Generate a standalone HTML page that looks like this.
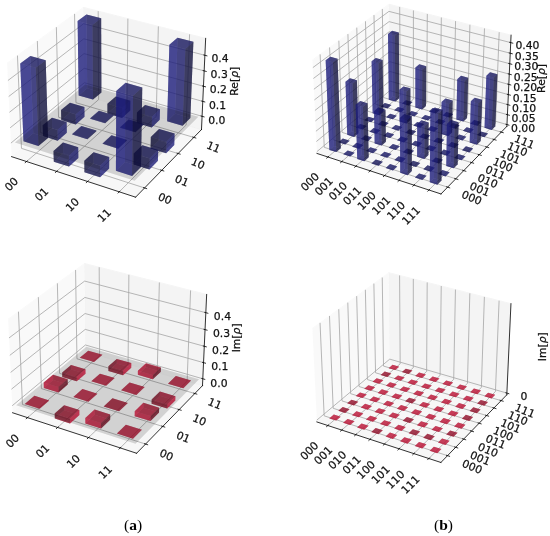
<!DOCTYPE html>
<html><head><meta charset="utf-8"><title>Figure</title>
<style>
html,body{margin:0;padding:0;background:#fff}
body{width:550px;height:536px;position:relative;overflow:hidden}
svg text{font-family:"DejaVu Sans","Liberation Sans",sans-serif;fill:#111;stroke:#111;stroke-width:0.25px}
.zl{font-size:10.8px}
.cap{position:absolute;font-family:"Liberation Serif","DejaVu Serif",serif;font-size:15.5px;color:#000;line-height:1}
.cap b{font-weight:bold}
</style></head><body>
<svg width="550" height="536" viewBox="0 0 550 536" style="position:absolute;left:0;top:0;display:block;filter:blur(0.35px)"> <defs> <style type="text/css">*{stroke-linejoin: round; stroke-linecap: butt}</style> </defs> <g id="figure_1"> <g id="patch_1"> <path d="M 0 536 L 550 536 L 550 0 L 0 0 z " style="fill: #ffffff"/> </g> <g id="patch_2"> <path d="M -1 211.1 L 215.7 211.1 L 215.7 -1 " style="fill: none; opacity: 0"/> </g> <g id="pane3d_1"> <g id="patch_3"> <path d="M 11.57 156.65 L 84.48 95.53 L 83.47 7.39 L 7.06 63.15 " style="fill: #f2f2f2; opacity: 0.4; stroke: #f2f2f2; stroke-linejoin: miter"/> </g> </g> <g id="pane3d_2"> <g id="patch_4"> <path d="M 84.48 95.53 L 201.49 129.54 L 205.66 38.36 L 83.47 7.39 " style="fill: #e6e6e6; opacity: 0.4; stroke: #e6e6e6; stroke-linejoin: miter"/> </g> </g> <g id="pane3d_3"> <g id="patch_5"> <path d="M 11.57 156.65 L 135.60 197.16 L 201.49 129.54 L 84.48 95.53 " style="fill: #ececec; opacity: 0.4; stroke: #ececec; stroke-linejoin: miter"/> </g> </g> <g id="grid3d_1"> <g id="Line3DCollection_1"> <path d="M 26.49 161.53 L 98.61 99.64 L 98.20 11.12 " style="fill: none; stroke: #a4a4a4; stroke-width: 0.8"/> <path d="M 56.59 171.36 L 127.08 107.91 L 127.89 18.65 " style="fill: none; stroke: #a4a4a4; stroke-width: 0.8"/> <path d="M 87.50 181.45 L 156.24 116.39 L 158.35 26.37 " style="fill: none; stroke: #a4a4a4; stroke-width: 0.8"/> <path d="M 119.24 191.82 L 186.11 125.07 L 189.58 34.28 " style="fill: none; stroke: #a4a4a4; stroke-width: 0.8"/> </g> </g> <g id="grid3d_2"> <g id="Line3DCollection_2"> <path d="M 17.46 55.56 L 21.46 148.36 L 144.57 187.95 " style="fill: none; stroke: #a4a4a4; stroke-width: 0.8"/> <path d="M 37.35 41.04 L 40.41 132.48 L 161.73 170.35 " style="fill: none; stroke: #a4a4a4; stroke-width: 0.8"/> <path d="M 56.37 27.17 L 58.56 117.27 L 178.12 153.52 " style="fill: none; stroke: #a4a4a4; stroke-width: 0.8"/> <path d="M 74.57 13.88 L 75.96 102.68 L 193.81 137.41 " style="fill: none; stroke: #a4a4a4; stroke-width: 0.8"/> </g> </g> <g id="grid3d_3"> <g id="Line3DCollection_3"> <path d="M 202.09 116.31 L 84.33 82.72 L 10.91 143.10 " style="fill: none; stroke: #a4a4a4; stroke-width: 0.8"/> <path d="M 202.77 101.39 L 84.17 68.28 L 10.18 127.81 " style="fill: none; stroke: #a4a4a4; stroke-width: 0.8"/> <path d="M 203.47 86.25 L 84.00 53.63 L 9.43 112.29 " style="fill: none; stroke: #a4a4a4; stroke-width: 0.8"/> <path d="M 204.17 70.88 L 83.83 38.79 L 8.67 96.54 " style="fill: none; stroke: #a4a4a4; stroke-width: 0.8"/> <path d="M 204.89 55.29 L 83.66 23.73 L 7.90 80.53 " style="fill: none; stroke: #a4a4a4; stroke-width: 0.8"/> </g> </g> <g id="axis3d_1"> <g id="line2d_1"> <path d="M 11.57 156.65 L 135.60 197.16 " style="fill: none; stroke: #000000; stroke-width: 0.8; stroke-linecap: square"/> </g> <g id="xtick_1"> <g id="line2d_2"> <path d="M 27.11 160.99 L 25.23 162.61 " style="fill: none; stroke: #000000; stroke-width: 0.8; stroke-linecap: square"/> </g> <g id="text_1"> <g transform="translate(1.5 -1.1)"><text style="font-size: 10.8px; font-family: 'DejaVu Sans'" transform="translate(7.65 192.83) rotate(-45)">00</text></g> </g> </g> <g id="xtick_2"> <g id="line2d_3"> <path d="M 57.21 170.81 L 55.36 172.47 " style="fill: none; stroke: #000000; stroke-width: 0.8; stroke-linecap: square"/> </g> <g id="text_2"> <g transform="translate(1.5 -1.1)"><text style="font-size: 10.8px; font-family: 'DejaVu Sans'" transform="translate(37.80 202.92) rotate(-45)">01</text></g> </g> </g> <g id="xtick_3"> <g id="line2d_4"> <path d="M 88.10 180.89 L 86.30 182.59 " style="fill: none; stroke: #000000; stroke-width: 0.8; stroke-linecap: square"/> </g> <g id="text_3"> <g transform="translate(1.5 -1.1)"><text style="font-size: 10.8px; font-family: 'DejaVu Sans'" transform="translate(68.75 213.27) rotate(-45)">10</text></g> </g> </g> <g id="xtick_4"> <g id="line2d_5"> <path d="M 119.82 191.23 L 118.07 192.99 " style="fill: none; stroke: #000000; stroke-width: 0.8; stroke-linecap: square"/> </g> <g id="text_4"> <g transform="translate(1.5 -1.1)"><text style="font-size: 10.8px; font-family: 'DejaVu Sans'" transform="translate(100.54 223.90) rotate(-45)">11</text></g> </g> </g> </g> <g id="axis3d_2"> <g id="line2d_6"> <path d="M 201.49 129.54 L 135.60 197.16 " style="fill: none; stroke: #000000; stroke-width: 0.8; stroke-linecap: square"/> </g> <g id="xtick_5"> <g id="line2d_7"> <path d="M 143.53 187.62 L 146.65 188.62 " style="fill: none; stroke: #000000; stroke-width: 0.8; stroke-linecap: square"/> </g> <g id="text_5"> <g transform="translate(-1 -2)"><text style="font-size: 10.8px; font-family: 'DejaVu Sans'" transform="translate(158.24 201.42) rotate(-337.5)">00</text></g> </g> </g> <g id="xtick_6"> <g id="line2d_8"> <path d="M 160.70 170.03 L 163.77 170.98 " style="fill: none; stroke: #000000; stroke-width: 0.8; stroke-linecap: square"/> </g> <g id="text_6"> <g transform="translate(-1 -2)"><text style="font-size: 10.8px; font-family: 'DejaVu Sans'" transform="translate(175.12 183.50) rotate(-337.5)">01</text></g> </g> </g> <g id="xtick_7"> <g id="line2d_9"> <path d="M 177.12 153.21 L 180.14 154.13 " style="fill: none; stroke: #000000; stroke-width: 0.8; stroke-linecap: square"/> </g> <g id="text_7"> <g transform="translate(-1 -2)"><text style="font-size: 10.8px; font-family: 'DejaVu Sans'" transform="translate(191.25 166.37) rotate(-337.5)">10</text></g> </g> </g> <g id="xtick_8"> <g id="line2d_10"> <path d="M 192.82 137.12 L 195.80 138.00 " style="fill: none; stroke: #000000; stroke-width: 0.8; stroke-linecap: square"/> </g> <g id="text_8"> <g transform="translate(-1 -2)"><text style="font-size: 10.8px; font-family: 'DejaVu Sans'" transform="translate(206.69 149.98) rotate(-337.5)">11</text></g> </g> </g> </g> <g id="axis3d_3"> <g id="line2d_11"> <path d="M 201.49 129.54 L 205.66 38.36 " style="fill: none; stroke: #000000; stroke-width: 0.8; stroke-linecap: square"/> </g> <g id="xtick_9"> <g id="line2d_12"> <path d="M 201.10 116.02 L 204.07 116.87 " style="fill: none; stroke: #000000; stroke-width: 0.8; stroke-linecap: square"/> </g> <g id="text_9"> <text style="font-size: 10.8px; font-family: 'DejaVu Sans'; text-anchor: middle" x="216.77" y="123.76">0.0</text> </g> </g> <g id="xtick_10"> <g id="line2d_13"> <path d="M 201.78 101.11 L 204.77 101.94 " style="fill: none; stroke: #000000; stroke-width: 0.8; stroke-linecap: square"/> </g> <g id="text_10"> <text style="font-size: 10.8px; font-family: 'DejaVu Sans'; text-anchor: middle" x="217.56" y="108.61">0.1</text> </g> </g> <g id="xtick_11"> <g id="line2d_14"> <path d="M 202.46 85.97 L 205.48 86.80 " style="fill: none; stroke: #000000; stroke-width: 0.8; stroke-linecap: square"/> </g> <g id="text_11"> <text style="font-size: 10.8px; font-family: 'DejaVu Sans'; text-anchor: middle" x="218.36" y="93.23">0.2</text> </g> </g> <g id="xtick_12"> <g id="line2d_15"> <path d="M 203.16 70.61 L 206.20 71.42 " style="fill: none; stroke: #000000; stroke-width: 0.8; stroke-linecap: square"/> </g> <g id="text_12"> <text style="font-size: 10.8px; font-family: 'DejaVu Sans'; text-anchor: middle" x="219.18" y="77.63">0.3</text> </g> </g> <g id="xtick_13"> <g id="line2d_16"> <path d="M 203.87 55.03 L 206.93 55.82 " style="fill: none; stroke: #000000; stroke-width: 0.8; stroke-linecap: square"/> </g> <g id="text_13"> <text style="font-size: 10.8px; font-family: 'DejaVu Sans'; text-anchor: middle" x="220.00" y="61.80">0.4</text> </g> </g> <g id="text_14"> <g transform="translate(239.11 95.68) rotate(-90)"><text class="zl" y="-0.64">Re[<tspan style="font-style: oblique">ρ</tspan>]</text></g> </g> </g> <g id="axes_1"> <g id="Poly3DCollection_1"> <path d="M 115.79 96.53 L 115.75 106.23 L 130.23 110.45 L 130.33 100.71 z " clip-path="url(#p7f9aa840dd)" style="fill: #1b1b7a; fill-opacity: 0.55"/> <path d="M 107.45 103.81 L 107.46 113.57 L 115.75 106.23 L 115.79 96.53 z " clip-path="url(#p7f9aa840dd)" style="fill: #0e0e3d; fill-opacity: 0.55"/> <path d="M 107.46 113.57 L 122.04 117.88 L 130.23 110.45 L 115.75 106.23 z " clip-path="url(#p7f9aa840dd)" style="fill: #18186b; fill-opacity: 0.55"/> <path d="M 107.45 103.81 L 115.79 96.53 L 130.33 100.71 L 122.11 108.07 z " clip-path="url(#p7f9aa840dd)" style="fill: #11114c; fill-opacity: 0.55"/> <path d="M 122.11 108.07 L 130.33 100.71 L 130.23 110.45 L 122.04 117.88 z " clip-path="url(#p7f9aa840dd)" style="fill: #1b1b7a; fill-opacity: 0.55"/> <path d="M 107.45 103.81 L 122.11 108.07 L 122.04 117.88 L 107.46 113.57 z " clip-path="url(#p7f9aa840dd)" style="fill: #0e0e3d; fill-opacity: 0.55"/> </g> <g id="Poly3DCollection_2"> <path d="M 69.97 102.67 L 70.15 112.57 L 84.48 116.86 L 84.37 106.93 z " clip-path="url(#p7f9aa840dd)" style="fill: #1b1b7a; fill-opacity: 0.55"/> <path d="M 61.07 110.07 L 61.30 120.04 L 70.15 112.57 L 69.97 102.67 z " clip-path="url(#p7f9aa840dd)" style="fill: #0e0e3d; fill-opacity: 0.55"/> <path d="M 61.30 120.04 L 75.73 124.43 L 84.48 116.86 L 70.15 112.57 z " clip-path="url(#p7f9aa840dd)" style="fill: #18186b; fill-opacity: 0.55"/> <path d="M 61.07 110.07 L 69.97 102.67 L 84.37 106.93 L 75.57 114.42 z " clip-path="url(#p7f9aa840dd)" style="fill: #11114c; fill-opacity: 0.55"/> <path d="M 75.57 114.42 L 84.37 106.93 L 84.48 116.86 L 75.73 124.43 z " clip-path="url(#p7f9aa840dd)" style="fill: #1b1b7a; fill-opacity: 0.55"/> <path d="M 61.07 110.07 L 75.57 114.42 L 75.73 124.43 L 61.30 120.04 z " clip-path="url(#p7f9aa840dd)" style="fill: #0e0e3d; fill-opacity: 0.55"/> </g> <g id="Poly3DCollection_3"> <path d="M 145.06 104.94 L 144.87 115.44 L 159.70 119.77 L 159.97 109.23 z " clip-path="url(#p7f9aa840dd)" style="fill: #1b1b7a; fill-opacity: 0.55"/> <path d="M 136.94 112.40 L 136.79 122.97 L 144.87 115.44 L 145.06 104.94 z " clip-path="url(#p7f9aa840dd)" style="fill: #0e0e3d; fill-opacity: 0.55"/> <path d="M 136.79 122.97 L 151.73 127.39 L 159.70 119.77 L 144.87 115.44 z " clip-path="url(#p7f9aa840dd)" style="fill: #18186b; fill-opacity: 0.55"/> <path d="M 136.94 112.40 L 145.06 104.94 L 159.97 109.23 L 151.96 116.77 z " clip-path="url(#p7f9aa840dd)" style="fill: #11114c; fill-opacity: 0.55"/> <path d="M 151.96 116.77 L 159.97 109.23 L 159.70 119.77 L 151.73 127.39 z " clip-path="url(#p7f9aa840dd)" style="fill: #1b1b7a; fill-opacity: 0.55"/> <path d="M 136.94 112.40 L 151.96 116.77 L 151.73 127.39 L 136.79 122.97 z " clip-path="url(#p7f9aa840dd)" style="fill: #0e0e3d; fill-opacity: 0.55"/> </g> <g id="Poly3DCollection_4"> <path d="M 98.94 111.23 L 98.94 110.79 L 113.70 115.15 L 113.70 115.59 z " clip-path="url(#p7f9aa840dd)" style="fill: #0e0e3d; fill-opacity: 0.55"/> <path d="M 90.25 118.82 L 90.25 118.37 L 98.94 110.79 L 98.94 111.23 z " clip-path="url(#p7f9aa840dd)" style="fill: #1b1b7a; fill-opacity: 0.55"/> <path d="M 90.25 118.82 L 98.94 111.23 L 113.70 115.59 L 105.11 123.28 z " clip-path="url(#p7f9aa840dd)" style="fill: #11114c; fill-opacity: 0.55"/> <path d="M 90.25 118.37 L 105.11 122.83 L 113.70 115.15 L 98.94 110.79 z " clip-path="url(#p7f9aa840dd)" style="fill: #18186b; fill-opacity: 0.55"/> <path d="M 105.11 123.28 L 113.70 115.59 L 113.70 115.15 L 105.11 122.83 z " clip-path="url(#p7f9aa840dd)" style="fill: #0e0e3d; fill-opacity: 0.55"/> <path d="M 90.25 118.82 L 105.11 123.28 L 105.11 122.83 L 90.25 118.37 z " clip-path="url(#p7f9aa840dd)" style="fill: #1b1b7a; fill-opacity: 0.55"/> </g> <g id="Poly3DCollection_5"> <path d="M 78.68 95.42 L 87.21 88.32 L 101.41 92.40 L 92.98 99.59 z " clip-path="url(#p7f9aa840dd)" style="fill: #11114c; fill-opacity: 0.55"/> <path d="M 87.21 88.32 L 86.46 14.56 L 101.17 18.32 L 101.41 92.40 z " clip-path="url(#p7f9aa840dd)" style="fill: #0e0e3d; fill-opacity: 0.55"/> <path d="M 78.68 95.42 L 77.62 21.11 L 86.46 14.56 L 87.21 88.32 z " clip-path="url(#p7f9aa840dd)" style="fill: #1b1b7a; fill-opacity: 0.55"/> <path d="M 92.98 99.59 L 101.41 92.40 L 101.17 18.32 L 92.43 24.96 z " clip-path="url(#p7f9aa840dd)" style="fill: #0e0e3d; fill-opacity: 0.55"/> <path d="M 78.68 95.42 L 92.98 99.59 L 92.43 24.96 L 77.62 21.11 z " clip-path="url(#p7f9aa840dd)" style="fill: #1b1b7a; fill-opacity: 0.55"/> <path d="M 77.62 21.11 L 92.43 24.96 L 101.17 18.32 L 86.46 14.56 z " clip-path="url(#p7f9aa840dd)" style="fill: #18186b; fill-opacity: 0.55"/> </g> <g id="Poly3DCollection_6"> <path d="M 51.99 117.64 L 52.28 128.26 L 66.80 132.74 L 66.59 122.08 z " clip-path="url(#p7f9aa840dd)" style="fill: #1b1b7a; fill-opacity: 0.55"/> <path d="M 42.70 125.36 L 43.05 136.06 L 52.28 128.26 L 51.99 117.64 z " clip-path="url(#p7f9aa840dd)" style="fill: #0e0e3d; fill-opacity: 0.55"/> <path d="M 43.05 136.06 L 57.67 140.64 L 66.80 132.74 L 52.28 128.26 z " clip-path="url(#p7f9aa840dd)" style="fill: #18186b; fill-opacity: 0.55"/> <path d="M 42.70 125.36 L 51.99 117.64 L 66.59 122.08 L 57.40 129.90 z " clip-path="url(#p7f9aa840dd)" style="fill: #11114c; fill-opacity: 0.55"/> <path d="M 57.40 129.90 L 66.59 122.08 L 66.80 132.74 L 57.67 140.64 z " clip-path="url(#p7f9aa840dd)" style="fill: #1b1b7a; fill-opacity: 0.55"/> <path d="M 42.70 125.36 L 57.40 129.90 L 57.67 140.64 L 43.05 136.06 z " clip-path="url(#p7f9aa840dd)" style="fill: #0e0e3d; fill-opacity: 0.55"/> </g> <g id="Poly3DCollection_7"> <path d="M 128.64 120.01 L 128.65 119.41 L 143.78 123.88 L 143.77 124.48 z " clip-path="url(#p7f9aa840dd)" style="fill: #0e0e3d; fill-opacity: 0.55"/> <path d="M 120.16 127.79 L 120.17 127.19 L 128.65 119.41 L 128.64 120.01 z " clip-path="url(#p7f9aa840dd)" style="fill: #1b1b7a; fill-opacity: 0.55"/> <path d="M 120.16 127.79 L 128.64 120.01 L 143.77 124.48 L 135.41 132.36 z " clip-path="url(#p7f9aa840dd)" style="fill: #11114c; fill-opacity: 0.55"/> <path d="M 120.17 127.19 L 135.41 131.76 L 143.78 123.88 L 128.65 119.41 z " clip-path="url(#p7f9aa840dd)" style="fill: #18186b; fill-opacity: 0.55"/> <path d="M 135.41 132.36 L 143.77 124.48 L 143.78 123.88 L 135.41 131.76 z " clip-path="url(#p7f9aa840dd)" style="fill: #0e0e3d; fill-opacity: 0.55"/> <path d="M 120.16 127.79 L 135.41 132.36 L 135.41 131.76 L 120.17 127.19 z " clip-path="url(#p7f9aa840dd)" style="fill: #1b1b7a; fill-opacity: 0.55"/> </g> <g id="Poly3DCollection_8"> <path d="M 81.37 126.57 L 81.36 125.98 L 96.33 130.53 L 96.34 131.13 z " clip-path="url(#p7f9aa840dd)" style="fill: #0e0e3d; fill-opacity: 0.55"/> <path d="M 72.29 134.50 L 72.28 133.90 L 81.36 125.98 L 81.37 126.57 z " clip-path="url(#p7f9aa840dd)" style="fill: #1b1b7a; fill-opacity: 0.55"/> <path d="M 72.29 134.50 L 81.37 126.57 L 96.34 131.13 L 87.37 139.15 z " clip-path="url(#p7f9aa840dd)" style="fill: #11114c; fill-opacity: 0.55"/> <path d="M 72.28 133.90 L 87.36 138.55 L 96.33 130.53 L 81.36 125.98 z " clip-path="url(#p7f9aa840dd)" style="fill: #18186b; fill-opacity: 0.55"/> <path d="M 87.37 139.15 L 96.34 131.13 L 96.33 130.53 L 87.36 138.55 z " clip-path="url(#p7f9aa840dd)" style="fill: #0e0e3d; fill-opacity: 0.55"/> <path d="M 72.29 134.50 L 87.37 139.15 L 87.36 138.55 L 72.28 133.90 z " clip-path="url(#p7f9aa840dd)" style="fill: #1b1b7a; fill-opacity: 0.55"/> </g> <g id="Poly3DCollection_9"> <path d="M 159.09 129.01 L 158.81 140.48 L 174.23 145.11 L 174.61 133.59 z " clip-path="url(#p7f9aa840dd)" style="fill: #1b1b7a; fill-opacity: 0.55"/> <path d="M 150.84 136.99 L 150.60 148.54 L 158.81 140.48 L 159.09 129.01 z " clip-path="url(#p7f9aa840dd)" style="fill: #0e0e3d; fill-opacity: 0.55"/> <path d="M 150.60 148.54 L 166.15 153.27 L 174.23 145.11 L 158.81 140.48 z " clip-path="url(#p7f9aa840dd)" style="fill: #18186b; fill-opacity: 0.55"/> <path d="M 150.84 136.99 L 159.09 129.01 L 174.61 133.59 L 166.48 141.67 z " clip-path="url(#p7f9aa840dd)" style="fill: #11114c; fill-opacity: 0.55"/> <path d="M 166.48 141.67 L 174.61 133.59 L 174.23 145.11 L 166.15 153.27 z " clip-path="url(#p7f9aa840dd)" style="fill: #1b1b7a; fill-opacity: 0.55"/> <path d="M 150.84 136.99 L 166.48 141.67 L 166.15 153.27 L 150.60 148.54 z " clip-path="url(#p7f9aa840dd)" style="fill: #0e0e3d; fill-opacity: 0.55"/> </g> <g id="Poly3DCollection_10"> <path d="M 111.50 135.74 L 111.50 135.29 L 126.86 139.96 L 126.85 140.41 z " clip-path="url(#p7f9aa840dd)" style="fill: #0e0e3d; fill-opacity: 0.55"/> <path d="M 102.64 143.87 L 102.64 143.41 L 111.50 135.29 L 111.50 135.74 z " clip-path="url(#p7f9aa840dd)" style="fill: #1b1b7a; fill-opacity: 0.55"/> <path d="M 102.64 143.87 L 111.50 135.74 L 126.85 140.41 L 118.11 148.64 z " clip-path="url(#p7f9aa840dd)" style="fill: #11114c; fill-opacity: 0.55"/> <path d="M 102.64 143.41 L 118.11 148.19 L 126.86 139.96 L 111.50 135.29 z " clip-path="url(#p7f9aa840dd)" style="fill: #18186b; fill-opacity: 0.55"/> <path d="M 118.11 148.64 L 126.85 140.41 L 126.86 139.96 L 118.11 148.19 z " clip-path="url(#p7f9aa840dd)" style="fill: #0e0e3d; fill-opacity: 0.55"/> <path d="M 102.64 143.87 L 118.11 148.64 L 118.11 148.19 L 102.64 143.41 z " clip-path="url(#p7f9aa840dd)" style="fill: #1b1b7a; fill-opacity: 0.55"/> </g> <g id="Poly3DCollection_11"> <path d="M 167.16 121.20 L 175.06 113.56 L 190.34 117.95 L 182.56 125.69 z " clip-path="url(#p7f9aa840dd)" style="fill: #11114c; fill-opacity: 0.55"/> <path d="M 175.06 113.56 L 177.53 37.73 L 193.40 41.79 L 190.34 117.95 z " clip-path="url(#p7f9aa840dd)" style="fill: #0e0e3d; fill-opacity: 0.55"/> <path d="M 167.16 121.20 L 169.37 44.80 L 177.53 37.73 L 175.06 113.56 z " clip-path="url(#p7f9aa840dd)" style="fill: #1b1b7a; fill-opacity: 0.55"/> <path d="M 182.56 125.69 L 190.34 117.95 L 193.40 41.79 L 185.36 48.95 z " clip-path="url(#p7f9aa840dd)" style="fill: #0e0e3d; fill-opacity: 0.55"/> <path d="M 167.16 121.20 L 182.56 125.69 L 185.36 48.95 L 169.37 44.80 z " clip-path="url(#p7f9aa840dd)" style="fill: #1b1b7a; fill-opacity: 0.55"/> <path d="M 169.37 44.80 L 185.36 48.95 L 193.40 41.79 L 177.53 37.73 z " clip-path="url(#p7f9aa840dd)" style="fill: #18186b; fill-opacity: 0.55"/> </g> <g id="Poly3DCollection_12"> <path d="M 63.01 142.60 L 63.25 153.31 L 78.35 158.11 L 78.19 147.36 z " clip-path="url(#p7f9aa840dd)" style="fill: #1b1b7a; fill-opacity: 0.55"/> <path d="M 53.51 150.88 L 53.81 161.67 L 63.25 153.31 L 63.01 142.60 z " clip-path="url(#p7f9aa840dd)" style="fill: #0e0e3d; fill-opacity: 0.55"/> <path d="M 53.81 161.67 L 69.03 166.58 L 78.35 158.11 L 63.25 153.31 z " clip-path="url(#p7f9aa840dd)" style="fill: #18186b; fill-opacity: 0.55"/> <path d="M 53.51 150.88 L 63.01 142.60 L 78.19 147.36 L 68.81 155.75 z " clip-path="url(#p7f9aa840dd)" style="fill: #11114c; fill-opacity: 0.55"/> <path d="M 68.81 155.75 L 78.19 147.36 L 78.35 158.11 L 69.03 166.58 z " clip-path="url(#p7f9aa840dd)" style="fill: #1b1b7a; fill-opacity: 0.55"/> <path d="M 53.51 150.88 L 68.81 155.75 L 69.03 166.58 L 53.81 161.67 z " clip-path="url(#p7f9aa840dd)" style="fill: #0e0e3d; fill-opacity: 0.55"/> </g> <g id="Poly3DCollection_13"> <path d="M 142.41 145.14 L 142.23 156.03 L 157.90 160.86 L 158.17 149.94 z " clip-path="url(#p7f9aa840dd)" style="fill: #1b1b7a; fill-opacity: 0.55"/> <path d="M 133.78 153.48 L 133.64 164.45 L 142.23 156.03 L 142.41 145.14 z " clip-path="url(#p7f9aa840dd)" style="fill: #0e0e3d; fill-opacity: 0.55"/> <path d="M 133.64 164.45 L 149.44 169.39 L 157.90 160.86 L 142.23 156.03 z " clip-path="url(#p7f9aa840dd)" style="fill: #18186b; fill-opacity: 0.55"/> <path d="M 133.78 153.48 L 142.41 145.14 L 158.17 149.94 L 149.66 158.39 z " clip-path="url(#p7f9aa840dd)" style="fill: #11114c; fill-opacity: 0.55"/> <path d="M 149.66 158.39 L 158.17 149.94 L 157.90 160.86 L 149.44 169.39 z " clip-path="url(#p7f9aa840dd)" style="fill: #1b1b7a; fill-opacity: 0.55"/> <path d="M 133.78 153.48 L 149.66 158.39 L 149.44 169.39 L 133.64 164.45 z " clip-path="url(#p7f9aa840dd)" style="fill: #0e0e3d; fill-opacity: 0.55"/> </g> <g id="Poly3DCollection_14"> <path d="M 93.58 152.18 L 93.66 163.58 L 109.16 168.52 L 109.17 157.07 z " clip-path="url(#p7f9aa840dd)" style="fill: #1b1b7a; fill-opacity: 0.55"/> <path d="M 84.31 160.68 L 84.45 172.17 L 93.66 163.58 L 93.58 152.18 z " clip-path="url(#p7f9aa840dd)" style="fill: #0e0e3d; fill-opacity: 0.55"/> <path d="M 84.45 172.17 L 100.07 177.21 L 109.16 168.52 L 93.66 163.58 z " clip-path="url(#p7f9aa840dd)" style="fill: #18186b; fill-opacity: 0.55"/> <path d="M 84.31 160.68 L 93.58 152.18 L 109.17 157.07 L 100.02 165.68 z " clip-path="url(#p7f9aa840dd)" style="fill: #11114c; fill-opacity: 0.55"/> <path d="M 100.02 165.68 L 109.17 157.07 L 109.16 168.52 L 100.07 177.21 z " clip-path="url(#p7f9aa840dd)" style="fill: #1b1b7a; fill-opacity: 0.55"/> <path d="M 84.31 160.68 L 100.02 165.68 L 100.07 177.21 L 84.45 172.17 z " clip-path="url(#p7f9aa840dd)" style="fill: #0e0e3d; fill-opacity: 0.55"/> </g> <g id="Poly3DCollection_15"> <path d="M 23.51 141.33 L 33.21 133.26 L 48.01 137.90 L 38.42 146.08 z " clip-path="url(#p7f9aa840dd)" style="fill: #11114c; fill-opacity: 0.55"/> <path d="M 33.21 133.26 L 30.36 55.97 L 45.71 60.28 L 48.01 137.90 z " clip-path="url(#p7f9aa840dd)" style="fill: #0e0e3d; fill-opacity: 0.55"/> <path d="M 23.51 141.33 L 20.25 63.46 L 30.36 55.97 L 33.21 133.26 z " clip-path="url(#p7f9aa840dd)" style="fill: #1b1b7a; fill-opacity: 0.55"/> <path d="M 38.42 146.08 L 48.01 137.90 L 45.71 60.28 L 35.71 67.87 z " clip-path="url(#p7f9aa840dd)" style="fill: #0e0e3d; fill-opacity: 0.55"/> <path d="M 23.51 141.33 L 38.42 146.08 L 35.71 67.87 L 20.25 63.46 z " clip-path="url(#p7f9aa840dd)" style="fill: #1b1b7a; fill-opacity: 0.55"/> <path d="M 20.25 63.46 L 35.71 67.87 L 45.71 60.28 L 30.36 55.97 z " clip-path="url(#p7f9aa840dd)" style="fill: #18186b; fill-opacity: 0.55"/> </g> <g id="Poly3DCollection_16"> <path d="M 14.88 142.54 L 134.61 180.85 L 198.40 116.82 L 85.23 84.47 z " clip-path="url(#p7f9aa840dd)" style="fill-opacity: 0.15"/> </g> <g id="Poly3DCollection_17"> <path d="M 115.93 170.75 L 124.96 162.02 L 140.97 167.03 L 132.06 175.88 z " clip-path="url(#p7f9aa840dd)" style="fill: #11114c; fill-opacity: 0.55"/> <path d="M 124.96 162.02 L 125.62 82.85 L 142.27 87.51 L 140.97 167.03 z " clip-path="url(#p7f9aa840dd)" style="fill: #0e0e3d; fill-opacity: 0.55"/> <path d="M 115.93 170.75 L 116.24 90.97 L 125.62 82.85 L 124.96 162.02 z " clip-path="url(#p7f9aa840dd)" style="fill: #1b1b7a; fill-opacity: 0.55"/> <path d="M 132.06 175.88 L 140.97 167.03 L 142.27 87.51 L 133.02 95.75 z " clip-path="url(#p7f9aa840dd)" style="fill: #0e0e3d; fill-opacity: 0.55"/> <path d="M 115.93 170.75 L 132.06 175.88 L 133.02 95.75 L 116.24 90.97 z " clip-path="url(#p7f9aa840dd)" style="fill: #1b1b7a; fill-opacity: 0.55"/> <path d="M 116.24 90.97 L 133.02 95.75 L 142.27 87.51 L 125.62 82.85 z " clip-path="url(#p7f9aa840dd)" style="fill: #18186b; fill-opacity: 0.55"/> </g> </g> <g id="patch_6"> <path d="M 300.3 207.9 L 521.1 207.9 L 521.1 -1 M 300.3 -1 L 300.3 207.9 " style="fill: none; opacity: 0"/> </g> <g id="pane3d_4"> <g id="patch_7"> <path d="M 316.97 153.45 L 389.88 92.33 L 388.87 4.19 L 312.46 59.95 " style="fill: #f2f2f2; opacity: 0.4; stroke: #f2f2f2; stroke-linejoin: miter"/> </g> </g> <g id="pane3d_5"> <g id="patch_8"> <path d="M 389.88 92.33 L 506.89 126.34 L 511.06 35.16 L 388.87 4.19 " style="fill: #e6e6e6; opacity: 0.4; stroke: #e6e6e6; stroke-linejoin: miter"/> </g> </g> <g id="pane3d_6"> <g id="patch_9"> <path d="M 316.97 153.45 L 441.00 193.96 L 506.89 126.34 L 389.88 92.33 " style="fill: #ececec; opacity: 0.4; stroke: #ececec; stroke-linejoin: miter"/> </g> </g> <g id="grid3d_4"> <g id="Line3DCollection_4"> <path d="M 327.93 157.03 L 400.27 95.35 L 399.69 6.93 " style="fill: none; stroke: #a4a4a4; stroke-width: 0.8"/> <path d="M 341.84 161.57 L 413.42 99.18 L 413.41 10.41 " style="fill: none; stroke: #a4a4a4; stroke-width: 0.8"/> <path d="M 355.91 166.17 L 426.73 103.04 L 427.30 13.93 " style="fill: none; stroke: #a4a4a4; stroke-width: 0.8"/> <path d="M 370.16 170.82 L 440.19 106.96 L 441.34 17.49 " style="fill: none; stroke: #a4a4a4; stroke-width: 0.8"/> <path d="M 384.58 175.54 L 453.79 110.91 L 455.55 21.09 " style="fill: none; stroke: #a4a4a4; stroke-width: 0.8"/> <path d="M 399.18 180.30 L 467.55 114.91 L 469.93 24.74 " style="fill: none; stroke: #a4a4a4; stroke-width: 0.8"/> <path d="M 413.96 185.13 L 481.47 118.96 L 484.48 28.42 " style="fill: none; stroke: #a4a4a4; stroke-width: 0.8"/> <path d="M 428.93 190.02 L 495.55 123.05 L 499.20 32.16 " style="fill: none; stroke: #a4a4a4; stroke-width: 0.8"/> </g> </g> <g id="grid3d_5"> <g id="Line3DCollection_5"> <path d="M 320.14 54.34 L 324.27 147.33 L 447.62 187.16 " style="fill: none; stroke: #a4a4a4; stroke-width: 0.8"/> <path d="M 329.59 47.45 L 333.27 139.79 L 455.78 178.79 " style="fill: none; stroke: #a4a4a4; stroke-width: 0.8"/> <path d="M 338.85 40.69 L 342.08 132.40 L 463.76 170.60 " style="fill: none; stroke: #a4a4a4; stroke-width: 0.8"/> <path d="M 347.91 34.08 L 350.72 125.16 L 471.57 162.58 " style="fill: none; stroke: #a4a4a4; stroke-width: 0.8"/> <path d="M 356.78 27.61 L 359.19 118.06 L 479.22 154.73 " style="fill: none; stroke: #a4a4a4; stroke-width: 0.8"/> <path d="M 365.47 21.26 L 367.50 111.10 L 486.72 147.04 " style="fill: none; stroke: #a4a4a4; stroke-width: 0.8"/> <path d="M 373.99 15.05 L 375.64 104.27 L 494.06 139.50 " style="fill: none; stroke: #a4a4a4; stroke-width: 0.8"/> <path d="M 382.34 8.96 L 383.63 97.58 L 501.25 132.12 " style="fill: none; stroke: #a4a4a4; stroke-width: 0.8"/> </g> </g> <g id="grid3d_6"> <g id="Line3DCollection_6"> <path d="M 506.97 124.59 L 389.86 90.64 L 316.88 151.66 " style="fill: none; stroke: #a4a4a4; stroke-width: 0.8"/> <path d="M 507.42 114.70 L 389.75 81.06 L 316.39 141.53 " style="fill: none; stroke: #a4a4a4; stroke-width: 0.8"/> <path d="M 507.88 104.70 L 389.64 71.38 L 315.90 131.29 " style="fill: none; stroke: #a4a4a4; stroke-width: 0.8"/> <path d="M 508.34 94.61 L 389.53 61.62 L 315.40 120.95 " style="fill: none; stroke: #a4a4a4; stroke-width: 0.8"/> <path d="M 508.81 84.42 L 389.42 51.76 L 314.90 110.50 " style="fill: none; stroke: #a4a4a4; stroke-width: 0.8"/> <path d="M 509.28 74.12 L 389.30 41.81 L 314.39 99.94 " style="fill: none; stroke: #a4a4a4; stroke-width: 0.8"/> <path d="M 509.75 63.73 L 389.19 31.76 L 313.88 89.27 " style="fill: none; stroke: #a4a4a4; stroke-width: 0.8"/> <path d="M 510.23 53.23 L 389.07 21.62 L 313.36 78.50 " style="fill: none; stroke: #a4a4a4; stroke-width: 0.8"/> <path d="M 510.72 42.62 L 388.95 11.39 L 312.83 67.61 " style="fill: none; stroke: #a4a4a4; stroke-width: 0.8"/> </g> </g> <g id="axis3d_4"> <g id="line2d_17"> <path d="M 316.97 153.45 L 441.00 193.96 " style="fill: none; stroke: #000000; stroke-width: 0.8; stroke-linecap: square"/> </g> <g id="xtick_14"> <g id="line2d_18"> <path d="M 328.56 156.50 L 326.67 158.11 " style="fill: none; stroke: #000000; stroke-width: 0.8; stroke-linecap: square"/> </g> <g id="text_15"> <g transform="translate(1 -1.5)"><text style="font-size: 10.8px; font-family: 'DejaVu Sans'" transform="translate(304.23 193.16) rotate(-45)">000</text></g> </g> </g> <g id="xtick_15"> <g id="line2d_19"> <path d="M 342.46 161.03 L 340.58 162.66 " style="fill: none; stroke: #000000; stroke-width: 0.8; stroke-linecap: square"/> </g> <g id="text_16"> <g transform="translate(1 -1.5)"><text style="font-size: 10.8px; font-family: 'DejaVu Sans'" transform="translate(318.16 197.82) rotate(-45)">001</text></g> </g> </g> <g id="xtick_16"> <g id="line2d_20"> <path d="M 356.53 165.62 L 354.67 167.27 " style="fill: none; stroke: #000000; stroke-width: 0.8; stroke-linecap: square"/> </g> <g id="text_17"> <g transform="translate(1 -1.5)"><text style="font-size: 10.8px; font-family: 'DejaVu Sans'" transform="translate(332.25 202.54) rotate(-45)">010</text></g> </g> </g> <g id="xtick_17"> <g id="line2d_21"> <path d="M 370.77 170.27 L 368.93 171.94 " style="fill: none; stroke: #000000; stroke-width: 0.8; stroke-linecap: square"/> </g> <g id="text_18"> <g transform="translate(1 -1.5)"><text style="font-size: 10.8px; font-family: 'DejaVu Sans'" transform="translate(346.52 207.31) rotate(-45)">011</text></g> </g> </g> <g id="xtick_18"> <g id="line2d_22"> <path d="M 385.18 174.97 L 383.37 176.67 " style="fill: none; stroke: #000000; stroke-width: 0.8; stroke-linecap: square"/> </g> <g id="text_19"> <g transform="translate(1 -1.5)"><text style="font-size: 10.8px; font-family: 'DejaVu Sans'" transform="translate(360.96 212.14) rotate(-45)">100</text></g> </g> </g> <g id="xtick_19"> <g id="line2d_23"> <path d="M 399.78 179.73 L 397.98 181.45 " style="fill: none; stroke: #000000; stroke-width: 0.8; stroke-linecap: square"/> </g> <g id="text_20"> <g transform="translate(1 -1.5)"><text style="font-size: 10.8px; font-family: 'DejaVu Sans'" transform="translate(375.58 217.03) rotate(-45)">101</text></g> </g> </g> <g id="xtick_20"> <g id="line2d_24"> <path d="M 414.55 184.55 L 412.78 186.29 " style="fill: none; stroke: #000000; stroke-width: 0.8; stroke-linecap: square"/> </g> <g id="text_21"> <g transform="translate(1 -1.5)"><text style="font-size: 10.8px; font-family: 'DejaVu Sans'" transform="translate(390.39 221.99) rotate(-45)">110</text></g> </g> </g> <g id="xtick_21"> <g id="line2d_25"> <path d="M 429.52 189.44 L 427.77 191.19 " style="fill: none; stroke: #000000; stroke-width: 0.8; stroke-linecap: square"/> </g> <g id="text_22"> <g transform="translate(1 -1.5)"><text style="font-size: 10.8px; font-family: 'DejaVu Sans'" transform="translate(405.38 227.00) rotate(-45)">111</text></g> </g> </g> </g> <g id="axis3d_5"> <g id="line2d_26"> <path d="M 506.89 126.34 L 441.00 193.96 " style="fill: none; stroke: #000000; stroke-width: 0.8; stroke-linecap: square"/> </g> <g id="xtick_22"> <g id="line2d_27"> <path d="M 446.58 186.83 L 449.70 187.83 " style="fill: none; stroke: #000000; stroke-width: 0.8; stroke-linecap: square"/> </g> <g id="text_23"> <g transform="translate(-0.5 -2)"><text style="font-size: 10.8px; font-family: 'DejaVu Sans'" transform="translate(461.33 199.36) rotate(-337.5)">000</text></g> </g> </g> <g id="xtick_23"> <g id="line2d_28"> <path d="M 454.74 178.47 L 457.84 179.45 " style="fill: none; stroke: #000000; stroke-width: 0.8; stroke-linecap: square"/> </g> <g id="text_24"> <g transform="translate(-0.5 -2)"><text style="font-size: 10.8px; font-family: 'DejaVu Sans'" transform="translate(469.35 190.84) rotate(-337.5)">001</text></g> </g> </g> <g id="xtick_24"> <g id="line2d_29"> <path d="M 462.73 170.28 L 465.81 171.25 " style="fill: none; stroke: #000000; stroke-width: 0.8; stroke-linecap: square"/> </g> <g id="text_25"> <g transform="translate(-0.5 -2)"><text style="font-size: 10.8px; font-family: 'DejaVu Sans'" transform="translate(477.20 182.50) rotate(-337.5)">010</text></g> </g> </g> <g id="xtick_25"> <g id="line2d_30"> <path d="M 470.55 162.27 L 473.61 163.21 " style="fill: none; stroke: #000000; stroke-width: 0.8; stroke-linecap: square"/> </g> <g id="text_26"> <g transform="translate(-0.5 -2)"><text style="font-size: 10.8px; font-family: 'DejaVu Sans'" transform="translate(484.89 174.34) rotate(-337.5)">011</text></g> </g> </g> <g id="xtick_26"> <g id="line2d_31"> <path d="M 478.21 154.42 L 481.24 155.35 " style="fill: none; stroke: #000000; stroke-width: 0.8; stroke-linecap: square"/> </g> <g id="text_27"> <g transform="translate(-0.5 -2)"><text style="font-size: 10.8px; font-family: 'DejaVu Sans'" transform="translate(492.42 166.35) rotate(-337.5)">100</text></g> </g> </g> <g id="xtick_27"> <g id="line2d_32"> <path d="M 485.72 146.74 L 488.72 147.64 " style="fill: none; stroke: #000000; stroke-width: 0.8; stroke-linecap: square"/> </g> <g id="text_28"> <g transform="translate(-0.5 -2)"><text style="font-size: 10.8px; font-family: 'DejaVu Sans'" transform="translate(499.79 158.52) rotate(-337.5)">101</text></g> </g> </g> <g id="xtick_28"> <g id="line2d_33"> <path d="M 493.07 139.21 L 496.05 140.10 " style="fill: none; stroke: #000000; stroke-width: 0.8; stroke-linecap: square"/> </g> <g id="text_29"> <g transform="translate(-0.5 -2)"><text style="font-size: 10.8px; font-family: 'DejaVu Sans'" transform="translate(507.02 150.85) rotate(-337.5)">110</text></g> </g> </g> <g id="xtick_29"> <g id="line2d_34"> <path d="M 500.27 131.83 L 503.23 132.70 " style="fill: none; stroke: #000000; stroke-width: 0.8; stroke-linecap: square"/> </g> <g id="text_30"> <g transform="translate(-0.5 -2)"><text style="font-size: 10.8px; font-family: 'DejaVu Sans'" transform="translate(514.09 143.34) rotate(-337.5)">111</text></g> </g> </g> </g> <g id="axis3d_6"> <g id="line2d_35"> <path d="M 506.89 126.34 L 511.06 35.16 " style="fill: none; stroke: #000000; stroke-width: 0.8; stroke-linecap: square"/> </g> <g id="xtick_30"> <g id="line2d_36"> <path d="M 505.98 124.31 L 508.93 125.17 " style="fill: none; stroke: #000000; stroke-width: 0.8; stroke-linecap: square"/> </g> <g id="text_31"> <text style="font-size: 10.8px; font-family: 'DejaVu Sans'; text-anchor: middle" x="523.06" y="132.09">0.00</text> </g> </g> <g id="xtick_31"> <g id="line2d_37"> <path d="M 506.43 114.41 L 509.40 115.26 " style="fill: none; stroke: #000000; stroke-width: 0.8; stroke-linecap: square"/> </g> <g id="text_32"> <text style="font-size: 10.8px; font-family: 'DejaVu Sans'; text-anchor: middle" x="523.58" y="122.04">0.05</text> </g> </g> <g id="xtick_32"> <g id="line2d_38"> <path d="M 506.88 104.42 L 509.86 105.26 " style="fill: none; stroke: #000000; stroke-width: 0.8; stroke-linecap: square"/> </g> <g id="text_33"> <text style="font-size: 10.8px; font-family: 'DejaVu Sans'; text-anchor: middle" x="524.11" y="111.89">0.10</text> </g> </g> <g id="xtick_33"> <g id="line2d_39"> <path d="M 507.34 94.33 L 510.34 95.16 " style="fill: none; stroke: #000000; stroke-width: 0.8; stroke-linecap: square"/> </g> <g id="text_34"> <text style="font-size: 10.8px; font-family: 'DejaVu Sans'; text-anchor: middle" x="524.65" y="101.64">0.15</text> </g> </g> <g id="xtick_34"> <g id="line2d_40"> <path d="M 507.80 84.14 L 510.81 84.97 " style="fill: none; stroke: #000000; stroke-width: 0.8; stroke-linecap: square"/> </g> <g id="text_35"> <text style="font-size: 10.8px; font-family: 'DejaVu Sans'; text-anchor: middle" x="525.19" y="91.29">0.20</text> </g> </g> <g id="xtick_35"> <g id="line2d_41"> <path d="M 508.27 73.85 L 511.30 74.67 " style="fill: none; stroke: #000000; stroke-width: 0.8; stroke-linecap: square"/> </g> <g id="text_36"> <text style="font-size: 10.8px; font-family: 'DejaVu Sans'; text-anchor: middle" x="525.74" y="80.84">0.25</text> </g> </g> <g id="xtick_36"> <g id="line2d_42"> <path d="M 508.74 63.46 L 511.78 64.27 " style="fill: none; stroke: #000000; stroke-width: 0.8; stroke-linecap: square"/> </g> <g id="text_37"> <text style="font-size: 10.8px; font-family: 'DejaVu Sans'; text-anchor: middle" x="526.29" y="70.28">0.30</text> </g> </g> <g id="xtick_37"> <g id="line2d_43"> <path d="M 509.21 52.96 L 512.27 53.76 " style="fill: none; stroke: #000000; stroke-width: 0.8; stroke-linecap: square"/> </g> <g id="text_38"> <text style="font-size: 10.8px; font-family: 'DejaVu Sans'; text-anchor: middle" x="526.84" y="59.62">0.35</text> </g> </g> <g id="xtick_38"> <g id="line2d_44"> <path d="M 509.70 42.36 L 512.77 43.15 " style="fill: none; stroke: #000000; stroke-width: 0.8; stroke-linecap: square"/> </g> <g id="text_39"> <text style="font-size: 10.8px; font-family: 'DejaVu Sans'; text-anchor: middle" x="527.41" y="48.85">0.40</text> </g> </g> <g id="text_40"> <g transform="translate(545.21 92.88) rotate(-90)"><text class="zl" y="-0.64">Re[<tspan style="font-style: oblique">ρ</tspan>]</text></g> </g> </g> <g id="axes_2"> <g id="Poly3DCollection_18"> <path d="M 405.90 100.16 L 405.90 100.16 L 412.55 102.10 L 412.55 102.10 z " clip-path="url(#pb21ce0d8b9)" style="fill: #0e0e3d; fill-opacity: 0.55"/> <path d="M 402.01 103.53 L 402.01 103.53 L 405.90 100.16 L 405.90 100.16 z " clip-path="url(#pb21ce0d8b9)" style="fill: #0e0e3d; fill-opacity: 0.55"/> <path d="M 402.01 103.53 L 408.67 105.49 L 412.55 102.10 L 405.90 100.16 z " clip-path="url(#pb21ce0d8b9)" style="fill: #18186b; fill-opacity: 0.55"/> <path d="M 402.01 103.53 L 405.90 100.16 L 412.55 102.10 L 408.67 105.49 z " clip-path="url(#pb21ce0d8b9)" style="fill: #11114c; fill-opacity: 0.55"/> <path d="M 408.67 105.49 L 412.55 102.10 L 412.55 102.10 L 408.67 105.49 z " clip-path="url(#pb21ce0d8b9)" style="fill: #0e0e3d; fill-opacity: 0.55"/> <path d="M 402.01 103.53 L 408.67 105.49 L 408.67 105.49 L 402.01 103.53 z " clip-path="url(#pb21ce0d8b9)" style="fill: #0e0e3d; fill-opacity: 0.55"/> </g> <g id="Poly3DCollection_19"> <path d="M 384.81 103.01 L 384.81 103.01 L 391.42 104.96 L 391.42 104.96 z " clip-path="url(#pb21ce0d8b9)" style="fill: #0e0e3d; fill-opacity: 0.55"/> <path d="M 380.80 106.40 L 380.80 106.40 L 384.81 103.01 L 384.81 103.01 z " clip-path="url(#pb21ce0d8b9)" style="fill: #0e0e3d; fill-opacity: 0.55"/> <path d="M 380.80 106.40 L 387.43 108.38 L 391.42 104.96 L 384.81 103.01 z " clip-path="url(#pb21ce0d8b9)" style="fill: #18186b; fill-opacity: 0.55"/> <path d="M 380.80 106.40 L 384.81 103.01 L 391.42 104.96 L 387.43 108.38 z " clip-path="url(#pb21ce0d8b9)" style="fill: #11114c; fill-opacity: 0.55"/> <path d="M 387.43 108.38 L 391.42 104.96 L 391.42 104.96 L 387.43 108.38 z " clip-path="url(#pb21ce0d8b9)" style="fill: #0e0e3d; fill-opacity: 0.55"/> <path d="M 380.80 106.40 L 387.43 108.38 L 387.43 108.38 L 380.80 106.40 z " clip-path="url(#pb21ce0d8b9)" style="fill: #0e0e3d; fill-opacity: 0.55"/> </g> <g id="Poly3DCollection_20"> <path d="M 398.07 106.93 L 398.07 106.93 L 404.76 108.91 L 404.76 108.91 z " clip-path="url(#pb21ce0d8b9)" style="fill: #0e0e3d; fill-opacity: 0.55"/> <path d="M 394.10 110.36 L 394.10 110.36 L 398.07 106.93 L 398.07 106.93 z " clip-path="url(#pb21ce0d8b9)" style="fill: #0e0e3d; fill-opacity: 0.55"/> <path d="M 394.10 110.36 L 398.07 106.93 L 404.76 108.91 L 400.81 112.36 z " clip-path="url(#pb21ce0d8b9)" style="fill: #11114c; fill-opacity: 0.55"/> <path d="M 394.10 110.36 L 400.81 112.36 L 404.76 108.91 L 398.07 106.93 z " clip-path="url(#pb21ce0d8b9)" style="fill: #18186b; fill-opacity: 0.55"/> <path d="M 400.81 112.36 L 404.76 108.91 L 404.76 108.91 L 400.81 112.36 z " clip-path="url(#pb21ce0d8b9)" style="fill: #0e0e3d; fill-opacity: 0.55"/> <path d="M 394.10 110.36 L 400.81 112.36 L 400.81 112.36 L 394.10 110.36 z " clip-path="url(#pb21ce0d8b9)" style="fill: #0e0e3d; fill-opacity: 0.55"/> </g> <g id="Poly3DCollection_21"> <path d="M 432.71 107.99 L 432.71 107.99 L 439.50 109.97 L 439.50 109.97 z " clip-path="url(#pb21ce0d8b9)" style="fill: #0e0e3d; fill-opacity: 0.55"/> <path d="M 428.90 111.43 L 428.90 111.43 L 432.71 107.99 L 432.71 107.99 z " clip-path="url(#pb21ce0d8b9)" style="fill: #0e0e3d; fill-opacity: 0.55"/> <path d="M 428.90 111.43 L 432.71 107.99 L 439.50 109.97 L 435.72 113.44 z " clip-path="url(#pb21ce0d8b9)" style="fill: #11114c; fill-opacity: 0.55"/> <path d="M 428.90 111.43 L 435.72 113.44 L 439.50 109.97 L 432.71 107.99 z " clip-path="url(#pb21ce0d8b9)" style="fill: #18186b; fill-opacity: 0.55"/> <path d="M 435.72 113.44 L 439.50 109.97 L 439.50 109.97 L 435.72 113.44 z " clip-path="url(#pb21ce0d8b9)" style="fill: #0e0e3d; fill-opacity: 0.55"/> <path d="M 428.90 111.43 L 435.72 113.44 L 435.72 113.44 L 428.90 111.43 z " clip-path="url(#pb21ce0d8b9)" style="fill: #0e0e3d; fill-opacity: 0.55"/> </g> <g id="Poly3DCollection_22"> <path d="M 411.49 110.90 L 411.49 110.90 L 418.25 112.90 L 418.25 112.90 z " clip-path="url(#pb21ce0d8b9)" style="fill: #0e0e3d; fill-opacity: 0.55"/> <path d="M 407.56 114.37 L 407.56 114.37 L 411.49 110.90 L 411.49 110.90 z " clip-path="url(#pb21ce0d8b9)" style="fill: #0e0e3d; fill-opacity: 0.55"/> <path d="M 407.56 114.37 L 411.49 110.90 L 418.25 112.90 L 414.35 116.39 z " clip-path="url(#pb21ce0d8b9)" style="fill: #11114c; fill-opacity: 0.55"/> <path d="M 407.56 114.37 L 414.35 116.39 L 418.25 112.90 L 411.49 110.90 z " clip-path="url(#pb21ce0d8b9)" style="fill: #18186b; fill-opacity: 0.55"/> <path d="M 414.35 116.39 L 418.25 112.90 L 418.25 112.90 L 414.35 116.39 z " clip-path="url(#pb21ce0d8b9)" style="fill: #0e0e3d; fill-opacity: 0.55"/> <path d="M 407.56 114.37 L 414.35 116.39 L 414.35 116.39 L 407.56 114.37 z " clip-path="url(#pb21ce0d8b9)" style="fill: #0e0e3d; fill-opacity: 0.55"/> </g> <g id="Poly3DCollection_23"> <path d="M 446.34 111.97 L 446.34 111.97 L 453.21 113.97 L 453.21 113.97 z " clip-path="url(#pb21ce0d8b9)" style="fill: #0e0e3d; fill-opacity: 0.55"/> <path d="M 442.57 115.45 L 442.57 115.45 L 446.34 111.97 L 446.34 111.97 z " clip-path="url(#pb21ce0d8b9)" style="fill: #0e0e3d; fill-opacity: 0.55"/> <path d="M 442.57 115.45 L 446.34 111.97 L 453.21 113.97 L 449.47 117.48 z " clip-path="url(#pb21ce0d8b9)" style="fill: #11114c; fill-opacity: 0.55"/> <path d="M 442.57 115.45 L 449.47 117.48 L 453.21 113.97 L 446.34 111.97 z " clip-path="url(#pb21ce0d8b9)" style="fill: #18186b; fill-opacity: 0.55"/> <path d="M 449.47 117.48 L 453.21 113.97 L 453.21 113.97 L 449.47 117.48 z " clip-path="url(#pb21ce0d8b9)" style="fill: #0e0e3d; fill-opacity: 0.55"/> <path d="M 442.57 115.45 L 449.47 117.48 L 449.47 117.48 L 442.57 115.45 z " clip-path="url(#pb21ce0d8b9)" style="fill: #0e0e3d; fill-opacity: 0.55"/> </g> <g id="Poly3DCollection_24"> <path d="M 390.09 113.83 L 390.09 113.83 L 396.82 115.85 L 396.82 115.85 z " clip-path="url(#pb21ce0d8b9)" style="fill: #0e0e3d; fill-opacity: 0.55"/> <path d="M 386.04 117.33 L 386.04 117.33 L 390.09 113.83 L 390.09 113.83 z " clip-path="url(#pb21ce0d8b9)" style="fill: #0e0e3d; fill-opacity: 0.55"/> <path d="M 386.04 117.33 L 390.09 113.83 L 396.82 115.85 L 392.80 119.37 z " clip-path="url(#pb21ce0d8b9)" style="fill: #11114c; fill-opacity: 0.55"/> <path d="M 386.04 117.33 L 392.80 119.37 L 396.82 115.85 L 390.09 113.83 z " clip-path="url(#pb21ce0d8b9)" style="fill: #18186b; fill-opacity: 0.55"/> <path d="M 392.80 119.37 L 396.82 115.85 L 396.82 115.85 L 392.80 119.37 z " clip-path="url(#pb21ce0d8b9)" style="fill: #0e0e3d; fill-opacity: 0.55"/> <path d="M 386.04 117.33 L 392.80 119.37 L 392.80 119.37 L 386.04 117.33 z " clip-path="url(#pb21ce0d8b9)" style="fill: #0e0e3d; fill-opacity: 0.55"/> </g> <g id="Poly3DCollection_25"> <path d="M 425.05 114.91 L 425.05 114.91 L 431.89 116.93 L 431.89 116.93 z " clip-path="url(#pb21ce0d8b9)" style="fill: #0e0e3d; fill-opacity: 0.55"/> <path d="M 421.17 118.42 L 421.17 118.42 L 425.05 114.91 L 425.05 114.91 z " clip-path="url(#pb21ce0d8b9)" style="fill: #0e0e3d; fill-opacity: 0.55"/> <path d="M 421.17 118.42 L 425.05 114.91 L 431.89 116.93 L 428.03 120.47 z " clip-path="url(#pb21ce0d8b9)" style="fill: #11114c; fill-opacity: 0.55"/> <path d="M 421.17 118.42 L 428.03 120.47 L 431.89 116.93 L 425.05 114.91 z " clip-path="url(#pb21ce0d8b9)" style="fill: #18186b; fill-opacity: 0.55"/> <path d="M 428.03 120.47 L 431.89 116.93 L 431.89 116.93 L 428.03 120.47 z " clip-path="url(#pb21ce0d8b9)" style="fill: #0e0e3d; fill-opacity: 0.55"/> <path d="M 421.17 118.42 L 428.03 120.47 L 428.03 120.47 L 421.17 118.42 z " clip-path="url(#pb21ce0d8b9)" style="fill: #0e0e3d; fill-opacity: 0.55"/> </g> <g id="Poly3DCollection_26"> <path d="M 368.52 116.79 L 368.52 116.79 L 375.22 118.82 L 375.22 118.82 z " clip-path="url(#pb21ce0d8b9)" style="fill: #0e0e3d; fill-opacity: 0.55"/> <path d="M 364.35 120.32 L 364.35 120.32 L 368.52 116.79 L 368.52 116.79 z " clip-path="url(#pb21ce0d8b9)" style="fill: #0e0e3d; fill-opacity: 0.55"/> <path d="M 364.35 120.32 L 368.52 116.79 L 375.22 118.82 L 371.07 122.37 z " clip-path="url(#pb21ce0d8b9)" style="fill: #11114c; fill-opacity: 0.55"/> <path d="M 364.35 120.32 L 371.07 122.37 L 375.22 118.82 L 368.52 116.79 z " clip-path="url(#pb21ce0d8b9)" style="fill: #18186b; fill-opacity: 0.55"/> <path d="M 371.07 122.37 L 375.22 118.82 L 375.22 118.82 L 371.07 122.37 z " clip-path="url(#pb21ce0d8b9)" style="fill: #0e0e3d; fill-opacity: 0.55"/> <path d="M 364.35 120.32 L 371.07 122.37 L 371.07 122.37 L 364.35 120.32 z " clip-path="url(#pb21ce0d8b9)" style="fill: #0e0e3d; fill-opacity: 0.55"/> </g> <g id="Poly3DCollection_27"> <path d="M 415.38 107.46 L 419.23 104.05 L 425.95 106.01 L 422.12 109.44 z " clip-path="url(#pb21ce0d8b9)" style="fill: #11114c; fill-opacity: 0.55"/> <path d="M 419.23 104.05 L 419.34 64.29 L 426.19 66.18 L 425.95 106.01 z " clip-path="url(#pb21ce0d8b9)" style="fill: #0e0e3d; fill-opacity: 0.55"/> <path d="M 415.38 107.46 L 415.41 67.57 L 419.34 64.29 L 419.23 104.05 z " clip-path="url(#pb21ce0d8b9)" style="fill: #1b1b7a; fill-opacity: 0.55"/> <path d="M 422.12 109.44 L 425.95 106.01 L 426.19 66.18 L 422.28 69.47 z " clip-path="url(#pb21ce0d8b9)" style="fill: #0e0e3d; fill-opacity: 0.55"/> <path d="M 415.38 107.46 L 422.12 109.44 L 422.28 69.47 L 415.41 67.57 z " clip-path="url(#pb21ce0d8b9)" style="fill: #1b1b7a; fill-opacity: 0.55"/> <path d="M 415.41 67.57 L 422.28 69.47 L 426.19 66.18 L 419.34 64.29 z " clip-path="url(#pb21ce0d8b9)" style="fill: #18186b; fill-opacity: 0.55"/> </g> <g id="Poly3DCollection_28"> <path d="M 388.79 99.64 L 392.72 96.31 L 399.29 98.23 L 395.38 101.58 z " clip-path="url(#pb21ce0d8b9)" style="fill: #11114c; fill-opacity: 0.55"/> <path d="M 392.72 96.31 L 392.06 30.80 L 398.84 32.59 L 399.29 98.23 z " clip-path="url(#pb21ce0d8b9)" style="fill: #0e0e3d; fill-opacity: 0.55"/> <path d="M 388.79 99.64 L 387.99 33.91 L 392.06 30.80 L 392.72 96.31 z " clip-path="url(#pb21ce0d8b9)" style="fill: #1b1b7a; fill-opacity: 0.55"/> <path d="M 395.38 101.58 L 399.29 98.23 L 398.84 32.59 L 394.79 35.72 z " clip-path="url(#pb21ce0d8b9)" style="fill: #0e0e3d; fill-opacity: 0.55"/> <path d="M 388.79 99.64 L 395.38 101.58 L 394.79 35.72 L 387.99 33.91 z " clip-path="url(#pb21ce0d8b9)" style="fill: #1b1b7a; fill-opacity: 0.55"/> <path d="M 387.99 33.91 L 394.79 35.72 L 398.84 32.59 L 392.06 30.80 z " clip-path="url(#pb21ce0d8b9)" style="fill: #18186b; fill-opacity: 0.55"/> </g> <g id="Poly3DCollection_29"> <path d="M 438.77 118.97 L 438.77 118.97 L 445.69 121.02 L 445.69 121.02 z " clip-path="url(#pb21ce0d8b9)" style="fill: #0e0e3d; fill-opacity: 0.55"/> <path d="M 434.94 122.52 L 434.94 122.52 L 438.77 118.97 L 438.77 118.97 z " clip-path="url(#pb21ce0d8b9)" style="fill: #0e0e3d; fill-opacity: 0.55"/> <path d="M 434.94 122.52 L 438.77 118.97 L 445.69 121.02 L 441.88 124.59 z " clip-path="url(#pb21ce0d8b9)" style="fill: #11114c; fill-opacity: 0.55"/> <path d="M 434.94 122.52 L 441.88 124.59 L 445.69 121.02 L 438.77 118.97 z " clip-path="url(#pb21ce0d8b9)" style="fill: #18186b; fill-opacity: 0.55"/> <path d="M 441.88 124.59 L 445.69 121.02 L 445.69 121.02 L 441.88 124.59 z " clip-path="url(#pb21ce0d8b9)" style="fill: #0e0e3d; fill-opacity: 0.55"/> <path d="M 434.94 122.52 L 441.88 124.59 L 441.88 124.59 L 434.94 122.52 z " clip-path="url(#pb21ce0d8b9)" style="fill: #0e0e3d; fill-opacity: 0.55"/> </g> <g id="Poly3DCollection_30"> <path d="M 474.06 120.06 L 474.06 120.06 L 481.10 122.12 L 481.10 122.12 z " clip-path="url(#pb21ce0d8b9)" style="fill: #0e0e3d; fill-opacity: 0.55"/> <path d="M 470.40 123.63 L 470.40 123.63 L 474.06 120.06 L 474.06 120.06 z " clip-path="url(#pb21ce0d8b9)" style="fill: #0e0e3d; fill-opacity: 0.55"/> <path d="M 470.40 123.63 L 474.06 120.06 L 481.10 122.12 L 477.45 125.70 z " clip-path="url(#pb21ce0d8b9)" style="fill: #11114c; fill-opacity: 0.55"/> <path d="M 470.40 123.63 L 477.45 125.70 L 481.10 122.12 L 474.06 120.06 z " clip-path="url(#pb21ce0d8b9)" style="fill: #18186b; fill-opacity: 0.55"/> <path d="M 477.45 125.70 L 481.10 122.12 L 481.10 122.12 L 477.45 125.70 z " clip-path="url(#pb21ce0d8b9)" style="fill: #0e0e3d; fill-opacity: 0.55"/> <path d="M 470.40 123.63 L 477.45 125.70 L 477.45 125.70 L 470.40 123.63 z " clip-path="url(#pb21ce0d8b9)" style="fill: #0e0e3d; fill-opacity: 0.55"/> </g> <g id="Poly3DCollection_31"> <path d="M 381.95 120.87 L 381.95 120.87 L 388.73 122.93 L 388.73 122.93 z " clip-path="url(#pb21ce0d8b9)" style="fill: #0e0e3d; fill-opacity: 0.55"/> <path d="M 377.82 124.44 L 377.82 124.44 L 381.95 120.87 L 381.95 120.87 z " clip-path="url(#pb21ce0d8b9)" style="fill: #0e0e3d; fill-opacity: 0.55"/> <path d="M 377.82 124.44 L 381.95 120.87 L 388.73 122.93 L 384.62 126.52 z " clip-path="url(#pb21ce0d8b9)" style="fill: #11114c; fill-opacity: 0.55"/> <path d="M 377.82 124.44 L 384.62 126.52 L 388.73 122.93 L 381.95 120.87 z " clip-path="url(#pb21ce0d8b9)" style="fill: #18186b; fill-opacity: 0.55"/> <path d="M 384.62 126.52 L 388.73 122.93 L 388.73 122.93 L 384.62 126.52 z " clip-path="url(#pb21ce0d8b9)" style="fill: #0e0e3d; fill-opacity: 0.55"/> <path d="M 377.82 124.44 L 384.62 126.52 L 384.62 126.52 L 377.82 124.44 z " clip-path="url(#pb21ce0d8b9)" style="fill: #0e0e3d; fill-opacity: 0.55"/> </g> <g id="Poly3DCollection_32"> <path d="M 417.25 121.97 L 417.25 121.97 L 424.14 124.03 L 424.14 124.03 z " clip-path="url(#pb21ce0d8b9)" style="fill: #0e0e3d; fill-opacity: 0.55"/> <path d="M 413.29 125.55 L 413.29 125.55 L 417.25 121.97 L 417.25 121.97 z " clip-path="url(#pb21ce0d8b9)" style="fill: #0e0e3d; fill-opacity: 0.55"/> <path d="M 413.29 125.55 L 417.25 121.97 L 424.14 124.03 L 420.20 127.64 z " clip-path="url(#pb21ce0d8b9)" style="fill: #11114c; fill-opacity: 0.55"/> <path d="M 413.29 125.55 L 420.20 127.64 L 424.14 124.03 L 417.25 121.97 z " clip-path="url(#pb21ce0d8b9)" style="fill: #18186b; fill-opacity: 0.55"/> <path d="M 420.20 127.64 L 424.14 124.03 L 424.14 124.03 L 420.20 127.64 z " clip-path="url(#pb21ce0d8b9)" style="fill: #0e0e3d; fill-opacity: 0.55"/> <path d="M 413.29 125.55 L 420.20 127.64 L 420.20 127.64 L 413.29 125.55 z " clip-path="url(#pb21ce0d8b9)" style="fill: #0e0e3d; fill-opacity: 0.55"/> </g> <g id="Poly3DCollection_33"> <path d="M 452.65 123.07 L 452.65 123.07 L 459.65 125.14 L 459.65 125.14 z " clip-path="url(#pb21ce0d8b9)" style="fill: #0e0e3d; fill-opacity: 0.55"/> <path d="M 448.86 126.67 L 448.86 126.67 L 452.65 123.07 L 452.65 123.07 z " clip-path="url(#pb21ce0d8b9)" style="fill: #0e0e3d; fill-opacity: 0.55"/> <path d="M 448.86 126.67 L 452.65 123.07 L 459.65 125.14 L 455.89 128.76 z " clip-path="url(#pb21ce0d8b9)" style="fill: #11114c; fill-opacity: 0.55"/> <path d="M 448.86 126.67 L 455.89 128.76 L 459.65 125.14 L 452.65 123.07 z " clip-path="url(#pb21ce0d8b9)" style="fill: #18186b; fill-opacity: 0.55"/> <path d="M 455.89 128.76 L 459.65 125.14 L 459.65 125.14 L 455.89 128.76 z " clip-path="url(#pb21ce0d8b9)" style="fill: #0e0e3d; fill-opacity: 0.55"/> <path d="M 448.86 126.67 L 455.89 128.76 L 455.89 128.76 L 448.86 126.67 z " clip-path="url(#pb21ce0d8b9)" style="fill: #0e0e3d; fill-opacity: 0.55"/> </g> <g id="Poly3DCollection_34"> <path d="M 360.13 123.88 L 360.13 123.88 L 366.87 125.96 L 366.87 125.96 z " clip-path="url(#pb21ce0d8b9)" style="fill: #0e0e3d; fill-opacity: 0.55"/> <path d="M 355.87 127.49 L 355.87 127.49 L 360.13 123.88 L 360.13 123.88 z " clip-path="url(#pb21ce0d8b9)" style="fill: #0e0e3d; fill-opacity: 0.55"/> <path d="M 355.87 127.49 L 360.13 123.88 L 366.87 125.96 L 362.63 129.58 z " clip-path="url(#pb21ce0d8b9)" style="fill: #11114c; fill-opacity: 0.55"/> <path d="M 355.87 127.49 L 362.63 129.58 L 366.87 125.96 L 360.13 123.88 z " clip-path="url(#pb21ce0d8b9)" style="fill: #18186b; fill-opacity: 0.55"/> <path d="M 362.63 129.58 L 366.87 125.96 L 366.87 125.96 L 362.63 129.58 z " clip-path="url(#pb21ce0d8b9)" style="fill: #0e0e3d; fill-opacity: 0.55"/> <path d="M 355.87 127.49 L 362.63 129.58 L 362.63 129.58 L 355.87 127.49 z " clip-path="url(#pb21ce0d8b9)" style="fill: #0e0e3d; fill-opacity: 0.55"/> </g> <g id="Poly3DCollection_35"> <path d="M 395.54 125.00 L 395.54 125.00 L 402.40 127.08 L 402.40 127.08 z " clip-path="url(#pb21ce0d8b9)" style="fill: #0e0e3d; fill-opacity: 0.55"/> <path d="M 391.46 128.61 L 391.46 128.61 L 395.54 125.00 L 395.54 125.00 z " clip-path="url(#pb21ce0d8b9)" style="fill: #0e0e3d; fill-opacity: 0.55"/> <path d="M 391.46 128.61 L 395.54 125.00 L 402.40 127.08 L 398.33 130.71 z " clip-path="url(#pb21ce0d8b9)" style="fill: #11114c; fill-opacity: 0.55"/> <path d="M 391.46 128.61 L 398.33 130.71 L 402.40 127.08 L 395.54 125.00 z " clip-path="url(#pb21ce0d8b9)" style="fill: #18186b; fill-opacity: 0.55"/> <path d="M 398.33 130.71 L 402.40 127.08 L 402.40 127.08 L 398.33 130.71 z " clip-path="url(#pb21ce0d8b9)" style="fill: #0e0e3d; fill-opacity: 0.55"/> <path d="M 391.46 128.61 L 398.33 130.71 L 398.33 130.71 L 391.46 128.61 z " clip-path="url(#pb21ce0d8b9)" style="fill: #0e0e3d; fill-opacity: 0.55"/> </g> <g id="Poly3DCollection_36"> <path d="M 431.06 126.11 L 431.06 126.11 L 438.03 128.20 L 438.03 128.20 z " clip-path="url(#pb21ce0d8b9)" style="fill: #0e0e3d; fill-opacity: 0.55"/> <path d="M 427.15 129.73 L 427.15 129.73 L 431.06 126.11 L 431.06 126.11 z " clip-path="url(#pb21ce0d8b9)" style="fill: #0e0e3d; fill-opacity: 0.55"/> <path d="M 427.15 129.73 L 431.06 126.11 L 438.03 128.20 L 434.14 131.84 z " clip-path="url(#pb21ce0d8b9)" style="fill: #11114c; fill-opacity: 0.55"/> <path d="M 427.15 129.73 L 434.14 131.84 L 438.03 128.20 L 431.06 126.11 z " clip-path="url(#pb21ce0d8b9)" style="fill: #18186b; fill-opacity: 0.55"/> <path d="M 434.14 131.84 L 438.03 128.20 L 438.03 128.20 L 434.14 131.84 z " clip-path="url(#pb21ce0d8b9)" style="fill: #0e0e3d; fill-opacity: 0.55"/> <path d="M 427.15 129.73 L 434.14 131.84 L 434.14 131.84 L 427.15 129.73 z " clip-path="url(#pb21ce0d8b9)" style="fill: #0e0e3d; fill-opacity: 0.55"/> </g> <g id="Poly3DCollection_37"> <path d="M 466.69 127.23 L 466.69 127.23 L 473.77 129.32 L 473.77 129.32 z " clip-path="url(#pb21ce0d8b9)" style="fill: #0e0e3d; fill-opacity: 0.55"/> <path d="M 462.95 130.86 L 462.95 130.86 L 466.69 127.23 L 466.69 127.23 z " clip-path="url(#pb21ce0d8b9)" style="fill: #0e0e3d; fill-opacity: 0.55"/> <path d="M 462.95 130.86 L 466.69 127.23 L 473.77 129.32 L 470.06 132.98 z " clip-path="url(#pb21ce0d8b9)" style="fill: #11114c; fill-opacity: 0.55"/> <path d="M 462.95 130.86 L 470.06 132.98 L 473.77 129.32 L 466.69 127.23 z " clip-path="url(#pb21ce0d8b9)" style="fill: #18186b; fill-opacity: 0.55"/> <path d="M 470.06 132.98 L 473.77 129.32 L 473.77 129.32 L 470.06 132.98 z " clip-path="url(#pb21ce0d8b9)" style="fill: #0e0e3d; fill-opacity: 0.55"/> <path d="M 462.95 130.86 L 470.06 132.98 L 470.06 132.98 L 462.95 130.86 z " clip-path="url(#pb21ce0d8b9)" style="fill: #0e0e3d; fill-opacity: 0.55"/> </g> <g id="Poly3DCollection_38"> <path d="M 372.65 113.29 L 376.75 109.83 L 383.40 111.82 L 379.33 115.31 z " clip-path="url(#pb21ce0d8b9)" style="fill: #11114c; fill-opacity: 0.55"/> <path d="M 376.75 109.83 L 375.81 58.07 L 382.63 59.96 L 383.40 111.82 z " clip-path="url(#pb21ce0d8b9)" style="fill: #0e0e3d; fill-opacity: 0.55"/> <path d="M 372.65 113.29 L 371.61 61.35 L 375.81 58.07 L 376.75 109.83 z " clip-path="url(#pb21ce0d8b9)" style="fill: #1b1b7a; fill-opacity: 0.55"/> <path d="M 379.33 115.31 L 383.40 111.82 L 382.63 59.96 L 378.46 63.27 z " clip-path="url(#pb21ce0d8b9)" style="fill: #0e0e3d; fill-opacity: 0.55"/> <path d="M 372.65 113.29 L 379.33 115.31 L 378.46 63.27 L 371.61 61.35 z " clip-path="url(#pb21ce0d8b9)" style="fill: #1b1b7a; fill-opacity: 0.55"/> <path d="M 371.61 61.35 L 378.46 63.27 L 382.63 59.96 L 375.81 58.07 z " clip-path="url(#pb21ce0d8b9)" style="fill: #18186b; fill-opacity: 0.55"/> </g> <g id="Poly3DCollection_39"> <path d="M 373.65 128.05 L 373.65 128.05 L 380.47 130.15 L 380.47 130.15 z " clip-path="url(#pb21ce0d8b9)" style="fill: #0e0e3d; fill-opacity: 0.55"/> <path d="M 369.44 131.69 L 369.44 131.69 L 373.65 128.05 L 373.65 128.05 z " clip-path="url(#pb21ce0d8b9)" style="fill: #0e0e3d; fill-opacity: 0.55"/> <path d="M 369.44 131.69 L 373.65 128.05 L 380.47 130.15 L 376.28 133.81 z " clip-path="url(#pb21ce0d8b9)" style="fill: #11114c; fill-opacity: 0.55"/> <path d="M 369.44 131.69 L 376.28 133.81 L 380.47 130.15 L 373.65 128.05 z " clip-path="url(#pb21ce0d8b9)" style="fill: #18186b; fill-opacity: 0.55"/> <path d="M 376.28 133.81 L 380.47 130.15 L 380.47 130.15 L 376.28 133.81 z " clip-path="url(#pb21ce0d8b9)" style="fill: #0e0e3d; fill-opacity: 0.55"/> <path d="M 369.44 131.69 L 376.28 133.81 L 376.28 133.81 L 369.44 131.69 z " clip-path="url(#pb21ce0d8b9)" style="fill: #0e0e3d; fill-opacity: 0.55"/> </g> <g id="Poly3DCollection_40"> <path d="M 399.59 121.42 L 403.59 117.88 L 410.40 119.92 L 406.42 123.48 z " clip-path="url(#pb21ce0d8b9)" style="fill: #11114c; fill-opacity: 0.55"/> <path d="M 403.59 117.88 L 403.44 86.38 L 410.35 88.36 L 410.40 119.92 z " clip-path="url(#pb21ce0d8b9)" style="fill: #0e0e3d; fill-opacity: 0.55"/> <path d="M 399.59 121.42 L 399.37 89.82 L 403.44 86.38 L 403.59 117.88 z " clip-path="url(#pb21ce0d8b9)" style="fill: #1b1b7a; fill-opacity: 0.55"/> <path d="M 406.42 123.48 L 410.40 119.92 L 410.35 88.36 L 406.31 91.82 z " clip-path="url(#pb21ce0d8b9)" style="fill: #0e0e3d; fill-opacity: 0.55"/> <path d="M 399.59 121.42 L 406.42 123.48 L 406.31 91.82 L 399.37 89.82 z " clip-path="url(#pb21ce0d8b9)" style="fill: #1b1b7a; fill-opacity: 0.55"/> <path d="M 399.37 89.82 L 406.31 91.82 L 410.35 88.36 L 403.44 86.38 z " clip-path="url(#pb21ce0d8b9)" style="fill: #18186b; fill-opacity: 0.55"/> </g> <g id="Poly3DCollection_41"> <path d="M 409.29 129.17 L 409.29 129.17 L 416.22 131.28 L 416.22 131.28 z " clip-path="url(#pb21ce0d8b9)" style="fill: #0e0e3d; fill-opacity: 0.55"/> <path d="M 405.25 132.83 L 405.25 132.83 L 409.29 129.17 L 409.29 129.17 z " clip-path="url(#pb21ce0d8b9)" style="fill: #0e0e3d; fill-opacity: 0.55"/> <path d="M 405.25 132.83 L 412.20 134.95 L 416.22 131.28 L 409.29 129.17 z " clip-path="url(#pb21ce0d8b9)" style="fill: #18186b; fill-opacity: 0.55"/> <path d="M 405.25 132.83 L 409.29 129.17 L 416.22 131.28 L 412.20 134.95 z " clip-path="url(#pb21ce0d8b9)" style="fill: #11114c; fill-opacity: 0.55"/> <path d="M 412.20 134.95 L 416.22 131.28 L 416.22 131.28 L 412.20 134.95 z " clip-path="url(#pb21ce0d8b9)" style="fill: #0e0e3d; fill-opacity: 0.55"/> <path d="M 405.25 132.83 L 412.20 134.95 L 412.20 134.95 L 405.25 132.83 z " clip-path="url(#pb21ce0d8b9)" style="fill: #0e0e3d; fill-opacity: 0.55"/> </g> <g id="Poly3DCollection_42"> <path d="M 456.41 119.52 L 460.12 115.99 L 467.07 118.02 L 463.38 121.57 z " clip-path="url(#pb21ce0d8b9)" style="fill: #11114c; fill-opacity: 0.55"/> <path d="M 460.12 115.99 L 461.03 75.77 L 468.13 77.73 L 467.07 118.02 z " clip-path="url(#pb21ce0d8b9)" style="fill: #0e0e3d; fill-opacity: 0.55"/> <path d="M 456.41 119.52 L 457.25 79.16 L 461.03 75.77 L 460.12 115.99 z " clip-path="url(#pb21ce0d8b9)" style="fill: #1b1b7a; fill-opacity: 0.55"/> <path d="M 463.38 121.57 L 467.07 118.02 L 468.13 77.73 L 464.37 81.14 z " clip-path="url(#pb21ce0d8b9)" style="fill: #0e0e3d; fill-opacity: 0.55"/> <path d="M 456.41 119.52 L 463.38 121.57 L 464.37 81.14 L 457.25 79.16 z " clip-path="url(#pb21ce0d8b9)" style="fill: #1b1b7a; fill-opacity: 0.55"/> <path d="M 457.25 79.16 L 464.37 81.14 L 468.13 77.73 L 461.03 75.77 z " clip-path="url(#pb21ce0d8b9)" style="fill: #18186b; fill-opacity: 0.55"/> </g> <g id="Poly3DCollection_43"> <path d="M 480.90 131.43 L 480.90 131.43 L 488.06 133.55 L 488.06 133.55 z " clip-path="url(#pb21ce0d8b9)" style="fill: #0e0e3d; fill-opacity: 0.55"/> <path d="M 477.21 135.11 L 477.21 135.11 L 480.90 131.43 L 480.90 131.43 z " clip-path="url(#pb21ce0d8b9)" style="fill: #0e0e3d; fill-opacity: 0.55"/> <path d="M 477.21 135.11 L 484.40 137.25 L 488.06 133.55 L 480.90 131.43 z " clip-path="url(#pb21ce0d8b9)" style="fill: #18186b; fill-opacity: 0.55"/> <path d="M 477.21 135.11 L 480.90 131.43 L 488.06 133.55 L 484.40 137.25 z " clip-path="url(#pb21ce0d8b9)" style="fill: #11114c; fill-opacity: 0.55"/> <path d="M 484.40 137.25 L 488.06 133.55 L 488.06 133.55 L 484.40 137.25 z " clip-path="url(#pb21ce0d8b9)" style="fill: #0e0e3d; fill-opacity: 0.55"/> <path d="M 477.21 135.11 L 484.40 137.25 L 484.40 137.25 L 477.21 135.11 z " clip-path="url(#pb21ce0d8b9)" style="fill: #0e0e3d; fill-opacity: 0.55"/> </g> <g id="Poly3DCollection_44"> <path d="M 387.33 132.26 L 387.33 132.26 L 394.23 134.38 L 394.23 134.38 z " clip-path="url(#pb21ce0d8b9)" style="fill: #0e0e3d; fill-opacity: 0.55"/> <path d="M 383.16 135.94 L 383.16 135.94 L 387.33 132.26 L 387.33 132.26 z " clip-path="url(#pb21ce0d8b9)" style="fill: #0e0e3d; fill-opacity: 0.55"/> <path d="M 383.16 135.94 L 387.33 132.26 L 394.23 134.38 L 390.08 138.09 z " clip-path="url(#pb21ce0d8b9)" style="fill: #11114c; fill-opacity: 0.55"/> <path d="M 383.16 135.94 L 390.08 138.09 L 394.23 134.38 L 387.33 132.26 z " clip-path="url(#pb21ce0d8b9)" style="fill: #18186b; fill-opacity: 0.55"/> <path d="M 390.08 138.09 L 394.23 134.38 L 394.23 134.38 L 390.08 138.09 z " clip-path="url(#pb21ce0d8b9)" style="fill: #0e0e3d; fill-opacity: 0.55"/> <path d="M 383.16 135.94 L 390.08 138.09 L 390.08 138.09 L 383.16 135.94 z " clip-path="url(#pb21ce0d8b9)" style="fill: #0e0e3d; fill-opacity: 0.55"/> </g> <g id="Poly3DCollection_45"> <path d="M 423.19 133.39 L 423.19 133.39 L 430.21 135.53 L 430.21 135.53 z " clip-path="url(#pb21ce0d8b9)" style="fill: #0e0e3d; fill-opacity: 0.55"/> <path d="M 419.20 137.09 L 419.20 137.09 L 423.19 133.39 L 423.19 133.39 z " clip-path="url(#pb21ce0d8b9)" style="fill: #0e0e3d; fill-opacity: 0.55"/> <path d="M 419.20 137.09 L 423.19 133.39 L 430.21 135.53 L 426.24 139.25 z " clip-path="url(#pb21ce0d8b9)" style="fill: #11114c; fill-opacity: 0.55"/> <path d="M 419.20 137.09 L 426.24 139.25 L 430.21 135.53 L 423.19 133.39 z " clip-path="url(#pb21ce0d8b9)" style="fill: #18186b; fill-opacity: 0.55"/> <path d="M 426.24 139.25 L 430.21 135.53 L 430.21 135.53 L 426.24 139.25 z " clip-path="url(#pb21ce0d8b9)" style="fill: #0e0e3d; fill-opacity: 0.55"/> <path d="M 419.20 137.09 L 426.24 139.25 L 426.24 139.25 L 419.20 137.09 z " clip-path="url(#pb21ce0d8b9)" style="fill: #0e0e3d; fill-opacity: 0.55"/> </g> <g id="Poly3DCollection_46"> <path d="M 459.17 134.54 L 459.17 134.54 L 466.30 136.67 L 466.30 136.67 z " clip-path="url(#pb21ce0d8b9)" style="fill: #0e0e3d; fill-opacity: 0.55"/> <path d="M 455.36 138.25 L 455.36 138.25 L 459.17 134.54 L 459.17 134.54 z " clip-path="url(#pb21ce0d8b9)" style="fill: #0e0e3d; fill-opacity: 0.55"/> <path d="M 455.36 138.25 L 459.17 134.54 L 466.30 136.67 L 462.51 140.40 z " clip-path="url(#pb21ce0d8b9)" style="fill: #11114c; fill-opacity: 0.55"/> <path d="M 455.36 138.25 L 462.51 140.40 L 466.30 136.67 L 459.17 134.54 z " clip-path="url(#pb21ce0d8b9)" style="fill: #18186b; fill-opacity: 0.55"/> <path d="M 462.51 140.40 L 466.30 136.67 L 466.30 136.67 L 462.51 140.40 z " clip-path="url(#pb21ce0d8b9)" style="fill: #0e0e3d; fill-opacity: 0.55"/> <path d="M 455.36 138.25 L 462.51 140.40 L 462.51 140.40 L 455.36 138.25 z " clip-path="url(#pb21ce0d8b9)" style="fill: #0e0e3d; fill-opacity: 0.55"/> </g> <g id="Poly3DCollection_47"> <path d="M 365.18 135.37 L 365.18 135.37 L 372.04 137.51 L 372.04 137.51 z " clip-path="url(#pb21ce0d8b9)" style="fill: #0e0e3d; fill-opacity: 0.55"/> <path d="M 360.88 139.09 L 360.88 139.09 L 365.18 135.37 L 365.18 135.37 z " clip-path="url(#pb21ce0d8b9)" style="fill: #0e0e3d; fill-opacity: 0.55"/> <path d="M 360.88 139.09 L 365.18 135.37 L 372.04 137.51 L 367.76 141.25 z " clip-path="url(#pb21ce0d8b9)" style="fill: #11114c; fill-opacity: 0.55"/> <path d="M 360.88 139.09 L 367.76 141.25 L 372.04 137.51 L 365.18 135.37 z " clip-path="url(#pb21ce0d8b9)" style="fill: #18186b; fill-opacity: 0.55"/> <path d="M 367.76 141.25 L 372.04 137.51 L 372.04 137.51 L 367.76 141.25 z " clip-path="url(#pb21ce0d8b9)" style="fill: #0e0e3d; fill-opacity: 0.55"/> <path d="M 360.88 139.09 L 367.76 141.25 L 367.76 141.25 L 360.88 139.09 z " clip-path="url(#pb21ce0d8b9)" style="fill: #0e0e3d; fill-opacity: 0.55"/> </g> <g id="Poly3DCollection_48"> <path d="M 401.17 136.52 L 401.17 136.52 L 408.14 138.67 L 408.14 138.67 z " clip-path="url(#pb21ce0d8b9)" style="fill: #0e0e3d; fill-opacity: 0.55"/> <path d="M 397.04 140.25 L 397.04 140.25 L 401.17 136.52 L 401.17 136.52 z " clip-path="url(#pb21ce0d8b9)" style="fill: #0e0e3d; fill-opacity: 0.55"/> <path d="M 397.04 140.25 L 401.17 136.52 L 408.14 138.67 L 404.04 142.42 z " clip-path="url(#pb21ce0d8b9)" style="fill: #11114c; fill-opacity: 0.55"/> <path d="M 397.04 140.25 L 404.04 142.42 L 408.14 138.67 L 401.17 136.52 z " clip-path="url(#pb21ce0d8b9)" style="fill: #18186b; fill-opacity: 0.55"/> <path d="M 404.04 142.42 L 408.14 138.67 L 408.14 138.67 L 404.04 142.42 z " clip-path="url(#pb21ce0d8b9)" style="fill: #0e0e3d; fill-opacity: 0.55"/> <path d="M 397.04 140.25 L 404.04 142.42 L 404.04 142.42 L 397.04 140.25 z " clip-path="url(#pb21ce0d8b9)" style="fill: #0e0e3d; fill-opacity: 0.55"/> </g> <g id="Poly3DCollection_49"> <path d="M 437.26 137.67 L 437.26 137.67 L 444.36 139.82 L 444.36 139.82 z " clip-path="url(#pb21ce0d8b9)" style="fill: #0e0e3d; fill-opacity: 0.55"/> <path d="M 433.32 141.41 L 433.32 141.41 L 437.26 137.67 L 437.26 137.67 z " clip-path="url(#pb21ce0d8b9)" style="fill: #0e0e3d; fill-opacity: 0.55"/> <path d="M 433.32 141.41 L 437.26 137.67 L 444.36 139.82 L 440.44 143.59 z " clip-path="url(#pb21ce0d8b9)" style="fill: #11114c; fill-opacity: 0.55"/> <path d="M 433.32 141.41 L 440.44 143.59 L 444.36 139.82 L 437.26 137.67 z " clip-path="url(#pb21ce0d8b9)" style="fill: #18186b; fill-opacity: 0.55"/> <path d="M 440.44 143.59 L 444.36 139.82 L 444.36 139.82 L 440.44 143.59 z " clip-path="url(#pb21ce0d8b9)" style="fill: #0e0e3d; fill-opacity: 0.55"/> <path d="M 433.32 141.41 L 440.44 143.59 L 440.44 143.59 L 433.32 141.41 z " clip-path="url(#pb21ce0d8b9)" style="fill: #0e0e3d; fill-opacity: 0.55"/> </g> <g id="Poly3DCollection_50"> <path d="M 342.84 138.51 L 342.84 138.51 L 349.67 140.67 L 349.67 140.67 z " clip-path="url(#pb21ce0d8b9)" style="fill: #0e0e3d; fill-opacity: 0.55"/> <path d="M 338.41 142.26 L 338.41 142.26 L 342.84 138.51 L 342.84 138.51 z " clip-path="url(#pb21ce0d8b9)" style="fill: #0e0e3d; fill-opacity: 0.55"/> <path d="M 338.41 142.26 L 345.26 144.45 L 349.67 140.67 L 342.84 138.51 z " clip-path="url(#pb21ce0d8b9)" style="fill: #18186b; fill-opacity: 0.55"/> <path d="M 338.41 142.26 L 342.84 138.51 L 349.67 140.67 L 345.26 144.45 z " clip-path="url(#pb21ce0d8b9)" style="fill: #11114c; fill-opacity: 0.55"/> <path d="M 345.26 144.45 L 349.67 140.67 L 349.67 140.67 L 345.26 144.45 z " clip-path="url(#pb21ce0d8b9)" style="fill: #0e0e3d; fill-opacity: 0.55"/> <path d="M 338.41 142.26 L 345.26 144.45 L 345.26 144.45 L 338.41 142.26 z " clip-path="url(#pb21ce0d8b9)" style="fill: #0e0e3d; fill-opacity: 0.55"/> </g> <g id="Poly3DCollection_51"> <path d="M 415.17 140.83 L 415.17 140.83 L 422.23 143.00 L 422.23 143.00 z " clip-path="url(#pb21ce0d8b9)" style="fill: #0e0e3d; fill-opacity: 0.55"/> <path d="M 411.09 144.60 L 411.09 144.60 L 415.17 140.83 L 415.17 140.83 z " clip-path="url(#pb21ce0d8b9)" style="fill: #0e0e3d; fill-opacity: 0.55"/> <path d="M 411.09 144.60 L 415.17 140.83 L 422.23 143.00 L 418.18 146.80 z " clip-path="url(#pb21ce0d8b9)" style="fill: #11114c; fill-opacity: 0.55"/> <path d="M 411.09 144.60 L 418.18 146.80 L 422.23 143.00 L 415.17 140.83 z " clip-path="url(#pb21ce0d8b9)" style="fill: #18186b; fill-opacity: 0.55"/> <path d="M 418.18 146.80 L 422.23 143.00 L 422.23 143.00 L 418.18 146.80 z " clip-path="url(#pb21ce0d8b9)" style="fill: #0e0e3d; fill-opacity: 0.55"/> <path d="M 411.09 144.60 L 418.18 146.80 L 418.18 146.80 L 411.09 144.60 z " clip-path="url(#pb21ce0d8b9)" style="fill: #0e0e3d; fill-opacity: 0.55"/> </g> <g id="Poly3DCollection_52"> <path d="M 441.17 133.96 L 445.04 130.30 L 452.08 132.41 L 448.24 136.10 z " clip-path="url(#pb21ce0d8b9)" style="fill: #11114c; fill-opacity: 0.55"/> <path d="M 445.04 130.30 L 445.53 98.44 L 452.69 100.49 L 452.08 132.41 z " clip-path="url(#pb21ce0d8b9)" style="fill: #0e0e3d; fill-opacity: 0.55"/> <path d="M 441.17 133.96 L 441.60 102.00 L 445.53 98.44 L 445.04 130.30 z " clip-path="url(#pb21ce0d8b9)" style="fill: #1b1b7a; fill-opacity: 0.55"/> <path d="M 448.24 136.10 L 452.08 132.41 L 452.69 100.49 L 448.79 104.07 z " clip-path="url(#pb21ce0d8b9)" style="fill: #0e0e3d; fill-opacity: 0.55"/> <path d="M 441.17 133.96 L 448.24 136.10 L 448.79 104.07 L 441.60 102.00 z " clip-path="url(#pb21ce0d8b9)" style="fill: #1b1b7a; fill-opacity: 0.55"/> <path d="M 441.60 102.00 L 448.79 104.07 L 452.69 100.49 L 445.53 98.44 z " clip-path="url(#pb21ce0d8b9)" style="fill: #18186b; fill-opacity: 0.55"/> </g> <g id="Poly3DCollection_53"> <path d="M 451.50 141.99 L 451.50 141.99 L 458.68 144.17 L 458.68 144.17 z " clip-path="url(#pb21ce0d8b9)" style="fill: #0e0e3d; fill-opacity: 0.55"/> <path d="M 447.60 145.78 L 447.60 145.78 L 451.50 141.99 L 451.50 141.99 z " clip-path="url(#pb21ce0d8b9)" style="fill: #0e0e3d; fill-opacity: 0.55"/> <path d="M 447.60 145.78 L 451.50 141.99 L 458.68 144.17 L 454.81 147.98 z " clip-path="url(#pb21ce0d8b9)" style="fill: #11114c; fill-opacity: 0.55"/> <path d="M 447.60 145.78 L 454.81 147.98 L 458.68 144.17 L 451.50 141.99 z " clip-path="url(#pb21ce0d8b9)" style="fill: #18186b; fill-opacity: 0.55"/> <path d="M 454.81 147.98 L 458.68 144.17 L 458.68 144.17 L 454.81 147.98 z " clip-path="url(#pb21ce0d8b9)" style="fill: #0e0e3d; fill-opacity: 0.55"/> <path d="M 447.60 145.78 L 454.81 147.98 L 454.81 147.98 L 447.60 145.78 z " clip-path="url(#pb21ce0d8b9)" style="fill: #0e0e3d; fill-opacity: 0.55"/> </g> <g id="Poly3DCollection_54"> <path d="M 484.55 127.79 L 488.17 124.18 L 495.28 126.26 L 491.69 129.88 z " clip-path="url(#pb21ce0d8b9)" style="fill: #11114c; fill-opacity: 0.55"/> <path d="M 488.17 124.18 L 490.07 72.27 L 497.37 74.25 L 495.28 126.26 z " clip-path="url(#pb21ce0d8b9)" style="fill: #0e0e3d; fill-opacity: 0.55"/> <path d="M 484.55 127.79 L 486.37 75.70 L 490.07 72.27 L 488.17 124.18 z " clip-path="url(#pb21ce0d8b9)" style="fill: #1b1b7a; fill-opacity: 0.55"/> <path d="M 491.69 129.88 L 495.28 126.26 L 497.37 74.25 L 493.69 77.70 z " clip-path="url(#pb21ce0d8b9)" style="fill: #0e0e3d; fill-opacity: 0.55"/> <path d="M 484.55 127.79 L 491.69 129.88 L 493.69 77.70 L 486.37 75.70 z " clip-path="url(#pb21ce0d8b9)" style="fill: #1b1b7a; fill-opacity: 0.55"/> <path d="M 486.37 75.70 L 493.69 77.70 L 497.37 74.25 L 490.07 72.27 z " clip-path="url(#pb21ce0d8b9)" style="fill: #18186b; fill-opacity: 0.55"/> </g> <g id="Poly3DCollection_55"> <path d="M 356.53 142.85 L 356.53 142.85 L 363.44 145.03 L 363.44 145.03 z " clip-path="url(#pb21ce0d8b9)" style="fill: #0e0e3d; fill-opacity: 0.55"/> <path d="M 352.14 146.64 L 352.14 146.64 L 356.53 142.85 L 356.53 142.85 z " clip-path="url(#pb21ce0d8b9)" style="fill: #0e0e3d; fill-opacity: 0.55"/> <path d="M 352.14 146.64 L 356.53 142.85 L 363.44 145.03 L 359.08 148.85 z " clip-path="url(#pb21ce0d8b9)" style="fill: #11114c; fill-opacity: 0.55"/> <path d="M 352.14 146.64 L 359.08 148.85 L 363.44 145.03 L 356.53 142.85 z " clip-path="url(#pb21ce0d8b9)" style="fill: #18186b; fill-opacity: 0.55"/> <path d="M 359.08 148.85 L 363.44 145.03 L 363.44 145.03 L 359.08 148.85 z " clip-path="url(#pb21ce0d8b9)" style="fill: #0e0e3d; fill-opacity: 0.55"/> <path d="M 352.14 146.64 L 359.08 148.85 L 359.08 148.85 L 352.14 146.64 z " clip-path="url(#pb21ce0d8b9)" style="fill: #0e0e3d; fill-opacity: 0.55"/> </g> <g id="Poly3DCollection_56"> <path d="M 392.88 144.02 L 392.88 144.02 L 399.90 146.21 L 399.90 146.21 z " clip-path="url(#pb21ce0d8b9)" style="fill: #0e0e3d; fill-opacity: 0.55"/> <path d="M 388.67 147.82 L 388.67 147.82 L 392.88 144.02 L 392.88 144.02 z " clip-path="url(#pb21ce0d8b9)" style="fill: #0e0e3d; fill-opacity: 0.55"/> <path d="M 388.67 147.82 L 392.88 144.02 L 399.90 146.21 L 395.72 150.04 z " clip-path="url(#pb21ce0d8b9)" style="fill: #11114c; fill-opacity: 0.55"/> <path d="M 388.67 147.82 L 395.72 150.04 L 399.90 146.21 L 392.88 144.02 z " clip-path="url(#pb21ce0d8b9)" style="fill: #18186b; fill-opacity: 0.55"/> <path d="M 395.72 150.04 L 399.90 146.21 L 399.90 146.21 L 395.72 150.04 z " clip-path="url(#pb21ce0d8b9)" style="fill: #0e0e3d; fill-opacity: 0.55"/> <path d="M 388.67 147.82 L 395.72 150.04 L 395.72 150.04 L 388.67 147.82 z " clip-path="url(#pb21ce0d8b9)" style="fill: #0e0e3d; fill-opacity: 0.55"/> </g> <g id="Poly3DCollection_57"> <path d="M 429.33 145.19 L 429.33 145.19 L 436.48 147.39 L 436.48 147.39 z " clip-path="url(#pb21ce0d8b9)" style="fill: #0e0e3d; fill-opacity: 0.55"/> <path d="M 425.31 149.01 L 425.31 149.01 L 429.33 145.19 L 429.33 145.19 z " clip-path="url(#pb21ce0d8b9)" style="fill: #0e0e3d; fill-opacity: 0.55"/> <path d="M 425.31 149.01 L 429.33 145.19 L 436.48 147.39 L 432.48 151.23 z " clip-path="url(#pb21ce0d8b9)" style="fill: #11114c; fill-opacity: 0.55"/> <path d="M 425.31 149.01 L 432.48 151.23 L 436.48 147.39 L 429.33 145.19 z " clip-path="url(#pb21ce0d8b9)" style="fill: #18186b; fill-opacity: 0.55"/> <path d="M 432.48 151.23 L 436.48 147.39 L 436.48 147.39 L 432.48 151.23 z " clip-path="url(#pb21ce0d8b9)" style="fill: #0e0e3d; fill-opacity: 0.55"/> <path d="M 425.31 149.01 L 432.48 151.23 L 432.48 151.23 L 425.31 149.01 z " clip-path="url(#pb21ce0d8b9)" style="fill: #0e0e3d; fill-opacity: 0.55"/> </g> <g id="Poly3DCollection_58"> <path d="M 465.91 146.37 L 465.91 146.37 L 473.17 148.58 L 473.17 148.58 z " clip-path="url(#pb21ce0d8b9)" style="fill: #0e0e3d; fill-opacity: 0.55"/> <path d="M 462.06 150.20 L 462.06 150.20 L 465.91 146.37 L 465.91 146.37 z " clip-path="url(#pb21ce0d8b9)" style="fill: #0e0e3d; fill-opacity: 0.55"/> <path d="M 462.06 150.20 L 469.35 152.43 L 473.17 148.58 L 465.91 146.37 z " clip-path="url(#pb21ce0d8b9)" style="fill: #18186b; fill-opacity: 0.55"/> <path d="M 462.06 150.20 L 465.91 146.37 L 473.17 148.58 L 469.35 152.43 z " clip-path="url(#pb21ce0d8b9)" style="fill: #11114c; fill-opacity: 0.55"/> <path d="M 469.35 152.43 L 473.17 148.58 L 473.17 148.58 L 469.35 152.43 z " clip-path="url(#pb21ce0d8b9)" style="fill: #0e0e3d; fill-opacity: 0.55"/> <path d="M 462.06 150.20 L 469.35 152.43 L 469.35 152.43 L 462.06 150.20 z " clip-path="url(#pb21ce0d8b9)" style="fill: #0e0e3d; fill-opacity: 0.55"/> </g> <g id="Poly3DCollection_59"> <path d="M 370.39 147.23 L 370.39 147.23 L 377.38 149.45 L 377.38 149.45 z " clip-path="url(#pb21ce0d8b9)" style="fill: #0e0e3d; fill-opacity: 0.55"/> <path d="M 366.05 151.07 L 366.05 151.07 L 370.39 147.23 L 370.39 147.23 z " clip-path="url(#pb21ce0d8b9)" style="fill: #0e0e3d; fill-opacity: 0.55"/> <path d="M 366.05 151.07 L 370.39 147.23 L 377.38 149.45 L 373.06 153.31 z " clip-path="url(#pb21ce0d8b9)" style="fill: #11114c; fill-opacity: 0.55"/> <path d="M 366.05 151.07 L 373.06 153.31 L 377.38 149.45 L 370.39 147.23 z " clip-path="url(#pb21ce0d8b9)" style="fill: #18186b; fill-opacity: 0.55"/> <path d="M 373.06 153.31 L 377.38 149.45 L 377.38 149.45 L 373.06 153.31 z " clip-path="url(#pb21ce0d8b9)" style="fill: #0e0e3d; fill-opacity: 0.55"/> <path d="M 366.05 151.07 L 373.06 153.31 L 373.06 153.31 L 366.05 151.07 z " clip-path="url(#pb21ce0d8b9)" style="fill: #0e0e3d; fill-opacity: 0.55"/> </g> <g id="Poly3DCollection_60"> <path d="M 406.97 148.42 L 406.97 148.42 L 414.08 150.64 L 414.08 150.64 z " clip-path="url(#pb21ce0d8b9)" style="fill: #0e0e3d; fill-opacity: 0.55"/> <path d="M 402.81 152.27 L 402.81 152.27 L 406.97 148.42 L 406.97 148.42 z " clip-path="url(#pb21ce0d8b9)" style="fill: #0e0e3d; fill-opacity: 0.55"/> <path d="M 402.81 152.27 L 409.95 154.51 L 414.08 150.64 L 406.97 148.42 z " clip-path="url(#pb21ce0d8b9)" style="fill: #18186b; fill-opacity: 0.55"/> <path d="M 402.81 152.27 L 406.97 148.42 L 414.08 150.64 L 409.95 154.51 z " clip-path="url(#pb21ce0d8b9)" style="fill: #11114c; fill-opacity: 0.55"/> <path d="M 409.95 154.51 L 414.08 150.64 L 414.08 150.64 L 409.95 154.51 z " clip-path="url(#pb21ce0d8b9)" style="fill: #0e0e3d; fill-opacity: 0.55"/> <path d="M 402.81 152.27 L 409.95 154.51 L 409.95 154.51 L 402.81 152.27 z " clip-path="url(#pb21ce0d8b9)" style="fill: #0e0e3d; fill-opacity: 0.55"/> </g> <g id="Poly3DCollection_61"> <path d="M 443.67 149.60 L 443.67 149.60 L 450.90 151.83 L 450.90 151.83 z " clip-path="url(#pb21ce0d8b9)" style="fill: #0e0e3d; fill-opacity: 0.55"/> <path d="M 439.69 153.47 L 439.69 153.47 L 443.67 149.60 L 443.67 149.60 z " clip-path="url(#pb21ce0d8b9)" style="fill: #0e0e3d; fill-opacity: 0.55"/> <path d="M 439.69 153.47 L 443.67 149.60 L 450.90 151.83 L 446.95 155.72 z " clip-path="url(#pb21ce0d8b9)" style="fill: #11114c; fill-opacity: 0.55"/> <path d="M 439.69 153.47 L 446.95 155.72 L 450.90 151.83 L 443.67 149.60 z " clip-path="url(#pb21ce0d8b9)" style="fill: #18186b; fill-opacity: 0.55"/> <path d="M 446.95 155.72 L 450.90 151.83 L 450.90 151.83 L 446.95 155.72 z " clip-path="url(#pb21ce0d8b9)" style="fill: #0e0e3d; fill-opacity: 0.55"/> <path d="M 439.69 153.47 L 446.95 155.72 L 446.95 155.72 L 439.69 153.47 z " clip-path="url(#pb21ce0d8b9)" style="fill: #0e0e3d; fill-opacity: 0.55"/> </g> <g id="Poly3DCollection_62"> <path d="M 347.23 134.80 L 351.57 131.13 L 358.36 133.24 L 354.03 136.94 z " clip-path="url(#pb21ce0d8b9)" style="fill: #11114c; fill-opacity: 0.55"/> <path d="M 351.57 131.13 L 349.96 78.31 L 356.91 80.32 L 358.36 133.24 z " clip-path="url(#pb21ce0d8b9)" style="fill: #0e0e3d; fill-opacity: 0.55"/> <path d="M 347.23 134.80 L 345.49 81.81 L 349.96 78.31 L 351.57 131.13 z " clip-path="url(#pb21ce0d8b9)" style="fill: #1b1b7a; fill-opacity: 0.55"/> <path d="M 354.03 136.94 L 358.36 133.24 L 356.91 80.32 L 352.47 83.84 z " clip-path="url(#pb21ce0d8b9)" style="fill: #0e0e3d; fill-opacity: 0.55"/> <path d="M 347.23 134.80 L 354.03 136.94 L 352.47 83.84 L 345.49 81.81 z " clip-path="url(#pb21ce0d8b9)" style="fill: #1b1b7a; fill-opacity: 0.55"/> <path d="M 345.49 81.81 L 352.47 83.84 L 356.91 80.32 L 349.96 78.31 z " clip-path="url(#pb21ce0d8b9)" style="fill: #18186b; fill-opacity: 0.55"/> </g> <g id="Poly3DCollection_63"> <path d="M 347.71 150.48 L 347.71 150.48 L 354.66 152.71 L 354.66 152.71 z " clip-path="url(#pb21ce0d8b9)" style="fill: #0e0e3d; fill-opacity: 0.55"/> <path d="M 343.23 154.35 L 343.23 154.35 L 347.71 150.48 L 347.71 150.48 z " clip-path="url(#pb21ce0d8b9)" style="fill: #0e0e3d; fill-opacity: 0.55"/> <path d="M 343.23 154.35 L 347.71 150.48 L 354.66 152.71 L 350.21 156.61 z " clip-path="url(#pb21ce0d8b9)" style="fill: #11114c; fill-opacity: 0.55"/> <path d="M 343.23 154.35 L 350.21 156.61 L 354.66 152.71 L 347.71 150.48 z " clip-path="url(#pb21ce0d8b9)" style="fill: #18186b; fill-opacity: 0.55"/> <path d="M 350.21 156.61 L 354.66 152.71 L 354.66 152.71 L 350.21 156.61 z " clip-path="url(#pb21ce0d8b9)" style="fill: #0e0e3d; fill-opacity: 0.55"/> <path d="M 343.23 154.35 L 350.21 156.61 L 350.21 156.61 L 343.23 154.35 z " clip-path="url(#pb21ce0d8b9)" style="fill: #0e0e3d; fill-opacity: 0.55"/> </g> <g id="Poly3DCollection_64"> <path d="M 374.69 143.43 L 378.95 139.67 L 385.89 141.84 L 381.66 145.62 z " clip-path="url(#pb21ce0d8b9)" style="fill: #11114c; fill-opacity: 0.55"/> <path d="M 378.95 139.67 L 378.39 107.54 L 385.45 109.65 L 385.89 141.84 z " clip-path="url(#pb21ce0d8b9)" style="fill: #0e0e3d; fill-opacity: 0.55"/> <path d="M 374.69 143.43 L 374.07 111.20 L 378.39 107.54 L 378.95 139.67 z " clip-path="url(#pb21ce0d8b9)" style="fill: #1b1b7a; fill-opacity: 0.55"/> <path d="M 381.66 145.62 L 385.89 141.84 L 385.45 109.65 L 381.15 113.33 z " clip-path="url(#pb21ce0d8b9)" style="fill: #0e0e3d; fill-opacity: 0.55"/> <path d="M 374.69 143.43 L 381.66 145.62 L 381.15 113.33 L 374.07 111.20 z " clip-path="url(#pb21ce0d8b9)" style="fill: #1b1b7a; fill-opacity: 0.55"/> <path d="M 374.07 111.20 L 381.15 113.33 L 385.45 109.65 L 378.39 107.54 z " clip-path="url(#pb21ce0d8b9)" style="fill: #18186b; fill-opacity: 0.55"/> </g> <g id="Poly3DCollection_65"> <path d="M 384.41 151.67 L 384.41 151.67 L 391.49 153.91 L 391.49 153.91 z " clip-path="url(#pb21ce0d8b9)" style="fill: #0e0e3d; fill-opacity: 0.55"/> <path d="M 380.12 155.56 L 380.12 155.56 L 384.41 151.67 L 384.41 151.67 z " clip-path="url(#pb21ce0d8b9)" style="fill: #0e0e3d; fill-opacity: 0.55"/> <path d="M 380.12 155.56 L 384.41 151.67 L 391.49 153.91 L 387.22 157.82 z " clip-path="url(#pb21ce0d8b9)" style="fill: #11114c; fill-opacity: 0.55"/> <path d="M 380.12 155.56 L 387.22 157.82 L 391.49 153.91 L 384.41 151.67 z " clip-path="url(#pb21ce0d8b9)" style="fill: #18186b; fill-opacity: 0.55"/> <path d="M 387.22 157.82 L 391.49 153.91 L 391.49 153.91 L 387.22 157.82 z " clip-path="url(#pb21ce0d8b9)" style="fill: #0e0e3d; fill-opacity: 0.55"/> <path d="M 380.12 155.56 L 387.22 157.82 L 387.22 157.82 L 380.12 155.56 z " clip-path="url(#pb21ce0d8b9)" style="fill: #0e0e3d; fill-opacity: 0.55"/> </g> <g id="Poly3DCollection_66"> <path d="M 469.71 142.58 L 473.48 138.82 L 480.69 140.98 L 476.95 144.76 z " clip-path="url(#pb21ce0d8b9)" style="fill: #11114c; fill-opacity: 0.55"/> <path d="M 473.48 138.82 L 474.69 97.75 L 482.06 99.83 L 480.69 140.98 z " clip-path="url(#pb21ce0d8b9)" style="fill: #0e0e3d; fill-opacity: 0.55"/> <path d="M 469.71 142.58 L 470.85 101.36 L 474.69 97.75 L 473.48 138.82 z " clip-path="url(#pb21ce0d8b9)" style="fill: #1b1b7a; fill-opacity: 0.55"/> <path d="M 476.95 144.76 L 480.69 140.98 L 482.06 99.83 L 478.25 103.47 z " clip-path="url(#pb21ce0d8b9)" style="fill: #0e0e3d; fill-opacity: 0.55"/> <path d="M 469.71 142.58 L 476.95 144.76 L 478.25 103.47 L 470.85 101.36 z " clip-path="url(#pb21ce0d8b9)" style="fill: #1b1b7a; fill-opacity: 0.55"/> <path d="M 470.85 101.36 L 478.25 103.47 L 482.06 99.83 L 474.69 97.75 z " clip-path="url(#pb21ce0d8b9)" style="fill: #18186b; fill-opacity: 0.55"/> </g> <g id="Poly3DCollection_67"> <path d="M 458.18 154.07 L 458.18 154.07 L 465.50 156.33 L 465.50 156.33 z " clip-path="url(#pb21ce0d8b9)" style="fill: #0e0e3d; fill-opacity: 0.55"/> <path d="M 454.25 157.98 L 454.25 157.98 L 458.18 154.07 L 458.18 154.07 z " clip-path="url(#pb21ce0d8b9)" style="fill: #0e0e3d; fill-opacity: 0.55"/> <path d="M 454.25 157.98 L 458.18 154.07 L 465.50 156.33 L 461.60 160.26 z " clip-path="url(#pb21ce0d8b9)" style="fill: #11114c; fill-opacity: 0.55"/> <path d="M 454.25 157.98 L 461.60 160.26 L 465.50 156.33 L 458.18 154.07 z " clip-path="url(#pb21ce0d8b9)" style="fill: #18186b; fill-opacity: 0.55"/> <path d="M 461.60 160.26 L 465.50 156.33 L 465.50 156.33 L 461.60 160.26 z " clip-path="url(#pb21ce0d8b9)" style="fill: #0e0e3d; fill-opacity: 0.55"/> <path d="M 454.25 157.98 L 461.60 160.26 L 461.60 160.26 L 454.25 157.98 z " clip-path="url(#pb21ce0d8b9)" style="fill: #0e0e3d; fill-opacity: 0.55"/> </g> <g id="Poly3DCollection_68"> <path d="M 398.61 156.16 L 398.61 156.16 L 405.77 158.43 L 405.77 158.43 z " clip-path="url(#pb21ce0d8b9)" style="fill: #0e0e3d; fill-opacity: 0.55"/> <path d="M 394.36 160.10 L 394.36 160.10 L 398.61 156.16 L 398.61 156.16 z " clip-path="url(#pb21ce0d8b9)" style="fill: #0e0e3d; fill-opacity: 0.55"/> <path d="M 394.36 160.10 L 398.61 156.16 L 405.77 158.43 L 401.54 162.39 z " clip-path="url(#pb21ce0d8b9)" style="fill: #11114c; fill-opacity: 0.55"/> <path d="M 394.36 160.10 L 401.54 162.39 L 405.77 158.43 L 398.61 156.16 z " clip-path="url(#pb21ce0d8b9)" style="fill: #18186b; fill-opacity: 0.55"/> <path d="M 401.54 162.39 L 405.77 158.43 L 405.77 158.43 L 401.54 162.39 z " clip-path="url(#pb21ce0d8b9)" style="fill: #0e0e3d; fill-opacity: 0.55"/> <path d="M 394.36 160.10 L 401.54 162.39 L 401.54 162.39 L 394.36 160.10 z " clip-path="url(#pb21ce0d8b9)" style="fill: #0e0e3d; fill-opacity: 0.55"/> </g> <g id="Poly3DCollection_69"> <path d="M 435.67 157.38 L 435.67 157.38 L 442.96 159.65 L 442.96 159.65 z " clip-path="url(#pb21ce0d8b9)" style="fill: #0e0e3d; fill-opacity: 0.55"/> <path d="M 431.61 161.32 L 431.61 161.32 L 435.67 157.38 L 435.67 157.38 z " clip-path="url(#pb21ce0d8b9)" style="fill: #0e0e3d; fill-opacity: 0.55"/> <path d="M 431.61 161.32 L 435.67 157.38 L 442.96 159.65 L 438.92 163.62 z " clip-path="url(#pb21ce0d8b9)" style="fill: #11114c; fill-opacity: 0.55"/> <path d="M 431.61 161.32 L 438.92 163.62 L 442.96 159.65 L 435.67 157.38 z " clip-path="url(#pb21ce0d8b9)" style="fill: #18186b; fill-opacity: 0.55"/> <path d="M 438.92 163.62 L 442.96 159.65 L 442.96 159.65 L 438.92 163.62 z " clip-path="url(#pb21ce0d8b9)" style="fill: #0e0e3d; fill-opacity: 0.55"/> <path d="M 431.61 161.32 L 438.92 163.62 L 438.92 163.62 L 431.61 161.32 z " clip-path="url(#pb21ce0d8b9)" style="fill: #0e0e3d; fill-opacity: 0.55"/> </g> <g id="Poly3DCollection_70"> <path d="M 375.78 159.49 L 375.78 159.49 L 382.90 161.77 L 382.90 161.77 z " clip-path="url(#pb21ce0d8b9)" style="fill: #0e0e3d; fill-opacity: 0.55"/> <path d="M 371.39 163.45 L 371.39 163.45 L 375.78 159.49 L 375.78 159.49 z " clip-path="url(#pb21ce0d8b9)" style="fill: #0e0e3d; fill-opacity: 0.55"/> <path d="M 371.39 163.45 L 378.54 165.77 L 382.90 161.77 L 375.78 159.49 z " clip-path="url(#pb21ce0d8b9)" style="fill: #18186b; fill-opacity: 0.55"/> <path d="M 371.39 163.45 L 375.78 159.49 L 382.90 161.77 L 378.54 165.77 z " clip-path="url(#pb21ce0d8b9)" style="fill: #11114c; fill-opacity: 0.55"/> <path d="M 378.54 165.77 L 382.90 161.77 L 382.90 161.77 L 378.54 165.77 z " clip-path="url(#pb21ce0d8b9)" style="fill: #0e0e3d; fill-opacity: 0.55"/> <path d="M 371.39 163.45 L 378.54 165.77 L 378.54 165.77 L 371.39 163.45 z " clip-path="url(#pb21ce0d8b9)" style="fill: #0e0e3d; fill-opacity: 0.55"/> </g> <g id="Poly3DCollection_71"> <path d="M 412.97 160.71 L 412.97 160.71 L 420.22 163.00 L 420.22 163.00 z " clip-path="url(#pb21ce0d8b9)" style="fill: #0e0e3d; fill-opacity: 0.55"/> <path d="M 408.77 164.69 L 408.77 164.69 L 412.97 160.71 L 412.97 160.71 z " clip-path="url(#pb21ce0d8b9)" style="fill: #0e0e3d; fill-opacity: 0.55"/> <path d="M 408.77 164.69 L 416.04 167.01 L 420.22 163.00 L 412.97 160.71 z " clip-path="url(#pb21ce0d8b9)" style="fill: #18186b; fill-opacity: 0.55"/> <path d="M 408.77 164.69 L 412.97 160.71 L 420.22 163.00 L 416.04 167.01 z " clip-path="url(#pb21ce0d8b9)" style="fill: #11114c; fill-opacity: 0.55"/> <path d="M 416.04 167.01 L 420.22 163.00 L 420.22 163.00 L 416.04 167.01 z " clip-path="url(#pb21ce0d8b9)" style="fill: #0e0e3d; fill-opacity: 0.55"/> <path d="M 408.77 164.69 L 416.04 167.01 L 416.04 167.01 L 408.77 164.69 z " clip-path="url(#pb21ce0d8b9)" style="fill: #0e0e3d; fill-opacity: 0.55"/> </g> <g id="Poly3DCollection_72"> <path d="M 390.06 164.07 L 390.06 164.07 L 397.27 166.39 L 397.27 166.39 z " clip-path="url(#pb21ce0d8b9)" style="fill: #0e0e3d; fill-opacity: 0.55"/> <path d="M 385.73 168.09 L 385.73 168.09 L 390.06 164.07 L 390.06 164.07 z " clip-path="url(#pb21ce0d8b9)" style="fill: #0e0e3d; fill-opacity: 0.55"/> <path d="M 385.73 168.09 L 390.06 164.07 L 397.27 166.39 L 392.96 170.43 z " clip-path="url(#pb21ce0d8b9)" style="fill: #11114c; fill-opacity: 0.55"/> <path d="M 385.73 168.09 L 392.96 170.43 L 397.27 166.39 L 390.06 164.07 z " clip-path="url(#pb21ce0d8b9)" style="fill: #18186b; fill-opacity: 0.55"/> <path d="M 392.96 170.43 L 397.27 166.39 L 397.27 166.39 L 392.96 170.43 z " clip-path="url(#pb21ce0d8b9)" style="fill: #0e0e3d; fill-opacity: 0.55"/> <path d="M 385.73 168.09 L 392.96 170.43 L 392.96 170.43 L 385.73 168.09 z " clip-path="url(#pb21ce0d8b9)" style="fill: #0e0e3d; fill-opacity: 0.55"/> </g> <g id="Poly3DCollection_73"> <path d="M 417.12 156.77 L 421.24 152.87 L 428.43 155.12 L 424.35 159.04 z " clip-path="url(#pb21ce0d8b9)" style="fill: #11114c; fill-opacity: 0.55"/> <path d="M 421.24 152.87 L 421.36 120.37 L 428.67 122.55 L 428.43 155.12 z " clip-path="url(#pb21ce0d8b9)" style="fill: #0e0e3d; fill-opacity: 0.55"/> <path d="M 417.12 156.77 L 417.18 124.16 L 421.36 120.37 L 421.24 152.87 z " clip-path="url(#pb21ce0d8b9)" style="fill: #1b1b7a; fill-opacity: 0.55"/> <path d="M 424.35 159.04 L 428.43 155.12 L 428.67 122.55 L 424.52 126.37 z " clip-path="url(#pb21ce0d8b9)" style="fill: #0e0e3d; fill-opacity: 0.55"/> <path d="M 417.12 156.77 L 424.35 159.04 L 424.52 126.37 L 417.18 124.16 z " clip-path="url(#pb21ce0d8b9)" style="fill: #1b1b7a; fill-opacity: 0.55"/> <path d="M 417.18 124.16 L 424.52 126.37 L 428.67 122.55 L 421.36 120.37 z " clip-path="url(#pb21ce0d8b9)" style="fill: #18186b; fill-opacity: 0.55"/> </g> <g id="Poly3DCollection_74"> <path d="M 427.51 165.31 L 427.51 165.31 L 434.84 167.63 L 434.84 167.63 z " clip-path="url(#pb21ce0d8b9)" style="fill: #0e0e3d; fill-opacity: 0.55"/> <path d="M 423.36 169.34 L 423.36 169.34 L 427.51 165.31 L 427.51 165.31 z " clip-path="url(#pb21ce0d8b9)" style="fill: #0e0e3d; fill-opacity: 0.55"/> <path d="M 423.36 169.34 L 430.72 171.69 L 434.84 167.63 L 427.51 165.31 z " clip-path="url(#pb21ce0d8b9)" style="fill: #18186b; fill-opacity: 0.55"/> <path d="M 423.36 169.34 L 427.51 165.31 L 434.84 167.63 L 430.72 171.69 z " clip-path="url(#pb21ce0d8b9)" style="fill: #11114c; fill-opacity: 0.55"/> <path d="M 430.72 171.69 L 434.84 167.63 L 434.84 167.63 L 430.72 171.69 z " clip-path="url(#pb21ce0d8b9)" style="fill: #0e0e3d; fill-opacity: 0.55"/> <path d="M 423.36 169.34 L 430.72 171.69 L 430.72 171.69 L 423.36 169.34 z " clip-path="url(#pb21ce0d8b9)" style="fill: #0e0e3d; fill-opacity: 0.55"/> </g> <g id="Poly3DCollection_75"> <path d="M 442.23 169.97 L 442.23 169.97 L 449.65 172.32 L 449.65 172.32 z " clip-path="url(#pb21ce0d8b9)" style="fill: #0e0e3d; fill-opacity: 0.55"/> <path d="M 438.13 174.05 L 438.13 174.05 L 442.23 169.97 L 442.23 169.97 z " clip-path="url(#pb21ce0d8b9)" style="fill: #0e0e3d; fill-opacity: 0.55"/> <path d="M 438.13 174.05 L 442.23 169.97 L 449.65 172.32 L 445.58 176.42 z " clip-path="url(#pb21ce0d8b9)" style="fill: #11114c; fill-opacity: 0.55"/> <path d="M 438.13 174.05 L 445.58 176.42 L 449.65 172.32 L 442.23 169.97 z " clip-path="url(#pb21ce0d8b9)" style="fill: #18186b; fill-opacity: 0.55"/> <path d="M 445.58 176.42 L 449.65 172.32 L 449.65 172.32 L 445.58 176.42 z " clip-path="url(#pb21ce0d8b9)" style="fill: #0e0e3d; fill-opacity: 0.55"/> <path d="M 438.13 174.05 L 445.58 176.42 L 445.58 176.42 L 438.13 174.05 z " clip-path="url(#pb21ce0d8b9)" style="fill: #0e0e3d; fill-opacity: 0.55"/> </g> <g id="Poly3DCollection_76"> <path d="M 419.17 173.41 L 419.17 173.41 L 426.56 175.79 L 426.56 175.79 z " clip-path="url(#pb21ce0d8b9)" style="fill: #0e0e3d; fill-opacity: 0.55"/> <path d="M 414.93 177.53 L 414.93 177.53 L 419.17 173.41 L 419.17 173.41 z " clip-path="url(#pb21ce0d8b9)" style="fill: #0e0e3d; fill-opacity: 0.55"/> <path d="M 414.93 177.53 L 419.17 173.41 L 426.56 175.79 L 422.35 179.93 z " clip-path="url(#pb21ce0d8b9)" style="fill: #11114c; fill-opacity: 0.55"/> <path d="M 414.93 177.53 L 422.35 179.93 L 426.56 175.79 L 419.17 173.41 z " clip-path="url(#pb21ce0d8b9)" style="fill: #18186b; fill-opacity: 0.55"/> <path d="M 422.35 179.93 L 426.56 175.79 L 426.56 175.79 L 422.35 179.93 z " clip-path="url(#pb21ce0d8b9)" style="fill: #0e0e3d; fill-opacity: 0.55"/> <path d="M 414.93 177.53 L 422.35 179.93 L 422.35 179.93 L 414.93 177.53 z " clip-path="url(#pb21ce0d8b9)" style="fill: #0e0e3d; fill-opacity: 0.55"/> </g> <g id="Poly3DCollection_77"> <path d="M 357.22 158.88 L 361.66 154.95 L 368.70 157.21 L 364.28 161.16 z " clip-path="url(#pb21ce0d8b9)" style="fill: #11114c; fill-opacity: 0.55"/> <path d="M 361.66 154.95 L 360.26 101.00 L 367.48 103.15 L 368.70 157.21 z " clip-path="url(#pb21ce0d8b9)" style="fill: #0e0e3d; fill-opacity: 0.55"/> <path d="M 357.22 158.88 L 355.70 104.74 L 360.26 101.00 L 361.66 154.95 z " clip-path="url(#pb21ce0d8b9)" style="fill: #1b1b7a; fill-opacity: 0.55"/> <path d="M 364.28 161.16 L 368.70 157.21 L 367.48 103.15 L 362.95 106.91 z " clip-path="url(#pb21ce0d8b9)" style="fill: #0e0e3d; fill-opacity: 0.55"/> <path d="M 357.22 158.88 L 364.28 161.16 L 362.95 106.91 L 355.70 104.74 z " clip-path="url(#pb21ce0d8b9)" style="fill: #1b1b7a; fill-opacity: 0.55"/> <path d="M 355.70 104.74 L 362.95 106.91 L 367.48 103.15 L 360.26 101.00 z " clip-path="url(#pb21ce0d8b9)" style="fill: #18186b; fill-opacity: 0.55"/> </g> <g id="Poly3DCollection_78"> <path d="M 446.28 165.93 L 450.28 161.94 L 457.66 164.24 L 453.68 168.26 z " clip-path="url(#pb21ce0d8b9)" style="fill: #11114c; fill-opacity: 0.55"/> <path d="M 450.28 161.94 L 451.05 120.03 L 458.58 122.25 L 457.66 164.24 z " clip-path="url(#pb21ce0d8b9)" style="fill: #0e0e3d; fill-opacity: 0.55"/> <path d="M 446.28 165.93 L 446.96 123.88 L 451.05 120.03 L 450.28 161.94 z " clip-path="url(#pb21ce0d8b9)" style="fill: #1b1b7a; fill-opacity: 0.55"/> <path d="M 453.68 168.26 L 457.66 164.24 L 458.58 122.25 L 454.52 126.12 z " clip-path="url(#pb21ce0d8b9)" style="fill: #0e0e3d; fill-opacity: 0.55"/> <path d="M 446.28 165.93 L 453.68 168.26 L 454.52 126.12 L 446.96 123.88 z " clip-path="url(#pb21ce0d8b9)" style="fill: #1b1b7a; fill-opacity: 0.55"/> <path d="M 446.96 123.88 L 454.52 126.12 L 458.58 122.25 L 451.05 120.03 z " clip-path="url(#pb21ce0d8b9)" style="fill: #18186b; fill-opacity: 0.55"/> </g> <g id="Poly3DCollection_79"> <path d="M 329.40 149.88 L 333.93 146.05 L 340.80 148.26 L 336.30 152.11 z " clip-path="url(#pb21ce0d8b9)" style="fill: #11114c; fill-opacity: 0.55"/> <path d="M 333.93 146.05 L 330.39 56.74 L 337.56 58.77 L 340.80 148.26 z " clip-path="url(#pb21ce0d8b9)" style="fill: #0e0e3d; fill-opacity: 0.55"/> <path d="M 329.40 149.88 L 325.65 60.26 L 330.39 56.74 L 333.93 146.05 z " clip-path="url(#pb21ce0d8b9)" style="fill: #1b1b7a; fill-opacity: 0.55"/> <path d="M 336.30 152.11 L 340.80 148.26 L 337.56 58.77 L 332.84 62.31 z " clip-path="url(#pb21ce0d8b9)" style="fill: #0e0e3d; fill-opacity: 0.55"/> <path d="M 329.40 149.88 L 336.30 152.11 L 332.84 62.31 L 325.65 60.26 z " clip-path="url(#pb21ce0d8b9)" style="fill: #1b1b7a; fill-opacity: 0.55"/> <path d="M 325.65 60.26 L 332.84 62.31 L 337.56 58.77 L 330.39 56.74 z " clip-path="url(#pb21ce0d8b9)" style="fill: #18186b; fill-opacity: 0.55"/> </g> <g id="Poly3DCollection_80"> <path d="M 400.24 172.78 L 404.53 168.72 L 411.83 171.06 L 407.56 175.15 z " clip-path="url(#pb21ce0d8b9)" style="fill: #11114c; fill-opacity: 0.55"/> <path d="M 404.53 168.72 L 404.28 114.12 L 411.78 116.35 L 411.83 171.06 z " clip-path="url(#pb21ce0d8b9)" style="fill: #0e0e3d; fill-opacity: 0.55"/> <path d="M 400.24 172.78 L 399.87 118.00 L 404.28 114.12 L 404.53 168.72 z " clip-path="url(#pb21ce0d8b9)" style="fill: #1b1b7a; fill-opacity: 0.55"/> <path d="M 407.56 175.15 L 411.83 171.06 L 411.78 116.35 L 407.40 120.26 z " clip-path="url(#pb21ce0d8b9)" style="fill: #0e0e3d; fill-opacity: 0.55"/> <path d="M 400.24 172.78 L 407.56 175.15 L 407.40 120.26 L 399.87 118.00 z " clip-path="url(#pb21ce0d8b9)" style="fill: #1b1b7a; fill-opacity: 0.55"/> <path d="M 399.87 118.00 L 407.40 120.26 L 411.78 116.35 L 404.28 114.12 z " clip-path="url(#pb21ce0d8b9)" style="fill: #18186b; fill-opacity: 0.55"/> </g> <g id="Poly3DCollection_81"> <path d="M 429.81 182.34 L 433.99 178.17 L 441.47 180.57 L 437.32 184.77 z " clip-path="url(#pb21ce0d8b9)" style="fill: #11114c; fill-opacity: 0.55"/> <path d="M 433.99 178.17 L 434.72 107.54 L 442.47 109.80 L 441.47 180.57 z " clip-path="url(#pb21ce0d8b9)" style="fill: #0e0e3d; fill-opacity: 0.55"/> <path d="M 429.81 182.34 L 430.39 111.46 L 434.72 107.54 L 433.99 178.17 z " clip-path="url(#pb21ce0d8b9)" style="fill: #1b1b7a; fill-opacity: 0.55"/> <path d="M 437.32 184.77 L 441.47 180.57 L 442.47 109.80 L 438.17 113.75 z " clip-path="url(#pb21ce0d8b9)" style="fill: #0e0e3d; fill-opacity: 0.55"/> <path d="M 429.81 182.34 L 437.32 184.77 L 438.17 113.75 L 430.39 111.46 z " clip-path="url(#pb21ce0d8b9)" style="fill: #1b1b7a; fill-opacity: 0.55"/> <path d="M 430.39 111.46 L 438.17 113.75 L 442.47 109.80 L 434.72 107.54 z " clip-path="url(#pb21ce0d8b9)" style="fill: #18186b; fill-opacity: 0.55"/> </g> </g> <g id="patch_10"> <path d="M -1 467.2 L 216.7 467.2 L 216.7 246.4 L -1 246.4 " style="fill: none; opacity: 0"/> </g> <g id="pane3d_7"> <g id="patch_11"> <path d="M 12.57 412.75 L 85.48 351.63 L 84.47 263.49 L 8.06 319.25 " style="fill: #f2f2f2; opacity: 0.4; stroke: #f2f2f2; stroke-linejoin: miter"/> </g> </g> <g id="pane3d_8"> <g id="patch_12"> <path d="M 85.48 351.63 L 202.49 385.64 L 206.66 294.46 L 84.47 263.49 " style="fill: #e6e6e6; opacity: 0.4; stroke: #e6e6e6; stroke-linejoin: miter"/> </g> </g> <g id="pane3d_9"> <g id="patch_13"> <path d="M 12.57 412.75 L 136.60 453.26 L 202.49 385.64 L 85.48 351.63 " style="fill: #ececec; opacity: 0.4; stroke: #ececec; stroke-linejoin: miter"/> </g> </g> <g id="grid3d_7"> <g id="Line3DCollection_7"> <path d="M 27.49 417.63 L 99.61 355.74 L 99.20 267.22 " style="fill: none; stroke: #a4a4a4; stroke-width: 0.8"/> <path d="M 57.59 427.46 L 128.08 364.01 L 128.89 274.75 " style="fill: none; stroke: #a4a4a4; stroke-width: 0.8"/> <path d="M 88.50 437.55 L 157.24 372.49 L 159.35 282.47 " style="fill: none; stroke: #a4a4a4; stroke-width: 0.8"/> <path d="M 120.24 447.92 L 187.11 381.17 L 190.58 290.38 " style="fill: none; stroke: #a4a4a4; stroke-width: 0.8"/> </g> </g> <g id="grid3d_8"> <g id="Line3DCollection_8"> <path d="M 18.46 311.66 L 22.46 404.46 L 145.57 444.05 " style="fill: none; stroke: #a4a4a4; stroke-width: 0.8"/> <path d="M 38.35 297.14 L 41.41 388.58 L 162.73 426.45 " style="fill: none; stroke: #a4a4a4; stroke-width: 0.8"/> <path d="M 57.37 283.27 L 59.56 373.37 L 179.12 409.62 " style="fill: none; stroke: #a4a4a4; stroke-width: 0.8"/> <path d="M 75.57 269.98 L 76.96 358.78 L 194.81 393.51 " style="fill: none; stroke: #a4a4a4; stroke-width: 0.8"/> </g> </g> <g id="grid3d_9"> <g id="Line3DCollection_9"> <path d="M 202.80 378.79 L 85.41 344.99 L 12.23 405.73 " style="fill: none; stroke: #a4a4a4; stroke-width: 0.8"/> <path d="M 203.54 362.65 L 85.23 329.38 L 11.43 389.21 " style="fill: none; stroke: #a4a4a4; stroke-width: 0.8"/> <path d="M 204.29 346.27 L 85.04 313.52 L 10.62 372.41 " style="fill: none; stroke: #a4a4a4; stroke-width: 0.8"/> <path d="M 205.05 329.62 L 84.86 297.43 L 9.80 355.33 " style="fill: none; stroke: #a4a4a4; stroke-width: 0.8"/> <path d="M 205.83 312.69 L 84.67 281.09 L 8.97 337.97 " style="fill: none; stroke: #a4a4a4; stroke-width: 0.8"/> </g> </g> <g id="axis3d_7"> <g id="line2d_45"> <path d="M 12.57 412.75 L 136.60 453.26 " style="fill: none; stroke: #000000; stroke-width: 0.8; stroke-linecap: square"/> </g> <g id="xtick_39"> <g id="line2d_46"> <path d="M 28.11 417.09 L 26.23 418.71 " style="fill: none; stroke: #000000; stroke-width: 0.8; stroke-linecap: square"/> </g> <g id="text_41"> <g transform="translate(1.5 -0.5)"><text style="font-size: 10.8px; font-family: 'DejaVu Sans'" transform="translate(8.65 448.93) rotate(-45)">00</text></g> </g> </g> <g id="xtick_40"> <g id="line2d_47"> <path d="M 58.21 426.91 L 56.36 428.57 " style="fill: none; stroke: #000000; stroke-width: 0.8; stroke-linecap: square"/> </g> <g id="text_42"> <g transform="translate(1.5 -0.5)"><text style="font-size: 10.8px; font-family: 'DejaVu Sans'" transform="translate(38.80 459.02) rotate(-45)">01</text></g> </g> </g> <g id="xtick_41"> <g id="line2d_48"> <path d="M 89.10 436.99 L 87.30 438.69 " style="fill: none; stroke: #000000; stroke-width: 0.8; stroke-linecap: square"/> </g> <g id="text_43"> <g transform="translate(1.5 -0.5)"><text style="font-size: 10.8px; font-family: 'DejaVu Sans'" transform="translate(69.75 469.37) rotate(-45)">10</text></g> </g> </g> <g id="xtick_42"> <g id="line2d_49"> <path d="M 120.82 447.33 L 119.07 449.09 " style="fill: none; stroke: #000000; stroke-width: 0.8; stroke-linecap: square"/> </g> <g id="text_44"> <g transform="translate(1.5 -0.5)"><text style="font-size: 10.8px; font-family: 'DejaVu Sans'" transform="translate(101.54 480.00) rotate(-45)">11</text></g> </g> </g> </g> <g id="axis3d_8"> <g id="line2d_50"> <path d="M 202.49 385.64 L 136.60 453.26 " style="fill: none; stroke: #000000; stroke-width: 0.8; stroke-linecap: square"/> </g> <g id="xtick_43"> <g id="line2d_51"> <path d="M 144.53 443.72 L 147.65 444.72 " style="fill: none; stroke: #000000; stroke-width: 0.8; stroke-linecap: square"/> </g> <g id="text_45"> <g transform="translate(-0.6 -1.7)"><text style="font-size: 10.8px; font-family: 'DejaVu Sans'" transform="translate(159.24 457.52) rotate(-337.5)">00</text></g> </g> </g> <g id="xtick_44"> <g id="line2d_52"> <path d="M 161.70 426.13 L 164.77 427.08 " style="fill: none; stroke: #000000; stroke-width: 0.8; stroke-linecap: square"/> </g> <g id="text_46"> <g transform="translate(-0.6 -1.7)"><text style="font-size: 10.8px; font-family: 'DejaVu Sans'" transform="translate(176.12 439.60) rotate(-337.5)">01</text></g> </g> </g> <g id="xtick_45"> <g id="line2d_53"> <path d="M 178.12 409.31 L 181.14 410.23 " style="fill: none; stroke: #000000; stroke-width: 0.8; stroke-linecap: square"/> </g> <g id="text_47"> <g transform="translate(-0.6 -1.7)"><text style="font-size: 10.8px; font-family: 'DejaVu Sans'" transform="translate(192.25 422.47) rotate(-337.5)">10</text></g> </g> </g> <g id="xtick_46"> <g id="line2d_54"> <path d="M 193.82 393.22 L 196.80 394.10 " style="fill: none; stroke: #000000; stroke-width: 0.8; stroke-linecap: square"/> </g> <g id="text_48"> <g transform="translate(-0.6 -1.7)"><text style="font-size: 10.8px; font-family: 'DejaVu Sans'" transform="translate(207.69 406.08) rotate(-337.5)">11</text></g> </g> </g> </g> <g id="axis3d_9"> <g id="line2d_55"> <path d="M 202.49 385.64 L 206.66 294.46 " style="fill: none; stroke: #000000; stroke-width: 0.8; stroke-linecap: square"/> </g> <g id="xtick_47"> <g id="line2d_56"> <path d="M 201.81 378.50 L 204.77 379.35 " style="fill: none; stroke: #000000; stroke-width: 0.8; stroke-linecap: square"/> </g> <g id="text_49"> <text style="font-size: 10.8px; font-family: 'DejaVu Sans'; text-anchor: middle" x="218.93" y="386.71">0.0</text> </g> </g> <g id="xtick_48"> <g id="line2d_57"> <path d="M 202.54 362.38 L 205.53 363.21 " style="fill: none; stroke: #000000; stroke-width: 0.8; stroke-linecap: square"/> </g> <g id="text_50"> <text style="font-size: 10.8px; font-family: 'DejaVu Sans'; text-anchor: middle" x="219.78" y="370.33">0.1</text> </g> </g> <g id="xtick_49"> <g id="line2d_58"> <path d="M 203.29 345.99 L 206.29 346.82 " style="fill: none; stroke: #000000; stroke-width: 0.8; stroke-linecap: square"/> </g> <g id="text_51"> <text style="font-size: 10.8px; font-family: 'DejaVu Sans'; text-anchor: middle" x="220.65" y="353.69">0.2</text> </g> </g> <g id="xtick_50"> <g id="line2d_59"> <path d="M 204.04 329.35 L 207.07 330.16 " style="fill: none; stroke: #000000; stroke-width: 0.8; stroke-linecap: square"/> </g> <g id="text_52"> <text style="font-size: 10.8px; font-family: 'DejaVu Sans'; text-anchor: middle" x="221.54" y="336.78">0.3</text> </g> </g> <g id="xtick_51"> <g id="line2d_60"> <path d="M 204.81 312.43 L 207.87 313.23 " style="fill: none; stroke: #000000; stroke-width: 0.8; stroke-linecap: square"/> </g> <g id="text_53"> <text style="font-size: 10.8px; font-family: 'DejaVu Sans'; text-anchor: middle" x="222.43" y="319.60">0.4</text> </g> </g> <g id="text_54"> <g transform="translate(240.81 352.35) rotate(-90)"><text class="zl" y="-0.64">Im[<tspan style="font-style: oblique">ρ</tspan>]</text></g> </g> </g> <g id="axes_3"> <g id="Poly3DCollection_82"> <path d="M 88.27 350.64 L 88.27 350.64 L 102.43 354.74 L 102.43 354.74 z " clip-path="url(#p75929166d0)" style="fill: #6e0a1e; fill-opacity: 0.56"/> <path d="M 79.77 357.78 L 79.77 357.78 L 88.27 350.64 L 88.27 350.64 z " clip-path="url(#p75929166d0)" style="fill: #6e0a1e; fill-opacity: 0.56"/> <path d="M 79.77 357.78 L 88.27 350.64 L 102.43 354.74 L 94.03 361.97 z " clip-path="url(#p75929166d0)" style="fill: #8a0c26; fill-opacity: 0.56"/> <path d="M 79.77 357.78 L 94.03 361.97 L 102.43 354.74 L 88.27 350.64 z " clip-path="url(#p75929166d0)" style="fill: #c01234; fill-opacity: 0.56"/> <path d="M 94.03 361.97 L 102.43 354.74 L 102.43 354.74 L 94.03 361.97 z " clip-path="url(#p75929166d0)" style="fill: #6e0a1e; fill-opacity: 0.56"/> <path d="M 79.77 357.78 L 94.03 361.97 L 94.03 361.97 L 79.77 357.78 z " clip-path="url(#p75929166d0)" style="fill: #6e0a1e; fill-opacity: 0.56"/> </g> <g id="Poly3DCollection_83"> <path d="M 116.76 358.90 L 116.75 363.60 L 131.22 367.82 L 131.27 363.10 z " clip-path="url(#p75929166d0)" style="fill: #dc143c; fill-opacity: 0.56"/> <path d="M 108.46 366.21 L 108.46 370.95 L 116.75 363.60 L 116.76 358.90 z " clip-path="url(#p75929166d0)" style="fill: #6e0a1e; fill-opacity: 0.56"/> <path d="M 108.46 370.95 L 123.03 375.26 L 131.22 367.82 L 116.75 363.60 z " clip-path="url(#p75929166d0)" style="fill: #c01234; fill-opacity: 0.56"/> <path d="M 108.46 366.21 L 116.76 358.90 L 131.27 363.10 L 123.06 370.51 z " clip-path="url(#p75929166d0)" style="fill: #8a0c26; fill-opacity: 0.56"/> <path d="M 123.06 370.51 L 131.27 363.10 L 131.22 367.82 L 123.03 375.26 z " clip-path="url(#p75929166d0)" style="fill: #dc143c; fill-opacity: 0.56"/> <path d="M 108.46 366.21 L 123.06 370.51 L 123.03 375.26 L 108.46 370.95 z " clip-path="url(#p75929166d0)" style="fill: #6e0a1e; fill-opacity: 0.56"/> </g> <g id="Poly3DCollection_84"> <path d="M 71.09 365.07 L 71.17 369.49 L 85.49 373.78 L 85.44 369.35 z " clip-path="url(#p75929166d0)" style="fill: #dc143c; fill-opacity: 0.56"/> <path d="M 62.22 372.52 L 62.32 376.96 L 71.17 369.49 L 71.09 365.07 z " clip-path="url(#p75929166d0)" style="fill: #6e0a1e; fill-opacity: 0.56"/> <path d="M 62.32 376.96 L 76.74 381.35 L 85.49 373.78 L 71.17 369.49 z " clip-path="url(#p75929166d0)" style="fill: #c01234; fill-opacity: 0.56"/> <path d="M 62.22 372.52 L 71.09 365.07 L 85.44 369.35 L 76.67 376.89 z " clip-path="url(#p75929166d0)" style="fill: #8a0c26; fill-opacity: 0.56"/> <path d="M 76.67 376.89 L 85.44 369.35 L 85.49 373.78 L 76.74 381.35 z " clip-path="url(#p75929166d0)" style="fill: #dc143c; fill-opacity: 0.56"/> <path d="M 62.22 372.52 L 76.67 376.89 L 76.74 381.35 L 62.32 376.96 z " clip-path="url(#p75929166d0)" style="fill: #6e0a1e; fill-opacity: 0.56"/> </g> <g id="Poly3DCollection_85"> <path d="M 145.95 367.36 L 146.02 363.23 L 160.91 367.52 L 160.81 371.67 z " clip-path="url(#p75929166d0)" style="fill: #6e0a1e; fill-opacity: 0.56"/> <path d="M 137.85 374.85 L 137.91 370.70 L 146.02 363.23 L 145.95 367.36 z " clip-path="url(#p75929166d0)" style="fill: #dc143c; fill-opacity: 0.56"/> <path d="M 137.85 374.85 L 145.95 367.36 L 160.81 371.67 L 152.82 379.25 z " clip-path="url(#p75929166d0)" style="fill: #8a0c26; fill-opacity: 0.56"/> <path d="M 137.91 370.70 L 152.91 375.08 L 160.91 367.52 L 146.02 363.23 z " clip-path="url(#p75929166d0)" style="fill: #c01234; fill-opacity: 0.56"/> <path d="M 152.82 379.25 L 160.81 371.67 L 160.91 367.52 L 152.91 375.08 z " clip-path="url(#p75929166d0)" style="fill: #6e0a1e; fill-opacity: 0.56"/> <path d="M 137.85 374.85 L 152.82 379.25 L 152.91 375.08 L 137.91 370.70 z " clip-path="url(#p75929166d0)" style="fill: #dc143c; fill-opacity: 0.56"/> </g> <g id="Poly3DCollection_86"> <path d="M 99.97 373.68 L 99.97 373.68 L 114.68 378.07 L 114.68 378.07 z " clip-path="url(#p75929166d0)" style="fill: #6e0a1e; fill-opacity: 0.56"/> <path d="M 91.31 381.32 L 91.31 381.32 L 99.97 373.68 L 99.97 373.68 z " clip-path="url(#p75929166d0)" style="fill: #6e0a1e; fill-opacity: 0.56"/> <path d="M 91.31 381.32 L 99.97 373.68 L 114.68 378.07 L 106.12 385.80 z " clip-path="url(#p75929166d0)" style="fill: #8a0c26; fill-opacity: 0.56"/> <path d="M 91.31 381.32 L 106.12 385.80 L 114.68 378.07 L 99.97 373.68 z " clip-path="url(#p75929166d0)" style="fill: #c01234; fill-opacity: 0.56"/> <path d="M 106.12 385.80 L 114.68 378.07 L 114.68 378.07 L 106.12 385.80 z " clip-path="url(#p75929166d0)" style="fill: #6e0a1e; fill-opacity: 0.56"/> <path d="M 91.31 381.32 L 106.12 385.80 L 106.12 385.80 L 91.31 381.32 z " clip-path="url(#p75929166d0)" style="fill: #6e0a1e; fill-opacity: 0.56"/> </g> <g id="Poly3DCollection_87"> <path d="M 175.85 376.03 L 175.85 376.03 L 191.09 380.44 L 191.09 380.44 z " clip-path="url(#p75929166d0)" style="fill: #6e0a1e; fill-opacity: 0.56"/> <path d="M 167.98 383.71 L 167.98 383.71 L 175.85 376.03 L 175.85 376.03 z " clip-path="url(#p75929166d0)" style="fill: #6e0a1e; fill-opacity: 0.56"/> <path d="M 167.98 383.71 L 175.85 376.03 L 191.09 380.44 L 183.33 388.22 z " clip-path="url(#p75929166d0)" style="fill: #8a0c26; fill-opacity: 0.56"/> <path d="M 167.98 383.71 L 183.33 388.22 L 191.09 380.44 L 175.85 376.03 z " clip-path="url(#p75929166d0)" style="fill: #c01234; fill-opacity: 0.56"/> <path d="M 183.33 388.22 L 191.09 380.44 L 191.09 380.44 L 183.33 388.22 z " clip-path="url(#p75929166d0)" style="fill: #6e0a1e; fill-opacity: 0.56"/> <path d="M 167.98 383.71 L 183.33 388.22 L 183.33 388.22 L 167.98 383.71 z " clip-path="url(#p75929166d0)" style="fill: #6e0a1e; fill-opacity: 0.56"/> </g> <g id="Poly3DCollection_88"> <path d="M 53.16 380.12 L 53.02 374.82 L 67.61 379.27 L 67.72 384.59 z " clip-path="url(#p75929166d0)" style="fill: #6e0a1e; fill-opacity: 0.56"/> <path d="M 43.91 387.90 L 43.74 382.56 L 53.02 374.82 L 53.16 380.12 z " clip-path="url(#p75929166d0)" style="fill: #dc143c; fill-opacity: 0.56"/> <path d="M 43.91 387.90 L 53.16 380.12 L 67.72 384.59 L 58.56 392.46 z " clip-path="url(#p75929166d0)" style="fill: #8a0c26; fill-opacity: 0.56"/> <path d="M 43.74 382.56 L 58.43 387.10 L 67.61 379.27 L 53.02 374.82 z " clip-path="url(#p75929166d0)" style="fill: #c01234; fill-opacity: 0.56"/> <path d="M 58.56 392.46 L 67.72 384.59 L 67.61 379.27 L 58.43 387.10 z " clip-path="url(#p75929166d0)" style="fill: #6e0a1e; fill-opacity: 0.56"/> <path d="M 43.91 387.90 L 58.56 392.46 L 58.43 387.10 L 43.74 382.56 z " clip-path="url(#p75929166d0)" style="fill: #dc143c; fill-opacity: 0.56"/> </g> <g id="Poly3DCollection_89"> <path d="M 129.58 382.51 L 129.58 382.51 L 144.66 387.01 L 144.66 387.01 z " clip-path="url(#p75929166d0)" style="fill: #6e0a1e; fill-opacity: 0.56"/> <path d="M 121.13 390.33 L 121.13 390.33 L 129.58 382.51 L 129.58 382.51 z " clip-path="url(#p75929166d0)" style="fill: #6e0a1e; fill-opacity: 0.56"/> <path d="M 121.13 390.33 L 129.58 382.51 L 144.66 387.01 L 136.32 394.93 z " clip-path="url(#p75929166d0)" style="fill: #8a0c26; fill-opacity: 0.56"/> <path d="M 121.13 390.33 L 136.32 394.93 L 144.66 387.01 L 129.58 382.51 z " clip-path="url(#p75929166d0)" style="fill: #c01234; fill-opacity: 0.56"/> <path d="M 136.32 394.93 L 144.66 387.01 L 144.66 387.01 L 136.32 394.93 z " clip-path="url(#p75929166d0)" style="fill: #6e0a1e; fill-opacity: 0.56"/> <path d="M 121.13 390.33 L 136.32 394.93 L 136.32 394.93 L 121.13 390.33 z " clip-path="url(#p75929166d0)" style="fill: #6e0a1e; fill-opacity: 0.56"/> </g> <g id="Poly3DCollection_90"> <path d="M 82.45 389.11 L 82.45 389.11 L 97.38 393.69 L 97.38 393.69 z " clip-path="url(#p75929166d0)" style="fill: #6e0a1e; fill-opacity: 0.56"/> <path d="M 73.40 397.08 L 73.40 397.08 L 82.45 389.11 L 82.45 389.11 z " clip-path="url(#p75929166d0)" style="fill: #6e0a1e; fill-opacity: 0.56"/> <path d="M 73.40 397.08 L 82.45 389.11 L 97.38 393.69 L 88.43 401.76 z " clip-path="url(#p75929166d0)" style="fill: #8a0c26; fill-opacity: 0.56"/> <path d="M 73.40 397.08 L 88.43 401.76 L 97.38 393.69 L 82.45 389.11 z " clip-path="url(#p75929166d0)" style="fill: #c01234; fill-opacity: 0.56"/> <path d="M 88.43 401.76 L 97.38 393.69 L 97.38 393.69 L 88.43 401.76 z " clip-path="url(#p75929166d0)" style="fill: #6e0a1e; fill-opacity: 0.56"/> <path d="M 73.40 397.08 L 88.43 401.76 L 88.43 401.76 L 73.40 397.08 z " clip-path="url(#p75929166d0)" style="fill: #6e0a1e; fill-opacity: 0.56"/> </g> <g id="Poly3DCollection_91"> <path d="M 159.93 391.56 L 159.83 395.76 L 175.26 400.39 L 175.40 396.17 z " clip-path="url(#p75929166d0)" style="fill: #dc143c; fill-opacity: 0.56"/> <path d="M 151.71 399.58 L 151.62 403.81 L 159.83 395.76 L 159.93 391.56 z " clip-path="url(#p75929166d0)" style="fill: #6e0a1e; fill-opacity: 0.56"/> <path d="M 151.62 403.81 L 167.17 408.55 L 175.26 400.39 L 159.83 395.76 z " clip-path="url(#p75929166d0)" style="fill: #c01234; fill-opacity: 0.56"/> <path d="M 151.71 399.58 L 159.93 391.56 L 175.40 396.17 L 167.29 404.30 z " clip-path="url(#p75929166d0)" style="fill: #8a0c26; fill-opacity: 0.56"/> <path d="M 167.29 404.30 L 175.40 396.17 L 175.26 400.39 L 167.17 408.55 z " clip-path="url(#p75929166d0)" style="fill: #dc143c; fill-opacity: 0.56"/> <path d="M 151.71 399.58 L 167.29 404.30 L 167.17 408.55 L 151.62 403.81 z " clip-path="url(#p75929166d0)" style="fill: #6e0a1e; fill-opacity: 0.56"/> </g> <g id="Poly3DCollection_92"> <path d="M 34.45 395.84 L 34.45 395.84 L 49.21 400.50 L 49.21 400.50 z " clip-path="url(#p75929166d0)" style="fill: #6e0a1e; fill-opacity: 0.56"/> <path d="M 24.78 403.96 L 24.78 403.96 L 34.45 395.84 L 34.45 395.84 z " clip-path="url(#p75929166d0)" style="fill: #6e0a1e; fill-opacity: 0.56"/> <path d="M 24.78 403.96 L 34.45 395.84 L 49.21 400.50 L 39.64 408.73 z " clip-path="url(#p75929166d0)" style="fill: #8a0c26; fill-opacity: 0.56"/> <path d="M 24.78 403.96 L 39.64 408.73 L 49.21 400.50 L 34.45 395.84 z " clip-path="url(#p75929166d0)" style="fill: #c01234; fill-opacity: 0.56"/> <path d="M 39.64 408.73 L 49.21 400.50 L 49.21 400.50 L 39.64 408.73 z " clip-path="url(#p75929166d0)" style="fill: #6e0a1e; fill-opacity: 0.56"/> <path d="M 24.78 403.96 L 39.64 408.73 L 39.64 408.73 L 24.78 403.96 z " clip-path="url(#p75929166d0)" style="fill: #6e0a1e; fill-opacity: 0.56"/> </g> <g id="Poly3DCollection_93"> <path d="M 112.49 398.33 L 112.49 398.33 L 127.79 403.03 L 127.79 403.03 z " clip-path="url(#p75929166d0)" style="fill: #6e0a1e; fill-opacity: 0.56"/> <path d="M 103.66 406.51 L 103.66 406.51 L 112.49 398.33 L 112.49 398.33 z " clip-path="url(#p75929166d0)" style="fill: #6e0a1e; fill-opacity: 0.56"/> <path d="M 103.66 406.51 L 119.08 411.31 L 127.79 403.03 L 112.49 398.33 z " clip-path="url(#p75929166d0)" style="fill: #c01234; fill-opacity: 0.56"/> <path d="M 103.66 406.51 L 112.49 398.33 L 127.79 403.03 L 119.08 411.31 z " clip-path="url(#p75929166d0)" style="fill: #8a0c26; fill-opacity: 0.56"/> <path d="M 119.08 411.31 L 127.79 403.03 L 127.79 403.03 L 119.08 411.31 z " clip-path="url(#p75929166d0)" style="fill: #6e0a1e; fill-opacity: 0.56"/> <path d="M 103.66 406.51 L 119.08 411.31 L 119.08 411.31 L 103.66 406.51 z " clip-path="url(#p75929166d0)" style="fill: #6e0a1e; fill-opacity: 0.56"/> </g> <g id="Poly3DCollection_94"> <path d="M 64.15 405.23 L 64.26 410.13 L 79.36 414.94 L 79.29 410.02 z " clip-path="url(#p75929166d0)" style="fill: #dc143c; fill-opacity: 0.56"/> <path d="M 54.69 413.56 L 54.83 418.50 L 64.26 410.13 L 64.15 405.23 z " clip-path="url(#p75929166d0)" style="fill: #6e0a1e; fill-opacity: 0.56"/> <path d="M 54.83 418.50 L 70.04 423.41 L 79.36 414.94 L 64.26 410.13 z " clip-path="url(#p75929166d0)" style="fill: #c01234; fill-opacity: 0.56"/> <path d="M 54.69 413.56 L 64.15 405.23 L 79.29 410.02 L 69.94 418.46 z " clip-path="url(#p75929166d0)" style="fill: #8a0c26; fill-opacity: 0.56"/> <path d="M 69.94 418.46 L 79.29 410.02 L 79.36 414.94 L 70.04 423.41 z " clip-path="url(#p75929166d0)" style="fill: #dc143c; fill-opacity: 0.56"/> <path d="M 54.69 413.56 L 69.94 418.46 L 70.04 423.41 L 54.83 418.50 z " clip-path="url(#p75929166d0)" style="fill: #6e0a1e; fill-opacity: 0.56"/> </g> <g id="Poly3DCollection_95"> <path d="M 143.30 407.79 L 143.38 402.85 L 159.13 407.65 L 159.00 412.61 z " clip-path="url(#p75929166d0)" style="fill: #6e0a1e; fill-opacity: 0.56"/> <path d="M 134.70 416.18 L 134.76 411.20 L 143.38 402.85 L 143.30 407.79 z " clip-path="url(#p75929166d0)" style="fill: #dc143c; fill-opacity: 0.56"/> <path d="M 134.70 416.18 L 143.30 407.79 L 159.00 412.61 L 150.53 421.11 z " clip-path="url(#p75929166d0)" style="fill: #8a0c26; fill-opacity: 0.56"/> <path d="M 134.76 411.20 L 150.63 416.11 L 159.13 407.65 L 143.38 402.85 z " clip-path="url(#p75929166d0)" style="fill: #c01234; fill-opacity: 0.56"/> <path d="M 150.53 421.11 L 159.00 412.61 L 159.13 407.65 L 150.63 416.11 z " clip-path="url(#p75929166d0)" style="fill: #6e0a1e; fill-opacity: 0.56"/> <path d="M 134.70 416.18 L 150.53 421.11 L 150.63 416.11 L 134.76 411.20 z " clip-path="url(#p75929166d0)" style="fill: #dc143c; fill-opacity: 0.56"/> </g> <g id="Poly3DCollection_96"> <path d="M 94.63 414.87 L 94.59 409.57 L 110.17 414.46 L 110.16 419.78 z " clip-path="url(#p75929166d0)" style="fill: #6e0a1e; fill-opacity: 0.56"/> <path d="M 85.39 423.42 L 85.33 418.08 L 94.59 409.57 L 94.63 414.87 z " clip-path="url(#p75929166d0)" style="fill: #dc143c; fill-opacity: 0.56"/> <path d="M 85.39 423.42 L 94.63 414.87 L 110.16 419.78 L 101.05 428.44 z " clip-path="url(#p75929166d0)" style="fill: #8a0c26; fill-opacity: 0.56"/> <path d="M 85.33 418.08 L 101.02 423.08 L 110.17 414.46 L 94.59 409.57 z " clip-path="url(#p75929166d0)" style="fill: #c01234; fill-opacity: 0.56"/> <path d="M 101.05 428.44 L 110.16 419.78 L 110.17 414.46 L 101.02 423.08 z " clip-path="url(#p75929166d0)" style="fill: #6e0a1e; fill-opacity: 0.56"/> <path d="M 85.39 423.42 L 101.05 428.44 L 101.02 423.08 L 85.33 418.08 z " clip-path="url(#p75929166d0)" style="fill: #dc143c; fill-opacity: 0.56"/> </g> <g id="Poly3DCollection_97"> <path d="M 125.91 424.76 L 125.91 424.76 L 141.86 429.80 L 141.86 429.80 z " clip-path="url(#p75929166d0)" style="fill: #6e0a1e; fill-opacity: 0.56"/> <path d="M 116.91 433.53 L 116.91 433.53 L 125.91 424.76 L 125.91 424.76 z " clip-path="url(#p75929166d0)" style="fill: #6e0a1e; fill-opacity: 0.56"/> <path d="M 116.91 433.53 L 125.91 424.76 L 141.86 429.80 L 132.98 438.70 z " clip-path="url(#p75929166d0)" style="fill: #8a0c26; fill-opacity: 0.56"/> <path d="M 116.91 433.53 L 132.98 438.70 L 141.86 429.80 L 125.91 424.76 z " clip-path="url(#p75929166d0)" style="fill: #c01234; fill-opacity: 0.56"/> <path d="M 132.98 438.70 L 141.86 429.80 L 141.86 429.80 L 132.98 438.70 z " clip-path="url(#p75929166d0)" style="fill: #6e0a1e; fill-opacity: 0.56"/> <path d="M 116.91 433.53 L 132.98 438.70 L 132.98 438.70 L 116.91 433.53 z " clip-path="url(#p75929166d0)" style="fill: #6e0a1e; fill-opacity: 0.56"/> </g> <g id="Poly3DCollection_98"> <path d="M 16.18 405.17 L 135.52 443.70 L 199.12 379.31 L 86.30 346.76 z " clip-path="url(#p75929166d0)" style="fill-opacity: 0.15"/> </g> </g> <g id="patch_14"> <path d="M 300.2 476.4 L 521 476.4 L 521 255.6 L 300.2 255.6 L 300.2 476.4 z " style="fill: none; opacity: 0"/> </g> <g id="pane3d_10"> <g id="patch_15"> <path d="M 316.87 421.95 L 389.78 360.83 L 388.77 272.69 L 312.36 328.45 " style="fill: #f2f2f2; opacity: 0.4; stroke: #f2f2f2; stroke-linejoin: miter"/> </g> </g> <g id="pane3d_11"> <g id="patch_16"> <path d="M 389.78 360.83 L 506.79 394.84 L 510.96 303.66 L 388.77 272.69 " style="fill: #e6e6e6; opacity: 0.4; stroke: #e6e6e6; stroke-linejoin: miter"/> </g> </g> <g id="pane3d_12"> <g id="patch_17"> <path d="M 316.87 421.95 L 440.90 462.46 L 506.79 394.84 L 389.78 360.83 " style="fill: #ececec; opacity: 0.4; stroke: #ececec; stroke-linejoin: miter"/> </g> </g> <g id="grid3d_10"> <g id="Line3DCollection_10"> <path d="M 327.83 425.53 L 400.17 363.85 L 399.59 275.43 " style="fill: none; stroke: #a4a4a4; stroke-width: 0.8"/> <path d="M 341.74 430.07 L 413.32 367.68 L 413.31 278.91 " style="fill: none; stroke: #a4a4a4; stroke-width: 0.8"/> <path d="M 355.81 434.67 L 426.63 371.54 L 427.20 282.43 " style="fill: none; stroke: #a4a4a4; stroke-width: 0.8"/> <path d="M 370.06 439.32 L 440.09 375.46 L 441.24 285.99 " style="fill: none; stroke: #a4a4a4; stroke-width: 0.8"/> <path d="M 384.48 444.04 L 453.69 379.41 L 455.45 289.59 " style="fill: none; stroke: #a4a4a4; stroke-width: 0.8"/> <path d="M 399.08 448.80 L 467.45 383.41 L 469.83 293.24 " style="fill: none; stroke: #a4a4a4; stroke-width: 0.8"/> <path d="M 413.86 453.63 L 481.37 387.46 L 484.38 296.92 " style="fill: none; stroke: #a4a4a4; stroke-width: 0.8"/> <path d="M 428.83 458.52 L 495.45 391.55 L 499.10 300.66 " style="fill: none; stroke: #a4a4a4; stroke-width: 0.8"/> </g> </g> <g id="grid3d_11"> <g id="Line3DCollection_11"> <path d="M 320.04 322.84 L 324.17 415.83 L 447.52 455.66 " style="fill: none; stroke: #a4a4a4; stroke-width: 0.8"/> <path d="M 329.49 315.95 L 333.17 408.29 L 455.68 447.29 " style="fill: none; stroke: #a4a4a4; stroke-width: 0.8"/> <path d="M 338.75 309.19 L 341.98 400.90 L 463.66 439.10 " style="fill: none; stroke: #a4a4a4; stroke-width: 0.8"/> <path d="M 347.81 302.58 L 350.62 393.66 L 471.47 431.08 " style="fill: none; stroke: #a4a4a4; stroke-width: 0.8"/> <path d="M 356.68 296.11 L 359.09 386.56 L 479.12 423.23 " style="fill: none; stroke: #a4a4a4; stroke-width: 0.8"/> <path d="M 365.37 289.76 L 367.40 379.60 L 486.62 415.54 " style="fill: none; stroke: #a4a4a4; stroke-width: 0.8"/> <path d="M 373.89 283.55 L 375.54 372.77 L 493.96 408.00 " style="fill: none; stroke: #a4a4a4; stroke-width: 0.8"/> <path d="M 382.24 277.46 L 383.53 366.08 L 501.15 400.62 " style="fill: none; stroke: #a4a4a4; stroke-width: 0.8"/> </g> </g> <g id="grid3d_12"> <g id="Line3DCollection_12"> <path d="M 506.87 393.09 L 389.76 359.14 L 316.78 420.16 " style="fill: none; stroke: #a4a4a4; stroke-width: 0.8"/> </g> </g> <g id="axis3d_10"> <g id="line2d_61"> <path d="M 316.87 421.95 L 440.90 462.46 " style="fill: none; stroke: #000000; stroke-width: 0.8; stroke-linecap: square"/> </g> <g id="xtick_52"> <g id="line2d_62"> <path d="M 328.46 425.00 L 326.57 426.61 " style="fill: none; stroke: #000000; stroke-width: 0.8; stroke-linecap: square"/> </g> <g id="text_55"> <g transform="translate(0.5 -1)"><text style="font-size: 10.8px; font-family: 'DejaVu Sans'" transform="translate(304.13 461.66) rotate(-45)">000</text></g> </g> </g> <g id="xtick_53"> <g id="line2d_63"> <path d="M 342.36 429.53 L 340.48 431.16 " style="fill: none; stroke: #000000; stroke-width: 0.8; stroke-linecap: square"/> </g> <g id="text_56"> <g transform="translate(0.5 -1)"><text style="font-size: 10.8px; font-family: 'DejaVu Sans'" transform="translate(318.06 466.32) rotate(-45)">001</text></g> </g> </g> <g id="xtick_54"> <g id="line2d_64"> <path d="M 356.43 434.12 L 354.57 435.77 " style="fill: none; stroke: #000000; stroke-width: 0.8; stroke-linecap: square"/> </g> <g id="text_57"> <g transform="translate(0.5 -1)"><text style="font-size: 10.8px; font-family: 'DejaVu Sans'" transform="translate(332.15 471.04) rotate(-45)">010</text></g> </g> </g> <g id="xtick_55"> <g id="line2d_65"> <path d="M 370.67 438.77 L 368.83 440.44 " style="fill: none; stroke: #000000; stroke-width: 0.8; stroke-linecap: square"/> </g> <g id="text_58"> <g transform="translate(0.5 -1)"><text style="font-size: 10.8px; font-family: 'DejaVu Sans'" transform="translate(346.42 475.81) rotate(-45)">011</text></g> </g> </g> <g id="xtick_56"> <g id="line2d_66"> <path d="M 385.08 443.47 L 383.27 445.17 " style="fill: none; stroke: #000000; stroke-width: 0.8; stroke-linecap: square"/> </g> <g id="text_59"> <g transform="translate(0.5 -1)"><text style="font-size: 10.8px; font-family: 'DejaVu Sans'" transform="translate(360.86 480.64) rotate(-45)">100</text></g> </g> </g> <g id="xtick_57"> <g id="line2d_67"> <path d="M 399.68 448.23 L 397.88 449.95 " style="fill: none; stroke: #000000; stroke-width: 0.8; stroke-linecap: square"/> </g> <g id="text_60"> <g transform="translate(0.5 -1)"><text style="font-size: 10.8px; font-family: 'DejaVu Sans'" transform="translate(375.48 485.53) rotate(-45)">101</text></g> </g> </g> <g id="xtick_58"> <g id="line2d_68"> <path d="M 414.45 453.05 L 412.68 454.79 " style="fill: none; stroke: #000000; stroke-width: 0.8; stroke-linecap: square"/> </g> <g id="text_61"> <g transform="translate(0.5 -1)"><text style="font-size: 10.8px; font-family: 'DejaVu Sans'" transform="translate(390.29 490.49) rotate(-45)">110</text></g> </g> </g> <g id="xtick_59"> <g id="line2d_69"> <path d="M 429.42 457.94 L 427.67 459.69 " style="fill: none; stroke: #000000; stroke-width: 0.8; stroke-linecap: square"/> </g> <g id="text_62"> <g transform="translate(0.5 -1)"><text style="font-size: 10.8px; font-family: 'DejaVu Sans'" transform="translate(405.28 495.50) rotate(-45)">111</text></g> </g> </g> </g> <g id="axis3d_11"> <g id="line2d_70"> <path d="M 506.79 394.84 L 440.90 462.46 " style="fill: none; stroke: #000000; stroke-width: 0.8; stroke-linecap: square"/> </g> <g id="xtick_60"> <g id="line2d_71"> <path d="M 446.48 455.33 L 449.60 456.33 " style="fill: none; stroke: #000000; stroke-width: 0.8; stroke-linecap: square"/> </g> <g id="text_63"> <g transform="translate(0 -1.5)"><text style="font-size: 10.8px; font-family: 'DejaVu Sans'" transform="translate(461.23 467.86) rotate(-337.5)">000</text></g> </g> </g> <g id="xtick_61"> <g id="line2d_72"> <path d="M 454.64 446.97 L 457.74 447.95 " style="fill: none; stroke: #000000; stroke-width: 0.8; stroke-linecap: square"/> </g> <g id="text_64"> <g transform="translate(0 -1.5)"><text style="font-size: 10.8px; font-family: 'DejaVu Sans'" transform="translate(469.25 459.34) rotate(-337.5)">001</text></g> </g> </g> <g id="xtick_62"> <g id="line2d_73"> <path d="M 462.63 438.78 L 465.71 439.75 " style="fill: none; stroke: #000000; stroke-width: 0.8; stroke-linecap: square"/> </g> <g id="text_65"> <g transform="translate(0 -1.5)"><text style="font-size: 10.8px; font-family: 'DejaVu Sans'" transform="translate(477.10 451.00) rotate(-337.5)">010</text></g> </g> </g> <g id="xtick_63"> <g id="line2d_74"> <path d="M 470.45 430.77 L 473.51 431.71 " style="fill: none; stroke: #000000; stroke-width: 0.8; stroke-linecap: square"/> </g> <g id="text_66"> <g transform="translate(0 -1.5)"><text style="font-size: 10.8px; font-family: 'DejaVu Sans'" transform="translate(484.79 442.84) rotate(-337.5)">011</text></g> </g> </g> <g id="xtick_64"> <g id="line2d_75"> <path d="M 478.11 422.92 L 481.14 423.85 " style="fill: none; stroke: #000000; stroke-width: 0.8; stroke-linecap: square"/> </g> <g id="text_67"> <g transform="translate(0 -1.5)"><text style="font-size: 10.8px; font-family: 'DejaVu Sans'" transform="translate(492.32 434.85) rotate(-337.5)">100</text></g> </g> </g> <g id="xtick_65"> <g id="line2d_76"> <path d="M 485.62 415.24 L 488.62 416.14 " style="fill: none; stroke: #000000; stroke-width: 0.8; stroke-linecap: square"/> </g> <g id="text_68"> <g transform="translate(0 -1.5)"><text style="font-size: 10.8px; font-family: 'DejaVu Sans'" transform="translate(499.69 427.02) rotate(-337.5)">101</text></g> </g> </g> <g id="xtick_66"> <g id="line2d_77"> <path d="M 492.97 407.71 L 495.95 408.60 " style="fill: none; stroke: #000000; stroke-width: 0.8; stroke-linecap: square"/> </g> <g id="text_69"> <g transform="translate(0 -1.5)"><text style="font-size: 10.8px; font-family: 'DejaVu Sans'" transform="translate(506.92 419.35) rotate(-337.5)">110</text></g> </g> </g> <g id="xtick_67"> <g id="line2d_78"> <path d="M 500.17 400.33 L 503.13 401.20 " style="fill: none; stroke: #000000; stroke-width: 0.8; stroke-linecap: square"/> </g> <g id="text_70"> <g transform="translate(0 -1.5)"><text style="font-size: 10.8px; font-family: 'DejaVu Sans'" transform="translate(513.99 411.84) rotate(-337.5)">111</text></g> </g> </g> </g> <g id="axis3d_12"> <g id="line2d_79"> <path d="M 506.79 394.84 L 510.96 303.66 " style="fill: none; stroke: #000000; stroke-width: 0.8; stroke-linecap: square"/> </g> <g id="xtick_68"> <g id="line2d_80"> <path d="M 505.88 392.81 L 508.83 393.67 " style="fill: none; stroke: #000000; stroke-width: 0.8; stroke-linecap: square"/> </g> <g id="text_71"> <text style="font-size: 10.8px; font-family: 'DejaVu Sans'; text-anchor: middle" x="523.86" y="400.46">0</text> </g> </g> <g id="text_72"> <g transform="translate(546.51 361.25) rotate(-90)"><text class="zl" y="-0.64">Im[<tspan style="font-style: oblique">ρ</tspan>]</text></g> </g> </g> <g id="axes_4"> <g id="Poly3DCollection_99"> <path d="M 392.62 364.81 L 392.62 364.81 L 399.19 366.73 L 399.19 366.73 z " clip-path="url(#pd2f0a1f612)" style="fill: #6e0a1e; fill-opacity: 0.56"/> <path d="M 388.69 368.14 L 388.69 368.14 L 392.62 364.81 L 392.62 364.81 z " clip-path="url(#pd2f0a1f612)" style="fill: #6e0a1e; fill-opacity: 0.56"/> <path d="M 388.69 368.14 L 392.62 364.81 L 399.19 366.73 L 395.28 370.08 z " clip-path="url(#pd2f0a1f612)" style="fill: #6e0a1e; fill-opacity: 0.56"/> <path d="M 388.69 368.14 L 395.28 370.08 L 399.19 366.73 L 392.62 364.81 z " clip-path="url(#pd2f0a1f612)" style="fill: #dc143c; fill-opacity: 0.56"/> <path d="M 395.28 370.08 L 399.19 366.73 L 399.19 366.73 L 395.28 370.08 z " clip-path="url(#pd2f0a1f612)" style="fill: #6e0a1e; fill-opacity: 0.56"/> <path d="M 388.69 368.14 L 395.28 370.08 L 395.28 370.08 L 388.69 368.14 z " clip-path="url(#pd2f0a1f612)" style="fill: #6e0a1e; fill-opacity: 0.56"/> </g> <g id="Poly3DCollection_100"> <path d="M 405.80 368.66 L 405.80 368.66 L 412.45 370.60 L 412.45 370.60 z " clip-path="url(#pd2f0a1f612)" style="fill: #6e0a1e; fill-opacity: 0.56"/> <path d="M 401.91 372.03 L 401.91 372.03 L 405.80 368.66 L 405.80 368.66 z " clip-path="url(#pd2f0a1f612)" style="fill: #6e0a1e; fill-opacity: 0.56"/> <path d="M 401.91 372.03 L 408.57 373.99 L 412.45 370.60 L 405.80 368.66 z " clip-path="url(#pd2f0a1f612)" style="fill: #dc143c; fill-opacity: 0.56"/> <path d="M 401.91 372.03 L 405.80 368.66 L 412.45 370.60 L 408.57 373.99 z " clip-path="url(#pd2f0a1f612)" style="fill: #6e0a1e; fill-opacity: 0.56"/> <path d="M 408.57 373.99 L 412.45 370.60 L 412.45 370.60 L 408.57 373.99 z " clip-path="url(#pd2f0a1f612)" style="fill: #6e0a1e; fill-opacity: 0.56"/> <path d="M 401.91 372.03 L 408.57 373.99 L 408.57 373.99 L 401.91 372.03 z " clip-path="url(#pd2f0a1f612)" style="fill: #6e0a1e; fill-opacity: 0.56"/> </g> <g id="Poly3DCollection_101"> <path d="M 384.71 371.51 L 384.71 371.51 L 391.32 373.46 L 391.32 373.46 z " clip-path="url(#pd2f0a1f612)" style="fill: #6e0a1e; fill-opacity: 0.56"/> <path d="M 380.70 374.90 L 380.70 374.90 L 384.71 371.51 L 384.71 371.51 z " clip-path="url(#pd2f0a1f612)" style="fill: #6e0a1e; fill-opacity: 0.56"/> <path d="M 380.70 374.90 L 387.33 376.88 L 391.32 373.46 L 384.71 371.51 z " clip-path="url(#pd2f0a1f612)" style="fill: #dc143c; fill-opacity: 0.56"/> <path d="M 380.70 374.90 L 384.71 371.51 L 391.32 373.46 L 387.33 376.88 z " clip-path="url(#pd2f0a1f612)" style="fill: #6e0a1e; fill-opacity: 0.56"/> <path d="M 387.33 376.88 L 391.32 373.46 L 391.32 373.46 L 387.33 376.88 z " clip-path="url(#pd2f0a1f612)" style="fill: #6e0a1e; fill-opacity: 0.56"/> <path d="M 380.70 374.90 L 387.33 376.88 L 387.33 376.88 L 380.70 374.90 z " clip-path="url(#pd2f0a1f612)" style="fill: #6e0a1e; fill-opacity: 0.56"/> </g> <g id="Poly3DCollection_102"> <path d="M 419.13 372.55 L 419.13 372.55 L 425.85 374.51 L 425.85 374.51 z " clip-path="url(#pd2f0a1f612)" style="fill: #6e0a1e; fill-opacity: 0.56"/> <path d="M 415.28 375.96 L 415.28 375.96 L 419.13 372.55 L 419.13 372.55 z " clip-path="url(#pd2f0a1f612)" style="fill: #6e0a1e; fill-opacity: 0.56"/> <path d="M 415.28 375.96 L 419.13 372.55 L 425.85 374.51 L 422.02 377.94 z " clip-path="url(#pd2f0a1f612)" style="fill: #6e0a1e; fill-opacity: 0.56"/> <path d="M 415.28 375.96 L 422.02 377.94 L 425.85 374.51 L 419.13 372.55 z " clip-path="url(#pd2f0a1f612)" style="fill: #dc143c; fill-opacity: 0.56"/> <path d="M 422.02 377.94 L 425.85 374.51 L 425.85 374.51 L 422.02 377.94 z " clip-path="url(#pd2f0a1f612)" style="fill: #6e0a1e; fill-opacity: 0.56"/> <path d="M 415.28 375.96 L 422.02 377.94 L 422.02 377.94 L 415.28 375.96 z " clip-path="url(#pd2f0a1f612)" style="fill: #6e0a1e; fill-opacity: 0.56"/> </g> <g id="Poly3DCollection_103"> <path d="M 397.97 375.43 L 397.97 375.43 L 404.66 377.41 L 404.66 377.41 z " clip-path="url(#pd2f0a1f612)" style="fill: #6e0a1e; fill-opacity: 0.56"/> <path d="M 394.00 378.86 L 394.00 378.86 L 397.97 375.43 L 397.97 375.43 z " clip-path="url(#pd2f0a1f612)" style="fill: #6e0a1e; fill-opacity: 0.56"/> <path d="M 394.00 378.86 L 397.97 375.43 L 404.66 377.41 L 400.71 380.86 z " clip-path="url(#pd2f0a1f612)" style="fill: #6e0a1e; fill-opacity: 0.56"/> <path d="M 394.00 378.86 L 400.71 380.86 L 404.66 377.41 L 397.97 375.43 z " clip-path="url(#pd2f0a1f612)" style="fill: #dc143c; fill-opacity: 0.56"/> <path d="M 400.71 380.86 L 404.66 377.41 L 404.66 377.41 L 400.71 380.86 z " clip-path="url(#pd2f0a1f612)" style="fill: #6e0a1e; fill-opacity: 0.56"/> <path d="M 394.00 378.86 L 400.71 380.86 L 400.71 380.86 L 394.00 378.86 z " clip-path="url(#pd2f0a1f612)" style="fill: #6e0a1e; fill-opacity: 0.56"/> </g> <g id="Poly3DCollection_104"> <path d="M 432.61 376.49 L 432.61 376.49 L 439.40 378.47 L 439.40 378.47 z " clip-path="url(#pd2f0a1f612)" style="fill: #6e0a1e; fill-opacity: 0.56"/> <path d="M 428.80 379.93 L 428.80 379.93 L 432.61 376.49 L 432.61 376.49 z " clip-path="url(#pd2f0a1f612)" style="fill: #6e0a1e; fill-opacity: 0.56"/> <path d="M 428.80 379.93 L 432.61 376.49 L 439.40 378.47 L 435.62 381.94 z " clip-path="url(#pd2f0a1f612)" style="fill: #6e0a1e; fill-opacity: 0.56"/> <path d="M 428.80 379.93 L 435.62 381.94 L 439.40 378.47 L 432.61 376.49 z " clip-path="url(#pd2f0a1f612)" style="fill: #dc143c; fill-opacity: 0.56"/> <path d="M 435.62 381.94 L 439.40 378.47 L 439.40 378.47 L 435.62 381.94 z " clip-path="url(#pd2f0a1f612)" style="fill: #6e0a1e; fill-opacity: 0.56"/> <path d="M 428.80 379.93 L 435.62 381.94 L 435.62 381.94 L 428.80 379.93 z " clip-path="url(#pd2f0a1f612)" style="fill: #6e0a1e; fill-opacity: 0.56"/> </g> <g id="Poly3DCollection_105"> <path d="M 376.65 378.33 L 376.65 378.33 L 383.30 380.32 L 383.30 380.32 z " clip-path="url(#pd2f0a1f612)" style="fill: #6e0a1e; fill-opacity: 0.56"/> <path d="M 372.55 381.79 L 372.55 381.79 L 376.65 378.33 L 376.65 378.33 z " clip-path="url(#pd2f0a1f612)" style="fill: #6e0a1e; fill-opacity: 0.56"/> <path d="M 372.55 381.79 L 376.65 378.33 L 383.30 380.32 L 379.23 383.81 z " clip-path="url(#pd2f0a1f612)" style="fill: #6e0a1e; fill-opacity: 0.56"/> <path d="M 372.55 381.79 L 379.23 383.81 L 383.30 380.32 L 376.65 378.33 z " clip-path="url(#pd2f0a1f612)" style="fill: #dc143c; fill-opacity: 0.56"/> <path d="M 379.23 383.81 L 383.30 380.32 L 383.30 380.32 L 379.23 383.81 z " clip-path="url(#pd2f0a1f612)" style="fill: #6e0a1e; fill-opacity: 0.56"/> <path d="M 372.55 381.79 L 379.23 383.81 L 379.23 383.81 L 372.55 381.79 z " clip-path="url(#pd2f0a1f612)" style="fill: #6e0a1e; fill-opacity: 0.56"/> </g> <g id="Poly3DCollection_106"> <path d="M 411.39 379.40 L 411.39 379.40 L 418.15 381.40 L 418.15 381.40 z " clip-path="url(#pd2f0a1f612)" style="fill: #6e0a1e; fill-opacity: 0.56"/> <path d="M 407.46 382.87 L 407.46 382.87 L 411.39 379.40 L 411.39 379.40 z " clip-path="url(#pd2f0a1f612)" style="fill: #6e0a1e; fill-opacity: 0.56"/> <path d="M 407.46 382.87 L 411.39 379.40 L 418.15 381.40 L 414.25 384.89 z " clip-path="url(#pd2f0a1f612)" style="fill: #6e0a1e; fill-opacity: 0.56"/> <path d="M 407.46 382.87 L 414.25 384.89 L 418.15 381.40 L 411.39 379.40 z " clip-path="url(#pd2f0a1f612)" style="fill: #dc143c; fill-opacity: 0.56"/> <path d="M 414.25 384.89 L 418.15 381.40 L 418.15 381.40 L 414.25 384.89 z " clip-path="url(#pd2f0a1f612)" style="fill: #6e0a1e; fill-opacity: 0.56"/> <path d="M 407.46 382.87 L 414.25 384.89 L 414.25 384.89 L 407.46 382.87 z " clip-path="url(#pd2f0a1f612)" style="fill: #6e0a1e; fill-opacity: 0.56"/> </g> <g id="Poly3DCollection_107"> <path d="M 446.24 380.47 L 446.24 380.47 L 453.11 382.47 L 453.11 382.47 z " clip-path="url(#pd2f0a1f612)" style="fill: #6e0a1e; fill-opacity: 0.56"/> <path d="M 442.47 383.95 L 442.47 383.95 L 446.24 380.47 L 446.24 380.47 z " clip-path="url(#pd2f0a1f612)" style="fill: #6e0a1e; fill-opacity: 0.56"/> <path d="M 442.47 383.95 L 446.24 380.47 L 453.11 382.47 L 449.37 385.98 z " clip-path="url(#pd2f0a1f612)" style="fill: #6e0a1e; fill-opacity: 0.56"/> <path d="M 442.47 383.95 L 449.37 385.98 L 453.11 382.47 L 446.24 380.47 z " clip-path="url(#pd2f0a1f612)" style="fill: #dc143c; fill-opacity: 0.56"/> <path d="M 449.37 385.98 L 453.11 382.47 L 453.11 382.47 L 449.37 385.98 z " clip-path="url(#pd2f0a1f612)" style="fill: #6e0a1e; fill-opacity: 0.56"/> <path d="M 442.47 383.95 L 449.37 385.98 L 449.37 385.98 L 442.47 383.95 z " clip-path="url(#pd2f0a1f612)" style="fill: #6e0a1e; fill-opacity: 0.56"/> </g> <g id="Poly3DCollection_108"> <path d="M 389.99 382.33 L 389.99 382.33 L 396.72 384.35 L 396.72 384.35 z " clip-path="url(#pd2f0a1f612)" style="fill: #6e0a1e; fill-opacity: 0.56"/> <path d="M 385.94 385.83 L 385.94 385.83 L 389.99 382.33 L 389.99 382.33 z " clip-path="url(#pd2f0a1f612)" style="fill: #6e0a1e; fill-opacity: 0.56"/> <path d="M 385.94 385.83 L 389.99 382.33 L 396.72 384.35 L 392.70 387.87 z " clip-path="url(#pd2f0a1f612)" style="fill: #6e0a1e; fill-opacity: 0.56"/> <path d="M 385.94 385.83 L 392.70 387.87 L 396.72 384.35 L 389.99 382.33 z " clip-path="url(#pd2f0a1f612)" style="fill: #dc143c; fill-opacity: 0.56"/> <path d="M 392.70 387.87 L 396.72 384.35 L 396.72 384.35 L 392.70 387.87 z " clip-path="url(#pd2f0a1f612)" style="fill: #6e0a1e; fill-opacity: 0.56"/> <path d="M 385.94 385.83 L 392.70 387.87 L 392.70 387.87 L 385.94 385.83 z " clip-path="url(#pd2f0a1f612)" style="fill: #6e0a1e; fill-opacity: 0.56"/> </g> <g id="Poly3DCollection_109"> <path d="M 424.95 383.41 L 424.95 383.41 L 431.79 385.43 L 431.79 385.43 z " clip-path="url(#pd2f0a1f612)" style="fill: #6e0a1e; fill-opacity: 0.56"/> <path d="M 421.07 386.92 L 421.07 386.92 L 424.95 383.41 L 424.95 383.41 z " clip-path="url(#pd2f0a1f612)" style="fill: #6e0a1e; fill-opacity: 0.56"/> <path d="M 421.07 386.92 L 424.95 383.41 L 431.79 385.43 L 427.93 388.97 z " clip-path="url(#pd2f0a1f612)" style="fill: #6e0a1e; fill-opacity: 0.56"/> <path d="M 421.07 386.92 L 427.93 388.97 L 431.79 385.43 L 424.95 383.41 z " clip-path="url(#pd2f0a1f612)" style="fill: #dc143c; fill-opacity: 0.56"/> <path d="M 427.93 388.97 L 431.79 385.43 L 431.79 385.43 L 427.93 388.97 z " clip-path="url(#pd2f0a1f612)" style="fill: #6e0a1e; fill-opacity: 0.56"/> <path d="M 421.07 386.92 L 427.93 388.97 L 427.93 388.97 L 421.07 386.92 z " clip-path="url(#pd2f0a1f612)" style="fill: #6e0a1e; fill-opacity: 0.56"/> </g> <g id="Poly3DCollection_110"> <path d="M 460.02 384.49 L 460.02 384.49 L 466.97 386.52 L 466.97 386.52 z " clip-path="url(#pd2f0a1f612)" style="fill: #6e0a1e; fill-opacity: 0.56"/> <path d="M 456.31 388.02 L 456.31 388.02 L 460.02 384.49 L 460.02 384.49 z " clip-path="url(#pd2f0a1f612)" style="fill: #6e0a1e; fill-opacity: 0.56"/> <path d="M 456.31 388.02 L 460.02 384.49 L 466.97 386.52 L 463.28 390.07 z " clip-path="url(#pd2f0a1f612)" style="fill: #6e0a1e; fill-opacity: 0.56"/> <path d="M 456.31 388.02 L 463.28 390.07 L 466.97 386.52 L 460.02 384.49 z " clip-path="url(#pd2f0a1f612)" style="fill: #dc143c; fill-opacity: 0.56"/> <path d="M 463.28 390.07 L 466.97 386.52 L 466.97 386.52 L 463.28 390.07 z " clip-path="url(#pd2f0a1f612)" style="fill: #6e0a1e; fill-opacity: 0.56"/> <path d="M 456.31 388.02 L 463.28 390.07 L 463.28 390.07 L 456.31 388.02 z " clip-path="url(#pd2f0a1f612)" style="fill: #6e0a1e; fill-opacity: 0.56"/> </g> <g id="Poly3DCollection_111"> <path d="M 368.42 385.29 L 368.42 385.29 L 375.12 387.32 L 375.12 387.32 z " clip-path="url(#pd2f0a1f612)" style="fill: #6e0a1e; fill-opacity: 0.56"/> <path d="M 364.25 388.82 L 364.25 388.82 L 368.42 385.29 L 368.42 385.29 z " clip-path="url(#pd2f0a1f612)" style="fill: #6e0a1e; fill-opacity: 0.56"/> <path d="M 364.25 388.82 L 368.42 385.29 L 375.12 387.32 L 370.97 390.87 z " clip-path="url(#pd2f0a1f612)" style="fill: #6e0a1e; fill-opacity: 0.56"/> <path d="M 364.25 388.82 L 370.97 390.87 L 375.12 387.32 L 368.42 385.29 z " clip-path="url(#pd2f0a1f612)" style="fill: #dc143c; fill-opacity: 0.56"/> <path d="M 370.97 390.87 L 375.12 387.32 L 375.12 387.32 L 370.97 390.87 z " clip-path="url(#pd2f0a1f612)" style="fill: #6e0a1e; fill-opacity: 0.56"/> <path d="M 364.25 388.82 L 370.97 390.87 L 370.97 390.87 L 364.25 388.82 z " clip-path="url(#pd2f0a1f612)" style="fill: #6e0a1e; fill-opacity: 0.56"/> </g> <g id="Poly3DCollection_112"> <path d="M 403.49 386.38 L 403.49 386.38 L 410.30 388.42 L 410.30 388.42 z " clip-path="url(#pd2f0a1f612)" style="fill: #6e0a1e; fill-opacity: 0.56"/> <path d="M 399.49 389.92 L 399.49 389.92 L 403.49 386.38 L 403.49 386.38 z " clip-path="url(#pd2f0a1f612)" style="fill: #6e0a1e; fill-opacity: 0.56"/> <path d="M 399.49 389.92 L 403.49 386.38 L 410.30 388.42 L 406.32 391.98 z " clip-path="url(#pd2f0a1f612)" style="fill: #6e0a1e; fill-opacity: 0.56"/> <path d="M 399.49 389.92 L 406.32 391.98 L 410.30 388.42 L 403.49 386.38 z " clip-path="url(#pd2f0a1f612)" style="fill: #dc143c; fill-opacity: 0.56"/> <path d="M 406.32 391.98 L 410.30 388.42 L 410.30 388.42 L 406.32 391.98 z " clip-path="url(#pd2f0a1f612)" style="fill: #6e0a1e; fill-opacity: 0.56"/> <path d="M 399.49 389.92 L 406.32 391.98 L 406.32 391.98 L 399.49 389.92 z " clip-path="url(#pd2f0a1f612)" style="fill: #6e0a1e; fill-opacity: 0.56"/> </g> <g id="Poly3DCollection_113"> <path d="M 438.67 387.47 L 438.67 387.47 L 445.59 389.52 L 445.59 389.52 z " clip-path="url(#pd2f0a1f612)" style="fill: #6e0a1e; fill-opacity: 0.56"/> <path d="M 434.84 391.02 L 434.84 391.02 L 438.67 387.47 L 438.67 387.47 z " clip-path="url(#pd2f0a1f612)" style="fill: #6e0a1e; fill-opacity: 0.56"/> <path d="M 434.84 391.02 L 438.67 387.47 L 445.59 389.52 L 441.78 393.09 z " clip-path="url(#pd2f0a1f612)" style="fill: #6e0a1e; fill-opacity: 0.56"/> <path d="M 434.84 391.02 L 441.78 393.09 L 445.59 389.52 L 438.67 387.47 z " clip-path="url(#pd2f0a1f612)" style="fill: #dc143c; fill-opacity: 0.56"/> <path d="M 441.78 393.09 L 445.59 389.52 L 445.59 389.52 L 441.78 393.09 z " clip-path="url(#pd2f0a1f612)" style="fill: #6e0a1e; fill-opacity: 0.56"/> <path d="M 434.84 391.02 L 441.78 393.09 L 441.78 393.09 L 434.84 391.02 z " clip-path="url(#pd2f0a1f612)" style="fill: #6e0a1e; fill-opacity: 0.56"/> </g> <g id="Poly3DCollection_114"> <path d="M 473.96 388.56 L 473.96 388.56 L 481.00 390.62 L 481.00 390.62 z " clip-path="url(#pd2f0a1f612)" style="fill: #6e0a1e; fill-opacity: 0.56"/> <path d="M 470.30 392.13 L 470.30 392.13 L 473.96 388.56 L 473.96 388.56 z " clip-path="url(#pd2f0a1f612)" style="fill: #6e0a1e; fill-opacity: 0.56"/> <path d="M 470.30 392.13 L 473.96 388.56 L 481.00 390.62 L 477.35 394.20 z " clip-path="url(#pd2f0a1f612)" style="fill: #6e0a1e; fill-opacity: 0.56"/> <path d="M 470.30 392.13 L 477.35 394.20 L 481.00 390.62 L 473.96 388.56 z " clip-path="url(#pd2f0a1f612)" style="fill: #dc143c; fill-opacity: 0.56"/> <path d="M 477.35 394.20 L 481.00 390.62 L 481.00 390.62 L 477.35 394.20 z " clip-path="url(#pd2f0a1f612)" style="fill: #6e0a1e; fill-opacity: 0.56"/> <path d="M 470.30 392.13 L 477.35 394.20 L 477.35 394.20 L 470.30 392.13 z " clip-path="url(#pd2f0a1f612)" style="fill: #6e0a1e; fill-opacity: 0.56"/> </g> <g id="Poly3DCollection_115"> <path d="M 381.85 389.37 L 381.85 389.37 L 388.63 391.43 L 388.63 391.43 z " clip-path="url(#pd2f0a1f612)" style="fill: #6e0a1e; fill-opacity: 0.56"/> <path d="M 377.72 392.94 L 377.72 392.94 L 381.85 389.37 L 381.85 389.37 z " clip-path="url(#pd2f0a1f612)" style="fill: #6e0a1e; fill-opacity: 0.56"/> <path d="M 377.72 392.94 L 381.85 389.37 L 388.63 391.43 L 384.52 395.02 z " clip-path="url(#pd2f0a1f612)" style="fill: #6e0a1e; fill-opacity: 0.56"/> <path d="M 377.72 392.94 L 384.52 395.02 L 388.63 391.43 L 381.85 389.37 z " clip-path="url(#pd2f0a1f612)" style="fill: #dc143c; fill-opacity: 0.56"/> <path d="M 384.52 395.02 L 388.63 391.43 L 388.63 391.43 L 384.52 395.02 z " clip-path="url(#pd2f0a1f612)" style="fill: #6e0a1e; fill-opacity: 0.56"/> <path d="M 377.72 392.94 L 384.52 395.02 L 384.52 395.02 L 377.72 392.94 z " clip-path="url(#pd2f0a1f612)" style="fill: #6e0a1e; fill-opacity: 0.56"/> </g> <g id="Poly3DCollection_116"> <path d="M 417.15 390.47 L 417.15 390.47 L 424.04 392.53 L 424.04 392.53 z " clip-path="url(#pd2f0a1f612)" style="fill: #6e0a1e; fill-opacity: 0.56"/> <path d="M 413.19 394.05 L 413.19 394.05 L 417.15 390.47 L 417.15 390.47 z " clip-path="url(#pd2f0a1f612)" style="fill: #6e0a1e; fill-opacity: 0.56"/> <path d="M 413.19 394.05 L 417.15 390.47 L 424.04 392.53 L 420.10 396.14 z " clip-path="url(#pd2f0a1f612)" style="fill: #6e0a1e; fill-opacity: 0.56"/> <path d="M 413.19 394.05 L 420.10 396.14 L 424.04 392.53 L 417.15 390.47 z " clip-path="url(#pd2f0a1f612)" style="fill: #dc143c; fill-opacity: 0.56"/> <path d="M 420.10 396.14 L 424.04 392.53 L 424.04 392.53 L 420.10 396.14 z " clip-path="url(#pd2f0a1f612)" style="fill: #6e0a1e; fill-opacity: 0.56"/> <path d="M 413.19 394.05 L 420.10 396.14 L 420.10 396.14 L 413.19 394.05 z " clip-path="url(#pd2f0a1f612)" style="fill: #6e0a1e; fill-opacity: 0.56"/> </g> <g id="Poly3DCollection_117"> <path d="M 452.55 391.57 L 452.55 391.57 L 459.55 393.64 L 459.55 393.64 z " clip-path="url(#pd2f0a1f612)" style="fill: #6e0a1e; fill-opacity: 0.56"/> <path d="M 448.76 395.17 L 448.76 395.17 L 452.55 391.57 L 452.55 391.57 z " clip-path="url(#pd2f0a1f612)" style="fill: #6e0a1e; fill-opacity: 0.56"/> <path d="M 448.76 395.17 L 452.55 391.57 L 459.55 393.64 L 455.79 397.26 z " clip-path="url(#pd2f0a1f612)" style="fill: #6e0a1e; fill-opacity: 0.56"/> <path d="M 448.76 395.17 L 455.79 397.26 L 459.55 393.64 L 452.55 391.57 z " clip-path="url(#pd2f0a1f612)" style="fill: #dc143c; fill-opacity: 0.56"/> <path d="M 455.79 397.26 L 459.55 393.64 L 459.55 393.64 L 455.79 397.26 z " clip-path="url(#pd2f0a1f612)" style="fill: #6e0a1e; fill-opacity: 0.56"/> <path d="M 448.76 395.17 L 455.79 397.26 L 455.79 397.26 L 448.76 395.17 z " clip-path="url(#pd2f0a1f612)" style="fill: #6e0a1e; fill-opacity: 0.56"/> </g> <g id="Poly3DCollection_118"> <path d="M 360.03 392.38 L 360.03 392.38 L 366.77 394.46 L 366.77 394.46 z " clip-path="url(#pd2f0a1f612)" style="fill: #6e0a1e; fill-opacity: 0.56"/> <path d="M 355.77 395.99 L 355.77 395.99 L 360.03 392.38 L 360.03 392.38 z " clip-path="url(#pd2f0a1f612)" style="fill: #6e0a1e; fill-opacity: 0.56"/> <path d="M 355.77 395.99 L 360.03 392.38 L 366.77 394.46 L 362.53 398.08 z " clip-path="url(#pd2f0a1f612)" style="fill: #6e0a1e; fill-opacity: 0.56"/> <path d="M 355.77 395.99 L 362.53 398.08 L 366.77 394.46 L 360.03 392.38 z " clip-path="url(#pd2f0a1f612)" style="fill: #dc143c; fill-opacity: 0.56"/> <path d="M 362.53 398.08 L 366.77 394.46 L 366.77 394.46 L 362.53 398.08 z " clip-path="url(#pd2f0a1f612)" style="fill: #6e0a1e; fill-opacity: 0.56"/> <path d="M 355.77 395.99 L 362.53 398.08 L 362.53 398.08 L 355.77 395.99 z " clip-path="url(#pd2f0a1f612)" style="fill: #6e0a1e; fill-opacity: 0.56"/> </g> <g id="Poly3DCollection_119"> <path d="M 488.07 392.68 L 488.07 392.68 L 495.18 394.76 L 495.18 394.76 z " clip-path="url(#pd2f0a1f612)" style="fill: #6e0a1e; fill-opacity: 0.56"/> <path d="M 484.45 396.29 L 484.45 396.29 L 488.07 392.68 L 488.07 392.68 z " clip-path="url(#pd2f0a1f612)" style="fill: #6e0a1e; fill-opacity: 0.56"/> <path d="M 484.45 396.29 L 488.07 392.68 L 495.18 394.76 L 491.59 398.38 z " clip-path="url(#pd2f0a1f612)" style="fill: #6e0a1e; fill-opacity: 0.56"/> <path d="M 484.45 396.29 L 491.59 398.38 L 495.18 394.76 L 488.07 392.68 z " clip-path="url(#pd2f0a1f612)" style="fill: #dc143c; fill-opacity: 0.56"/> <path d="M 491.59 398.38 L 495.18 394.76 L 495.18 394.76 L 491.59 398.38 z " clip-path="url(#pd2f0a1f612)" style="fill: #6e0a1e; fill-opacity: 0.56"/> <path d="M 484.45 396.29 L 491.59 398.38 L 491.59 398.38 L 484.45 396.29 z " clip-path="url(#pd2f0a1f612)" style="fill: #6e0a1e; fill-opacity: 0.56"/> </g> <g id="Poly3DCollection_120"> <path d="M 395.44 393.50 L 395.44 393.50 L 402.30 395.58 L 402.30 395.58 z " clip-path="url(#pd2f0a1f612)" style="fill: #6e0a1e; fill-opacity: 0.56"/> <path d="M 391.36 397.11 L 391.36 397.11 L 395.44 393.50 L 395.44 393.50 z " clip-path="url(#pd2f0a1f612)" style="fill: #6e0a1e; fill-opacity: 0.56"/> <path d="M 391.36 397.11 L 395.44 393.50 L 402.30 395.58 L 398.23 399.21 z " clip-path="url(#pd2f0a1f612)" style="fill: #6e0a1e; fill-opacity: 0.56"/> <path d="M 391.36 397.11 L 398.23 399.21 L 402.30 395.58 L 395.44 393.50 z " clip-path="url(#pd2f0a1f612)" style="fill: #dc143c; fill-opacity: 0.56"/> <path d="M 398.23 399.21 L 402.30 395.58 L 402.30 395.58 L 398.23 399.21 z " clip-path="url(#pd2f0a1f612)" style="fill: #6e0a1e; fill-opacity: 0.56"/> <path d="M 391.36 397.11 L 398.23 399.21 L 398.23 399.21 L 391.36 397.11 z " clip-path="url(#pd2f0a1f612)" style="fill: #6e0a1e; fill-opacity: 0.56"/> </g> <g id="Poly3DCollection_121"> <path d="M 430.96 394.61 L 430.96 394.61 L 437.93 396.70 L 437.93 396.70 z " clip-path="url(#pd2f0a1f612)" style="fill: #6e0a1e; fill-opacity: 0.56"/> <path d="M 427.05 398.23 L 427.05 398.23 L 430.96 394.61 L 430.96 394.61 z " clip-path="url(#pd2f0a1f612)" style="fill: #6e0a1e; fill-opacity: 0.56"/> <path d="M 427.05 398.23 L 430.96 394.61 L 437.93 396.70 L 434.04 400.34 z " clip-path="url(#pd2f0a1f612)" style="fill: #6e0a1e; fill-opacity: 0.56"/> <path d="M 427.05 398.23 L 434.04 400.34 L 437.93 396.70 L 430.96 394.61 z " clip-path="url(#pd2f0a1f612)" style="fill: #dc143c; fill-opacity: 0.56"/> <path d="M 434.04 400.34 L 437.93 396.70 L 437.93 396.70 L 434.04 400.34 z " clip-path="url(#pd2f0a1f612)" style="fill: #6e0a1e; fill-opacity: 0.56"/> <path d="M 427.05 398.23 L 434.04 400.34 L 434.04 400.34 L 427.05 398.23 z " clip-path="url(#pd2f0a1f612)" style="fill: #6e0a1e; fill-opacity: 0.56"/> </g> <g id="Poly3DCollection_122"> <path d="M 466.59 395.73 L 466.59 395.73 L 473.67 397.82 L 473.67 397.82 z " clip-path="url(#pd2f0a1f612)" style="fill: #6e0a1e; fill-opacity: 0.56"/> <path d="M 462.85 399.36 L 462.85 399.36 L 466.59 395.73 L 466.59 395.73 z " clip-path="url(#pd2f0a1f612)" style="fill: #6e0a1e; fill-opacity: 0.56"/> <path d="M 462.85 399.36 L 466.59 395.73 L 473.67 397.82 L 469.96 401.48 z " clip-path="url(#pd2f0a1f612)" style="fill: #6e0a1e; fill-opacity: 0.56"/> <path d="M 462.85 399.36 L 469.96 401.48 L 473.67 397.82 L 466.59 395.73 z " clip-path="url(#pd2f0a1f612)" style="fill: #dc143c; fill-opacity: 0.56"/> <path d="M 469.96 401.48 L 473.67 397.82 L 473.67 397.82 L 469.96 401.48 z " clip-path="url(#pd2f0a1f612)" style="fill: #6e0a1e; fill-opacity: 0.56"/> <path d="M 462.85 399.36 L 469.96 401.48 L 469.96 401.48 L 462.85 399.36 z " clip-path="url(#pd2f0a1f612)" style="fill: #6e0a1e; fill-opacity: 0.56"/> </g> <g id="Poly3DCollection_123"> <path d="M 373.55 396.55 L 373.55 396.55 L 380.37 398.65 L 380.37 398.65 z " clip-path="url(#pd2f0a1f612)" style="fill: #6e0a1e; fill-opacity: 0.56"/> <path d="M 369.34 400.19 L 369.34 400.19 L 373.55 396.55 L 373.55 396.55 z " clip-path="url(#pd2f0a1f612)" style="fill: #6e0a1e; fill-opacity: 0.56"/> <path d="M 369.34 400.19 L 373.55 396.55 L 380.37 398.65 L 376.18 402.31 z " clip-path="url(#pd2f0a1f612)" style="fill: #6e0a1e; fill-opacity: 0.56"/> <path d="M 369.34 400.19 L 376.18 402.31 L 380.37 398.65 L 373.55 396.55 z " clip-path="url(#pd2f0a1f612)" style="fill: #dc143c; fill-opacity: 0.56"/> <path d="M 376.18 402.31 L 380.37 398.65 L 380.37 398.65 L 376.18 402.31 z " clip-path="url(#pd2f0a1f612)" style="fill: #6e0a1e; fill-opacity: 0.56"/> <path d="M 369.34 400.19 L 376.18 402.31 L 376.18 402.31 L 369.34 400.19 z " clip-path="url(#pd2f0a1f612)" style="fill: #6e0a1e; fill-opacity: 0.56"/> </g> <g id="Poly3DCollection_124"> <path d="M 409.19 397.67 L 409.19 397.67 L 416.12 399.78 L 416.12 399.78 z " clip-path="url(#pd2f0a1f612)" style="fill: #6e0a1e; fill-opacity: 0.56"/> <path d="M 405.15 401.33 L 405.15 401.33 L 409.19 397.67 L 409.19 397.67 z " clip-path="url(#pd2f0a1f612)" style="fill: #6e0a1e; fill-opacity: 0.56"/> <path d="M 405.15 401.33 L 412.10 403.45 L 416.12 399.78 L 409.19 397.67 z " clip-path="url(#pd2f0a1f612)" style="fill: #dc143c; fill-opacity: 0.56"/> <path d="M 405.15 401.33 L 409.19 397.67 L 416.12 399.78 L 412.10 403.45 z " clip-path="url(#pd2f0a1f612)" style="fill: #6e0a1e; fill-opacity: 0.56"/> <path d="M 412.10 403.45 L 416.12 399.78 L 416.12 399.78 L 412.10 403.45 z " clip-path="url(#pd2f0a1f612)" style="fill: #6e0a1e; fill-opacity: 0.56"/> <path d="M 405.15 401.33 L 412.10 403.45 L 412.10 403.45 L 405.15 401.33 z " clip-path="url(#pd2f0a1f612)" style="fill: #6e0a1e; fill-opacity: 0.56"/> </g> <g id="Poly3DCollection_125"> <path d="M 444.94 398.80 L 444.94 398.80 L 451.98 400.91 L 451.98 400.91 z " clip-path="url(#pd2f0a1f612)" style="fill: #6e0a1e; fill-opacity: 0.56"/> <path d="M 441.07 402.46 L 441.07 402.46 L 444.94 398.80 L 444.94 398.80 z " clip-path="url(#pd2f0a1f612)" style="fill: #6e0a1e; fill-opacity: 0.56"/> <path d="M 441.07 402.46 L 444.94 398.80 L 451.98 400.91 L 448.14 404.60 z " clip-path="url(#pd2f0a1f612)" style="fill: #6e0a1e; fill-opacity: 0.56"/> <path d="M 441.07 402.46 L 448.14 404.60 L 451.98 400.91 L 444.94 398.80 z " clip-path="url(#pd2f0a1f612)" style="fill: #dc143c; fill-opacity: 0.56"/> <path d="M 448.14 404.60 L 451.98 400.91 L 451.98 400.91 L 448.14 404.60 z " clip-path="url(#pd2f0a1f612)" style="fill: #6e0a1e; fill-opacity: 0.56"/> <path d="M 441.07 402.46 L 448.14 404.60 L 448.14 404.60 L 441.07 402.46 z " clip-path="url(#pd2f0a1f612)" style="fill: #6e0a1e; fill-opacity: 0.56"/> </g> <g id="Poly3DCollection_126"> <path d="M 351.47 399.63 L 351.47 399.63 L 358.26 401.74 L 358.26 401.74 z " clip-path="url(#pd2f0a1f612)" style="fill: #6e0a1e; fill-opacity: 0.56"/> <path d="M 347.13 403.30 L 347.13 403.30 L 351.47 399.63 L 351.47 399.63 z " clip-path="url(#pd2f0a1f612)" style="fill: #6e0a1e; fill-opacity: 0.56"/> <path d="M 347.13 403.30 L 353.93 405.44 L 358.26 401.74 L 351.47 399.63 z " clip-path="url(#pd2f0a1f612)" style="fill: #dc143c; fill-opacity: 0.56"/> <path d="M 347.13 403.30 L 351.47 399.63 L 358.26 401.74 L 353.93 405.44 z " clip-path="url(#pd2f0a1f612)" style="fill: #6e0a1e; fill-opacity: 0.56"/> <path d="M 353.93 405.44 L 358.26 401.74 L 358.26 401.74 L 353.93 405.44 z " clip-path="url(#pd2f0a1f612)" style="fill: #6e0a1e; fill-opacity: 0.56"/> <path d="M 347.13 403.30 L 353.93 405.44 L 353.93 405.44 L 347.13 403.30 z " clip-path="url(#pd2f0a1f612)" style="fill: #6e0a1e; fill-opacity: 0.56"/> </g> <g id="Poly3DCollection_127"> <path d="M 480.80 399.93 L 480.80 399.93 L 487.96 402.05 L 487.96 402.05 z " clip-path="url(#pd2f0a1f612)" style="fill: #6e0a1e; fill-opacity: 0.56"/> <path d="M 477.11 403.61 L 477.11 403.61 L 480.80 399.93 L 480.80 399.93 z " clip-path="url(#pd2f0a1f612)" style="fill: #6e0a1e; fill-opacity: 0.56"/> <path d="M 477.11 403.61 L 484.30 405.75 L 487.96 402.05 L 480.80 399.93 z " clip-path="url(#pd2f0a1f612)" style="fill: #dc143c; fill-opacity: 0.56"/> <path d="M 477.11 403.61 L 480.80 399.93 L 487.96 402.05 L 484.30 405.75 z " clip-path="url(#pd2f0a1f612)" style="fill: #6e0a1e; fill-opacity: 0.56"/> <path d="M 484.30 405.75 L 487.96 402.05 L 487.96 402.05 L 484.30 405.75 z " clip-path="url(#pd2f0a1f612)" style="fill: #6e0a1e; fill-opacity: 0.56"/> <path d="M 477.11 403.61 L 484.30 405.75 L 484.30 405.75 L 477.11 403.61 z " clip-path="url(#pd2f0a1f612)" style="fill: #6e0a1e; fill-opacity: 0.56"/> </g> <g id="Poly3DCollection_128"> <path d="M 387.23 400.76 L 387.23 400.76 L 394.13 402.88 L 394.13 402.88 z " clip-path="url(#pd2f0a1f612)" style="fill: #6e0a1e; fill-opacity: 0.56"/> <path d="M 383.06 404.44 L 383.06 404.44 L 387.23 400.76 L 387.23 400.76 z " clip-path="url(#pd2f0a1f612)" style="fill: #6e0a1e; fill-opacity: 0.56"/> <path d="M 383.06 404.44 L 387.23 400.76 L 394.13 402.88 L 389.98 406.59 z " clip-path="url(#pd2f0a1f612)" style="fill: #6e0a1e; fill-opacity: 0.56"/> <path d="M 383.06 404.44 L 389.98 406.59 L 394.13 402.88 L 387.23 400.76 z " clip-path="url(#pd2f0a1f612)" style="fill: #dc143c; fill-opacity: 0.56"/> <path d="M 389.98 406.59 L 394.13 402.88 L 394.13 402.88 L 389.98 406.59 z " clip-path="url(#pd2f0a1f612)" style="fill: #6e0a1e; fill-opacity: 0.56"/> <path d="M 383.06 404.44 L 389.98 406.59 L 389.98 406.59 L 383.06 404.44 z " clip-path="url(#pd2f0a1f612)" style="fill: #6e0a1e; fill-opacity: 0.56"/> </g> <g id="Poly3DCollection_129"> <path d="M 423.09 401.89 L 423.09 401.89 L 430.11 404.03 L 430.11 404.03 z " clip-path="url(#pd2f0a1f612)" style="fill: #6e0a1e; fill-opacity: 0.56"/> <path d="M 419.10 405.59 L 419.10 405.59 L 423.09 401.89 L 423.09 401.89 z " clip-path="url(#pd2f0a1f612)" style="fill: #6e0a1e; fill-opacity: 0.56"/> <path d="M 419.10 405.59 L 423.09 401.89 L 430.11 404.03 L 426.14 407.75 z " clip-path="url(#pd2f0a1f612)" style="fill: #6e0a1e; fill-opacity: 0.56"/> <path d="M 419.10 405.59 L 426.14 407.75 L 430.11 404.03 L 423.09 401.89 z " clip-path="url(#pd2f0a1f612)" style="fill: #dc143c; fill-opacity: 0.56"/> <path d="M 426.14 407.75 L 430.11 404.03 L 430.11 404.03 L 426.14 407.75 z " clip-path="url(#pd2f0a1f612)" style="fill: #6e0a1e; fill-opacity: 0.56"/> <path d="M 419.10 405.59 L 426.14 407.75 L 426.14 407.75 L 419.10 405.59 z " clip-path="url(#pd2f0a1f612)" style="fill: #6e0a1e; fill-opacity: 0.56"/> </g> <g id="Poly3DCollection_130"> <path d="M 459.07 403.04 L 459.07 403.04 L 466.20 405.17 L 466.20 405.17 z " clip-path="url(#pd2f0a1f612)" style="fill: #6e0a1e; fill-opacity: 0.56"/> <path d="M 455.26 406.75 L 455.26 406.75 L 459.07 403.04 L 459.07 403.04 z " clip-path="url(#pd2f0a1f612)" style="fill: #6e0a1e; fill-opacity: 0.56"/> <path d="M 455.26 406.75 L 459.07 403.04 L 466.20 405.17 L 462.41 408.90 z " clip-path="url(#pd2f0a1f612)" style="fill: #6e0a1e; fill-opacity: 0.56"/> <path d="M 455.26 406.75 L 462.41 408.90 L 466.20 405.17 L 459.07 403.04 z " clip-path="url(#pd2f0a1f612)" style="fill: #dc143c; fill-opacity: 0.56"/> <path d="M 462.41 408.90 L 466.20 405.17 L 466.20 405.17 L 462.41 408.90 z " clip-path="url(#pd2f0a1f612)" style="fill: #6e0a1e; fill-opacity: 0.56"/> <path d="M 455.26 406.75 L 462.41 408.90 L 462.41 408.90 L 455.26 406.75 z " clip-path="url(#pd2f0a1f612)" style="fill: #6e0a1e; fill-opacity: 0.56"/> </g> <g id="Poly3DCollection_131"> <path d="M 365.08 403.87 L 365.08 403.87 L 371.94 406.01 L 371.94 406.01 z " clip-path="url(#pd2f0a1f612)" style="fill: #6e0a1e; fill-opacity: 0.56"/> <path d="M 360.78 407.59 L 360.78 407.59 L 365.08 403.87 L 365.08 403.87 z " clip-path="url(#pd2f0a1f612)" style="fill: #6e0a1e; fill-opacity: 0.56"/> <path d="M 360.78 407.59 L 365.08 403.87 L 371.94 406.01 L 367.66 409.75 z " clip-path="url(#pd2f0a1f612)" style="fill: #6e0a1e; fill-opacity: 0.56"/> <path d="M 360.78 407.59 L 367.66 409.75 L 371.94 406.01 L 365.08 403.87 z " clip-path="url(#pd2f0a1f612)" style="fill: #dc143c; fill-opacity: 0.56"/> <path d="M 367.66 409.75 L 371.94 406.01 L 371.94 406.01 L 367.66 409.75 z " clip-path="url(#pd2f0a1f612)" style="fill: #6e0a1e; fill-opacity: 0.56"/> <path d="M 360.78 407.59 L 367.66 409.75 L 367.66 409.75 L 360.78 407.59 z " clip-path="url(#pd2f0a1f612)" style="fill: #6e0a1e; fill-opacity: 0.56"/> </g> <g id="Poly3DCollection_132"> <path d="M 401.07 405.02 L 401.07 405.02 L 408.04 407.17 L 408.04 407.17 z " clip-path="url(#pd2f0a1f612)" style="fill: #6e0a1e; fill-opacity: 0.56"/> <path d="M 396.94 408.75 L 396.94 408.75 L 401.07 405.02 L 401.07 405.02 z " clip-path="url(#pd2f0a1f612)" style="fill: #6e0a1e; fill-opacity: 0.56"/> <path d="M 396.94 408.75 L 401.07 405.02 L 408.04 407.17 L 403.94 410.92 z " clip-path="url(#pd2f0a1f612)" style="fill: #6e0a1e; fill-opacity: 0.56"/> <path d="M 396.94 408.75 L 403.94 410.92 L 408.04 407.17 L 401.07 405.02 z " clip-path="url(#pd2f0a1f612)" style="fill: #dc143c; fill-opacity: 0.56"/> <path d="M 403.94 410.92 L 408.04 407.17 L 408.04 407.17 L 403.94 410.92 z " clip-path="url(#pd2f0a1f612)" style="fill: #6e0a1e; fill-opacity: 0.56"/> <path d="M 396.94 408.75 L 403.94 410.92 L 403.94 410.92 L 396.94 408.75 z " clip-path="url(#pd2f0a1f612)" style="fill: #6e0a1e; fill-opacity: 0.56"/> </g> <g id="Poly3DCollection_133"> <path d="M 437.16 406.17 L 437.16 406.17 L 444.26 408.32 L 444.26 408.32 z " clip-path="url(#pd2f0a1f612)" style="fill: #6e0a1e; fill-opacity: 0.56"/> <path d="M 433.22 409.91 L 433.22 409.91 L 437.16 406.17 L 437.16 406.17 z " clip-path="url(#pd2f0a1f612)" style="fill: #6e0a1e; fill-opacity: 0.56"/> <path d="M 433.22 409.91 L 437.16 406.17 L 444.26 408.32 L 440.34 412.09 z " clip-path="url(#pd2f0a1f612)" style="fill: #6e0a1e; fill-opacity: 0.56"/> <path d="M 433.22 409.91 L 440.34 412.09 L 444.26 408.32 L 437.16 406.17 z " clip-path="url(#pd2f0a1f612)" style="fill: #dc143c; fill-opacity: 0.56"/> <path d="M 440.34 412.09 L 444.26 408.32 L 444.26 408.32 L 440.34 412.09 z " clip-path="url(#pd2f0a1f612)" style="fill: #6e0a1e; fill-opacity: 0.56"/> <path d="M 433.22 409.91 L 440.34 412.09 L 440.34 412.09 L 433.22 409.91 z " clip-path="url(#pd2f0a1f612)" style="fill: #6e0a1e; fill-opacity: 0.56"/> </g> <g id="Poly3DCollection_134"> <path d="M 342.74 407.01 L 342.74 407.01 L 349.57 409.17 L 349.57 409.17 z " clip-path="url(#pd2f0a1f612)" style="fill: #6e0a1e; fill-opacity: 0.56"/> <path d="M 338.31 410.76 L 338.31 410.76 L 342.74 407.01 L 342.74 407.01 z " clip-path="url(#pd2f0a1f612)" style="fill: #6e0a1e; fill-opacity: 0.56"/> <path d="M 338.31 410.76 L 345.16 412.95 L 349.57 409.17 L 342.74 407.01 z " clip-path="url(#pd2f0a1f612)" style="fill: #dc143c; fill-opacity: 0.56"/> <path d="M 338.31 410.76 L 342.74 407.01 L 349.57 409.17 L 345.16 412.95 z " clip-path="url(#pd2f0a1f612)" style="fill: #6e0a1e; fill-opacity: 0.56"/> <path d="M 345.16 412.95 L 349.57 409.17 L 349.57 409.17 L 345.16 412.95 z " clip-path="url(#pd2f0a1f612)" style="fill: #6e0a1e; fill-opacity: 0.56"/> <path d="M 338.31 410.76 L 345.16 412.95 L 345.16 412.95 L 338.31 410.76 z " clip-path="url(#pd2f0a1f612)" style="fill: #6e0a1e; fill-opacity: 0.56"/> </g> <g id="Poly3DCollection_135"> <path d="M 473.38 407.32 L 473.38 407.32 L 480.59 409.48 L 480.59 409.48 z " clip-path="url(#pd2f0a1f612)" style="fill: #6e0a1e; fill-opacity: 0.56"/> <path d="M 469.61 411.08 L 469.61 411.08 L 473.38 407.32 L 473.38 407.32 z " clip-path="url(#pd2f0a1f612)" style="fill: #6e0a1e; fill-opacity: 0.56"/> <path d="M 469.61 411.08 L 476.85 413.26 L 480.59 409.48 L 473.38 407.32 z " clip-path="url(#pd2f0a1f612)" style="fill: #dc143c; fill-opacity: 0.56"/> <path d="M 469.61 411.08 L 473.38 407.32 L 480.59 409.48 L 476.85 413.26 z " clip-path="url(#pd2f0a1f612)" style="fill: #6e0a1e; fill-opacity: 0.56"/> <path d="M 476.85 413.26 L 480.59 409.48 L 480.59 409.48 L 476.85 413.26 z " clip-path="url(#pd2f0a1f612)" style="fill: #6e0a1e; fill-opacity: 0.56"/> <path d="M 469.61 411.08 L 476.85 413.26 L 476.85 413.26 L 469.61 411.08 z " clip-path="url(#pd2f0a1f612)" style="fill: #6e0a1e; fill-opacity: 0.56"/> </g> <g id="Poly3DCollection_136"> <path d="M 378.85 408.17 L 378.85 408.17 L 385.79 410.34 L 385.79 410.34 z " clip-path="url(#pd2f0a1f612)" style="fill: #6e0a1e; fill-opacity: 0.56"/> <path d="M 374.59 411.93 L 374.59 411.93 L 378.85 408.17 L 378.85 408.17 z " clip-path="url(#pd2f0a1f612)" style="fill: #6e0a1e; fill-opacity: 0.56"/> <path d="M 374.59 411.93 L 378.85 408.17 L 385.79 410.34 L 381.56 414.12 z " clip-path="url(#pd2f0a1f612)" style="fill: #6e0a1e; fill-opacity: 0.56"/> <path d="M 374.59 411.93 L 381.56 414.12 L 385.79 410.34 L 378.85 408.17 z " clip-path="url(#pd2f0a1f612)" style="fill: #dc143c; fill-opacity: 0.56"/> <path d="M 381.56 414.12 L 385.79 410.34 L 385.79 410.34 L 381.56 414.12 z " clip-path="url(#pd2f0a1f612)" style="fill: #6e0a1e; fill-opacity: 0.56"/> <path d="M 374.59 411.93 L 381.56 414.12 L 381.56 414.12 L 374.59 411.93 z " clip-path="url(#pd2f0a1f612)" style="fill: #6e0a1e; fill-opacity: 0.56"/> </g> <g id="Poly3DCollection_137"> <path d="M 415.07 409.33 L 415.07 409.33 L 422.13 411.50 L 422.13 411.50 z " clip-path="url(#pd2f0a1f612)" style="fill: #6e0a1e; fill-opacity: 0.56"/> <path d="M 410.99 413.10 L 410.99 413.10 L 415.07 409.33 L 415.07 409.33 z " clip-path="url(#pd2f0a1f612)" style="fill: #6e0a1e; fill-opacity: 0.56"/> <path d="M 410.99 413.10 L 415.07 409.33 L 422.13 411.50 L 418.08 415.30 z " clip-path="url(#pd2f0a1f612)" style="fill: #6e0a1e; fill-opacity: 0.56"/> <path d="M 410.99 413.10 L 418.08 415.30 L 422.13 411.50 L 415.07 409.33 z " clip-path="url(#pd2f0a1f612)" style="fill: #dc143c; fill-opacity: 0.56"/> <path d="M 418.08 415.30 L 422.13 411.50 L 422.13 411.50 L 418.08 415.30 z " clip-path="url(#pd2f0a1f612)" style="fill: #6e0a1e; fill-opacity: 0.56"/> <path d="M 410.99 413.10 L 418.08 415.30 L 418.08 415.30 L 410.99 413.10 z " clip-path="url(#pd2f0a1f612)" style="fill: #6e0a1e; fill-opacity: 0.56"/> </g> <g id="Poly3DCollection_138"> <path d="M 451.40 410.49 L 451.40 410.49 L 458.58 412.67 L 458.58 412.67 z " clip-path="url(#pd2f0a1f612)" style="fill: #6e0a1e; fill-opacity: 0.56"/> <path d="M 447.50 414.28 L 447.50 414.28 L 451.40 410.49 L 451.40 410.49 z " clip-path="url(#pd2f0a1f612)" style="fill: #6e0a1e; fill-opacity: 0.56"/> <path d="M 447.50 414.28 L 451.40 410.49 L 458.58 412.67 L 454.71 416.48 z " clip-path="url(#pd2f0a1f612)" style="fill: #6e0a1e; fill-opacity: 0.56"/> <path d="M 447.50 414.28 L 454.71 416.48 L 458.58 412.67 L 451.40 410.49 z " clip-path="url(#pd2f0a1f612)" style="fill: #dc143c; fill-opacity: 0.56"/> <path d="M 454.71 416.48 L 458.58 412.67 L 458.58 412.67 L 454.71 416.48 z " clip-path="url(#pd2f0a1f612)" style="fill: #6e0a1e; fill-opacity: 0.56"/> <path d="M 447.50 414.28 L 454.71 416.48 L 454.71 416.48 L 447.50 414.28 z " clip-path="url(#pd2f0a1f612)" style="fill: #6e0a1e; fill-opacity: 0.56"/> </g> <g id="Poly3DCollection_139"> <path d="M 356.43 411.35 L 356.43 411.35 L 363.34 413.53 L 363.34 413.53 z " clip-path="url(#pd2f0a1f612)" style="fill: #6e0a1e; fill-opacity: 0.56"/> <path d="M 352.04 415.14 L 352.04 415.14 L 356.43 411.35 L 356.43 411.35 z " clip-path="url(#pd2f0a1f612)" style="fill: #6e0a1e; fill-opacity: 0.56"/> <path d="M 352.04 415.14 L 356.43 411.35 L 363.34 413.53 L 358.98 417.35 z " clip-path="url(#pd2f0a1f612)" style="fill: #6e0a1e; fill-opacity: 0.56"/> <path d="M 352.04 415.14 L 358.98 417.35 L 363.34 413.53 L 356.43 411.35 z " clip-path="url(#pd2f0a1f612)" style="fill: #dc143c; fill-opacity: 0.56"/> <path d="M 358.98 417.35 L 363.34 413.53 L 363.34 413.53 L 358.98 417.35 z " clip-path="url(#pd2f0a1f612)" style="fill: #6e0a1e; fill-opacity: 0.56"/> <path d="M 352.04 415.14 L 358.98 417.35 L 358.98 417.35 L 352.04 415.14 z " clip-path="url(#pd2f0a1f612)" style="fill: #6e0a1e; fill-opacity: 0.56"/> </g> <g id="Poly3DCollection_140"> <path d="M 392.78 412.52 L 392.78 412.52 L 399.80 414.71 L 399.80 414.71 z " clip-path="url(#pd2f0a1f612)" style="fill: #6e0a1e; fill-opacity: 0.56"/> <path d="M 388.57 416.32 L 388.57 416.32 L 392.78 412.52 L 392.78 412.52 z " clip-path="url(#pd2f0a1f612)" style="fill: #6e0a1e; fill-opacity: 0.56"/> <path d="M 388.57 416.32 L 392.78 412.52 L 399.80 414.71 L 395.62 418.54 z " clip-path="url(#pd2f0a1f612)" style="fill: #6e0a1e; fill-opacity: 0.56"/> <path d="M 388.57 416.32 L 395.62 418.54 L 399.80 414.71 L 392.78 412.52 z " clip-path="url(#pd2f0a1f612)" style="fill: #dc143c; fill-opacity: 0.56"/> <path d="M 395.62 418.54 L 399.80 414.71 L 399.80 414.71 L 395.62 418.54 z " clip-path="url(#pd2f0a1f612)" style="fill: #6e0a1e; fill-opacity: 0.56"/> <path d="M 388.57 416.32 L 395.62 418.54 L 395.62 418.54 L 388.57 416.32 z " clip-path="url(#pd2f0a1f612)" style="fill: #6e0a1e; fill-opacity: 0.56"/> </g> <g id="Poly3DCollection_141"> <path d="M 429.23 413.69 L 429.23 413.69 L 436.38 415.89 L 436.38 415.89 z " clip-path="url(#pd2f0a1f612)" style="fill: #6e0a1e; fill-opacity: 0.56"/> <path d="M 425.21 417.51 L 425.21 417.51 L 429.23 413.69 L 429.23 413.69 z " clip-path="url(#pd2f0a1f612)" style="fill: #6e0a1e; fill-opacity: 0.56"/> <path d="M 425.21 417.51 L 429.23 413.69 L 436.38 415.89 L 432.38 419.73 z " clip-path="url(#pd2f0a1f612)" style="fill: #6e0a1e; fill-opacity: 0.56"/> <path d="M 425.21 417.51 L 432.38 419.73 L 436.38 415.89 L 429.23 413.69 z " clip-path="url(#pd2f0a1f612)" style="fill: #dc143c; fill-opacity: 0.56"/> <path d="M 432.38 419.73 L 436.38 415.89 L 436.38 415.89 L 432.38 419.73 z " clip-path="url(#pd2f0a1f612)" style="fill: #6e0a1e; fill-opacity: 0.56"/> <path d="M 425.21 417.51 L 432.38 419.73 L 432.38 419.73 L 425.21 417.51 z " clip-path="url(#pd2f0a1f612)" style="fill: #6e0a1e; fill-opacity: 0.56"/> </g> <g id="Poly3DCollection_142"> <path d="M 333.83 414.55 L 333.83 414.55 L 340.70 416.76 L 340.70 416.76 z " clip-path="url(#pd2f0a1f612)" style="fill: #6e0a1e; fill-opacity: 0.56"/> <path d="M 329.30 418.38 L 329.30 418.38 L 333.83 414.55 L 333.83 414.55 z " clip-path="url(#pd2f0a1f612)" style="fill: #6e0a1e; fill-opacity: 0.56"/> <path d="M 329.30 418.38 L 333.83 414.55 L 340.70 416.76 L 336.20 420.61 z " clip-path="url(#pd2f0a1f612)" style="fill: #6e0a1e; fill-opacity: 0.56"/> <path d="M 329.30 418.38 L 336.20 420.61 L 340.70 416.76 L 333.83 414.55 z " clip-path="url(#pd2f0a1f612)" style="fill: #dc143c; fill-opacity: 0.56"/> <path d="M 336.20 420.61 L 340.70 416.76 L 340.70 416.76 L 336.20 420.61 z " clip-path="url(#pd2f0a1f612)" style="fill: #6e0a1e; fill-opacity: 0.56"/> <path d="M 329.30 418.38 L 336.20 420.61 L 336.20 420.61 L 329.30 418.38 z " clip-path="url(#pd2f0a1f612)" style="fill: #6e0a1e; fill-opacity: 0.56"/> </g> <g id="Poly3DCollection_143"> <path d="M 465.81 414.87 L 465.81 414.87 L 473.07 417.08 L 473.07 417.08 z " clip-path="url(#pd2f0a1f612)" style="fill: #6e0a1e; fill-opacity: 0.56"/> <path d="M 461.96 418.70 L 461.96 418.70 L 465.81 414.87 L 465.81 414.87 z " clip-path="url(#pd2f0a1f612)" style="fill: #6e0a1e; fill-opacity: 0.56"/> <path d="M 461.96 418.70 L 469.25 420.93 L 473.07 417.08 L 465.81 414.87 z " clip-path="url(#pd2f0a1f612)" style="fill: #dc143c; fill-opacity: 0.56"/> <path d="M 461.96 418.70 L 465.81 414.87 L 473.07 417.08 L 469.25 420.93 z " clip-path="url(#pd2f0a1f612)" style="fill: #6e0a1e; fill-opacity: 0.56"/> <path d="M 469.25 420.93 L 473.07 417.08 L 473.07 417.08 L 469.25 420.93 z " clip-path="url(#pd2f0a1f612)" style="fill: #6e0a1e; fill-opacity: 0.56"/> <path d="M 461.96 418.70 L 469.25 420.93 L 469.25 420.93 L 461.96 418.70 z " clip-path="url(#pd2f0a1f612)" style="fill: #6e0a1e; fill-opacity: 0.56"/> </g> <g id="Poly3DCollection_144"> <path d="M 370.29 415.73 L 370.29 415.73 L 377.28 417.95 L 377.28 417.95 z " clip-path="url(#pd2f0a1f612)" style="fill: #6e0a1e; fill-opacity: 0.56"/> <path d="M 365.95 419.57 L 365.95 419.57 L 370.29 415.73 L 370.29 415.73 z " clip-path="url(#pd2f0a1f612)" style="fill: #6e0a1e; fill-opacity: 0.56"/> <path d="M 365.95 419.57 L 370.29 415.73 L 377.28 417.95 L 372.96 421.81 z " clip-path="url(#pd2f0a1f612)" style="fill: #6e0a1e; fill-opacity: 0.56"/> <path d="M 365.95 419.57 L 372.96 421.81 L 377.28 417.95 L 370.29 415.73 z " clip-path="url(#pd2f0a1f612)" style="fill: #dc143c; fill-opacity: 0.56"/> <path d="M 372.96 421.81 L 377.28 417.95 L 377.28 417.95 L 372.96 421.81 z " clip-path="url(#pd2f0a1f612)" style="fill: #6e0a1e; fill-opacity: 0.56"/> <path d="M 365.95 419.57 L 372.96 421.81 L 372.96 421.81 L 365.95 419.57 z " clip-path="url(#pd2f0a1f612)" style="fill: #6e0a1e; fill-opacity: 0.56"/> </g> <g id="Poly3DCollection_145"> <path d="M 406.87 416.92 L 406.87 416.92 L 413.98 419.14 L 413.98 419.14 z " clip-path="url(#pd2f0a1f612)" style="fill: #6e0a1e; fill-opacity: 0.56"/> <path d="M 402.71 420.77 L 402.71 420.77 L 406.87 416.92 L 406.87 416.92 z " clip-path="url(#pd2f0a1f612)" style="fill: #6e0a1e; fill-opacity: 0.56"/> <path d="M 402.71 420.77 L 409.85 423.01 L 413.98 419.14 L 406.87 416.92 z " clip-path="url(#pd2f0a1f612)" style="fill: #dc143c; fill-opacity: 0.56"/> <path d="M 402.71 420.77 L 406.87 416.92 L 413.98 419.14 L 409.85 423.01 z " clip-path="url(#pd2f0a1f612)" style="fill: #6e0a1e; fill-opacity: 0.56"/> <path d="M 409.85 423.01 L 413.98 419.14 L 413.98 419.14 L 409.85 423.01 z " clip-path="url(#pd2f0a1f612)" style="fill: #6e0a1e; fill-opacity: 0.56"/> <path d="M 402.71 420.77 L 409.85 423.01 L 409.85 423.01 L 402.71 420.77 z " clip-path="url(#pd2f0a1f612)" style="fill: #6e0a1e; fill-opacity: 0.56"/> </g> <g id="Poly3DCollection_146"> <path d="M 443.57 418.10 L 443.57 418.10 L 450.80 420.33 L 450.80 420.33 z " clip-path="url(#pd2f0a1f612)" style="fill: #6e0a1e; fill-opacity: 0.56"/> <path d="M 439.59 421.97 L 439.59 421.97 L 443.57 418.10 L 443.57 418.10 z " clip-path="url(#pd2f0a1f612)" style="fill: #6e0a1e; fill-opacity: 0.56"/> <path d="M 439.59 421.97 L 443.57 418.10 L 450.80 420.33 L 446.85 424.22 z " clip-path="url(#pd2f0a1f612)" style="fill: #6e0a1e; fill-opacity: 0.56"/> <path d="M 439.59 421.97 L 446.85 424.22 L 450.80 420.33 L 443.57 418.10 z " clip-path="url(#pd2f0a1f612)" style="fill: #dc143c; fill-opacity: 0.56"/> <path d="M 446.85 424.22 L 450.80 420.33 L 450.80 420.33 L 446.85 424.22 z " clip-path="url(#pd2f0a1f612)" style="fill: #6e0a1e; fill-opacity: 0.56"/> <path d="M 439.59 421.97 L 446.85 424.22 L 446.85 424.22 L 439.59 421.97 z " clip-path="url(#pd2f0a1f612)" style="fill: #6e0a1e; fill-opacity: 0.56"/> </g> <g id="Poly3DCollection_147"> <path d="M 347.61 418.98 L 347.61 418.98 L 354.56 421.21 L 354.56 421.21 z " clip-path="url(#pd2f0a1f612)" style="fill: #6e0a1e; fill-opacity: 0.56"/> <path d="M 343.13 422.85 L 343.13 422.85 L 347.61 418.98 L 347.61 418.98 z " clip-path="url(#pd2f0a1f612)" style="fill: #6e0a1e; fill-opacity: 0.56"/> <path d="M 343.13 422.85 L 347.61 418.98 L 354.56 421.21 L 350.11 425.11 z " clip-path="url(#pd2f0a1f612)" style="fill: #6e0a1e; fill-opacity: 0.56"/> <path d="M 343.13 422.85 L 350.11 425.11 L 354.56 421.21 L 347.61 418.98 z " clip-path="url(#pd2f0a1f612)" style="fill: #dc143c; fill-opacity: 0.56"/> <path d="M 350.11 425.11 L 354.56 421.21 L 354.56 421.21 L 350.11 425.11 z " clip-path="url(#pd2f0a1f612)" style="fill: #6e0a1e; fill-opacity: 0.56"/> <path d="M 343.13 422.85 L 350.11 425.11 L 350.11 425.11 L 343.13 422.85 z " clip-path="url(#pd2f0a1f612)" style="fill: #6e0a1e; fill-opacity: 0.56"/> </g> <g id="Poly3DCollection_148"> <path d="M 384.31 420.17 L 384.31 420.17 L 391.39 422.41 L 391.39 422.41 z " clip-path="url(#pd2f0a1f612)" style="fill: #6e0a1e; fill-opacity: 0.56"/> <path d="M 380.02 424.06 L 380.02 424.06 L 384.31 420.17 L 384.31 420.17 z " clip-path="url(#pd2f0a1f612)" style="fill: #6e0a1e; fill-opacity: 0.56"/> <path d="M 380.02 424.06 L 384.31 420.17 L 391.39 422.41 L 387.12 426.32 z " clip-path="url(#pd2f0a1f612)" style="fill: #6e0a1e; fill-opacity: 0.56"/> <path d="M 380.02 424.06 L 387.12 426.32 L 391.39 422.41 L 384.31 420.17 z " clip-path="url(#pd2f0a1f612)" style="fill: #dc143c; fill-opacity: 0.56"/> <path d="M 387.12 426.32 L 391.39 422.41 L 391.39 422.41 L 387.12 426.32 z " clip-path="url(#pd2f0a1f612)" style="fill: #6e0a1e; fill-opacity: 0.56"/> <path d="M 380.02 424.06 L 387.12 426.32 L 387.12 426.32 L 380.02 424.06 z " clip-path="url(#pd2f0a1f612)" style="fill: #6e0a1e; fill-opacity: 0.56"/> </g> <g id="Poly3DCollection_149"> <path d="M 421.14 421.37 L 421.14 421.37 L 428.33 423.62 L 428.33 423.62 z " clip-path="url(#pd2f0a1f612)" style="fill: #6e0a1e; fill-opacity: 0.56"/> <path d="M 417.02 425.27 L 417.02 425.27 L 421.14 421.37 L 421.14 421.37 z " clip-path="url(#pd2f0a1f612)" style="fill: #6e0a1e; fill-opacity: 0.56"/> <path d="M 417.02 425.27 L 421.14 421.37 L 428.33 423.62 L 424.25 427.54 z " clip-path="url(#pd2f0a1f612)" style="fill: #6e0a1e; fill-opacity: 0.56"/> <path d="M 417.02 425.27 L 424.25 427.54 L 428.33 423.62 L 421.14 421.37 z " clip-path="url(#pd2f0a1f612)" style="fill: #dc143c; fill-opacity: 0.56"/> <path d="M 424.25 427.54 L 428.33 423.62 L 428.33 423.62 L 424.25 427.54 z " clip-path="url(#pd2f0a1f612)" style="fill: #6e0a1e; fill-opacity: 0.56"/> <path d="M 417.02 425.27 L 424.25 427.54 L 424.25 427.54 L 417.02 425.27 z " clip-path="url(#pd2f0a1f612)" style="fill: #6e0a1e; fill-opacity: 0.56"/> </g> <g id="Poly3DCollection_150"> <path d="M 458.08 422.57 L 458.08 422.57 L 465.40 424.83 L 465.40 424.83 z " clip-path="url(#pd2f0a1f612)" style="fill: #6e0a1e; fill-opacity: 0.56"/> <path d="M 454.15 426.48 L 454.15 426.48 L 458.08 422.57 L 458.08 422.57 z " clip-path="url(#pd2f0a1f612)" style="fill: #6e0a1e; fill-opacity: 0.56"/> <path d="M 454.15 426.48 L 458.08 422.57 L 465.40 424.83 L 461.50 428.76 z " clip-path="url(#pd2f0a1f612)" style="fill: #6e0a1e; fill-opacity: 0.56"/> <path d="M 454.15 426.48 L 461.50 428.76 L 465.40 424.83 L 458.08 422.57 z " clip-path="url(#pd2f0a1f612)" style="fill: #dc143c; fill-opacity: 0.56"/> <path d="M 461.50 428.76 L 465.40 424.83 L 465.40 424.83 L 461.50 428.76 z " clip-path="url(#pd2f0a1f612)" style="fill: #6e0a1e; fill-opacity: 0.56"/> <path d="M 454.15 426.48 L 461.50 428.76 L 461.50 428.76 L 454.15 426.48 z " clip-path="url(#pd2f0a1f612)" style="fill: #6e0a1e; fill-opacity: 0.56"/> </g> <g id="Poly3DCollection_151"> <path d="M 361.56 423.45 L 361.56 423.45 L 368.60 425.71 L 368.60 425.71 z " clip-path="url(#pd2f0a1f612)" style="fill: #6e0a1e; fill-opacity: 0.56"/> <path d="M 357.12 427.38 L 357.12 427.38 L 361.56 423.45 L 361.56 423.45 z " clip-path="url(#pd2f0a1f612)" style="fill: #6e0a1e; fill-opacity: 0.56"/> <path d="M 357.12 427.38 L 361.56 423.45 L 368.60 425.71 L 364.18 429.66 z " clip-path="url(#pd2f0a1f612)" style="fill: #6e0a1e; fill-opacity: 0.56"/> <path d="M 357.12 427.38 L 364.18 429.66 L 368.60 425.71 L 361.56 423.45 z " clip-path="url(#pd2f0a1f612)" style="fill: #dc143c; fill-opacity: 0.56"/> <path d="M 364.18 429.66 L 368.60 425.71 L 368.60 425.71 L 364.18 429.66 z " clip-path="url(#pd2f0a1f612)" style="fill: #6e0a1e; fill-opacity: 0.56"/> <path d="M 357.12 427.38 L 364.18 429.66 L 364.18 429.66 L 357.12 427.38 z " clip-path="url(#pd2f0a1f612)" style="fill: #6e0a1e; fill-opacity: 0.56"/> </g> <g id="Poly3DCollection_152"> <path d="M 398.51 424.66 L 398.51 424.66 L 405.67 426.93 L 405.67 426.93 z " clip-path="url(#pd2f0a1f612)" style="fill: #6e0a1e; fill-opacity: 0.56"/> <path d="M 394.26 428.60 L 394.26 428.60 L 398.51 424.66 L 398.51 424.66 z " clip-path="url(#pd2f0a1f612)" style="fill: #6e0a1e; fill-opacity: 0.56"/> <path d="M 394.26 428.60 L 398.51 424.66 L 405.67 426.93 L 401.44 430.89 z " clip-path="url(#pd2f0a1f612)" style="fill: #6e0a1e; fill-opacity: 0.56"/> <path d="M 394.26 428.60 L 401.44 430.89 L 405.67 426.93 L 398.51 424.66 z " clip-path="url(#pd2f0a1f612)" style="fill: #dc143c; fill-opacity: 0.56"/> <path d="M 401.44 430.89 L 405.67 426.93 L 405.67 426.93 L 401.44 430.89 z " clip-path="url(#pd2f0a1f612)" style="fill: #6e0a1e; fill-opacity: 0.56"/> <path d="M 394.26 428.60 L 401.44 430.89 L 401.44 430.89 L 394.26 428.60 z " clip-path="url(#pd2f0a1f612)" style="fill: #6e0a1e; fill-opacity: 0.56"/> </g> <g id="Poly3DCollection_153"> <path d="M 435.57 425.88 L 435.57 425.88 L 442.86 428.15 L 442.86 428.15 z " clip-path="url(#pd2f0a1f612)" style="fill: #6e0a1e; fill-opacity: 0.56"/> <path d="M 431.51 429.82 L 431.51 429.82 L 435.57 425.88 L 435.57 425.88 z " clip-path="url(#pd2f0a1f612)" style="fill: #6e0a1e; fill-opacity: 0.56"/> <path d="M 431.51 429.82 L 435.57 425.88 L 442.86 428.15 L 438.82 432.12 z " clip-path="url(#pd2f0a1f612)" style="fill: #6e0a1e; fill-opacity: 0.56"/> <path d="M 431.51 429.82 L 438.82 432.12 L 442.86 428.15 L 435.57 425.88 z " clip-path="url(#pd2f0a1f612)" style="fill: #dc143c; fill-opacity: 0.56"/> <path d="M 438.82 432.12 L 442.86 428.15 L 442.86 428.15 L 438.82 432.12 z " clip-path="url(#pd2f0a1f612)" style="fill: #6e0a1e; fill-opacity: 0.56"/> <path d="M 431.51 429.82 L 438.82 432.12 L 438.82 432.12 L 431.51 429.82 z " clip-path="url(#pd2f0a1f612)" style="fill: #6e0a1e; fill-opacity: 0.56"/> </g> <g id="Poly3DCollection_154"> <path d="M 375.68 427.99 L 375.68 427.99 L 382.80 430.27 L 382.80 430.27 z " clip-path="url(#pd2f0a1f612)" style="fill: #6e0a1e; fill-opacity: 0.56"/> <path d="M 371.29 431.95 L 371.29 431.95 L 375.68 427.99 L 375.68 427.99 z " clip-path="url(#pd2f0a1f612)" style="fill: #6e0a1e; fill-opacity: 0.56"/> <path d="M 371.29 431.95 L 378.44 434.27 L 382.80 430.27 L 375.68 427.99 z " clip-path="url(#pd2f0a1f612)" style="fill: #dc143c; fill-opacity: 0.56"/> <path d="M 371.29 431.95 L 375.68 427.99 L 382.80 430.27 L 378.44 434.27 z " clip-path="url(#pd2f0a1f612)" style="fill: #6e0a1e; fill-opacity: 0.56"/> <path d="M 378.44 434.27 L 382.80 430.27 L 382.80 430.27 L 378.44 434.27 z " clip-path="url(#pd2f0a1f612)" style="fill: #6e0a1e; fill-opacity: 0.56"/> <path d="M 371.29 431.95 L 378.44 434.27 L 378.44 434.27 L 371.29 431.95 z " clip-path="url(#pd2f0a1f612)" style="fill: #6e0a1e; fill-opacity: 0.56"/> </g> <g id="Poly3DCollection_155"> <path d="M 412.87 429.21 L 412.87 429.21 L 420.12 431.50 L 420.12 431.50 z " clip-path="url(#pd2f0a1f612)" style="fill: #6e0a1e; fill-opacity: 0.56"/> <path d="M 408.67 433.19 L 408.67 433.19 L 412.87 429.21 L 412.87 429.21 z " clip-path="url(#pd2f0a1f612)" style="fill: #6e0a1e; fill-opacity: 0.56"/> <path d="M 408.67 433.19 L 415.94 435.51 L 420.12 431.50 L 412.87 429.21 z " clip-path="url(#pd2f0a1f612)" style="fill: #dc143c; fill-opacity: 0.56"/> <path d="M 408.67 433.19 L 412.87 429.21 L 420.12 431.50 L 415.94 435.51 z " clip-path="url(#pd2f0a1f612)" style="fill: #6e0a1e; fill-opacity: 0.56"/> <path d="M 415.94 435.51 L 420.12 431.50 L 420.12 431.50 L 415.94 435.51 z " clip-path="url(#pd2f0a1f612)" style="fill: #6e0a1e; fill-opacity: 0.56"/> <path d="M 408.67 433.19 L 415.94 435.51 L 415.94 435.51 L 408.67 433.19 z " clip-path="url(#pd2f0a1f612)" style="fill: #6e0a1e; fill-opacity: 0.56"/> </g> <g id="Poly3DCollection_156"> <path d="M 450.18 430.44 L 450.18 430.44 L 457.56 432.74 L 457.56 432.74 z " clip-path="url(#pd2f0a1f612)" style="fill: #6e0a1e; fill-opacity: 0.56"/> <path d="M 446.18 434.43 L 446.18 434.43 L 450.18 430.44 L 450.18 430.44 z " clip-path="url(#pd2f0a1f612)" style="fill: #6e0a1e; fill-opacity: 0.56"/> <path d="M 446.18 434.43 L 453.58 436.76 L 457.56 432.74 L 450.18 430.44 z " clip-path="url(#pd2f0a1f612)" style="fill: #dc143c; fill-opacity: 0.56"/> <path d="M 446.18 434.43 L 450.18 430.44 L 457.56 432.74 L 453.58 436.76 z " clip-path="url(#pd2f0a1f612)" style="fill: #6e0a1e; fill-opacity: 0.56"/> <path d="M 453.58 436.76 L 457.56 432.74 L 457.56 432.74 L 453.58 436.76 z " clip-path="url(#pd2f0a1f612)" style="fill: #6e0a1e; fill-opacity: 0.56"/> <path d="M 446.18 434.43 L 453.58 436.76 L 453.58 436.76 L 446.18 434.43 z " clip-path="url(#pd2f0a1f612)" style="fill: #6e0a1e; fill-opacity: 0.56"/> </g> <g id="Poly3DCollection_157"> <path d="M 389.96 432.57 L 389.96 432.57 L 397.17 434.89 L 397.17 434.89 z " clip-path="url(#pd2f0a1f612)" style="fill: #6e0a1e; fill-opacity: 0.56"/> <path d="M 385.63 436.59 L 385.63 436.59 L 389.96 432.57 L 389.96 432.57 z " clip-path="url(#pd2f0a1f612)" style="fill: #6e0a1e; fill-opacity: 0.56"/> <path d="M 385.63 436.59 L 389.96 432.57 L 397.17 434.89 L 392.86 438.93 z " clip-path="url(#pd2f0a1f612)" style="fill: #6e0a1e; fill-opacity: 0.56"/> <path d="M 385.63 436.59 L 392.86 438.93 L 397.17 434.89 L 389.96 432.57 z " clip-path="url(#pd2f0a1f612)" style="fill: #dc143c; fill-opacity: 0.56"/> <path d="M 392.86 438.93 L 397.17 434.89 L 397.17 434.89 L 392.86 438.93 z " clip-path="url(#pd2f0a1f612)" style="fill: #6e0a1e; fill-opacity: 0.56"/> <path d="M 385.63 436.59 L 392.86 438.93 L 392.86 438.93 L 385.63 436.59 z " clip-path="url(#pd2f0a1f612)" style="fill: #6e0a1e; fill-opacity: 0.56"/> </g> <g id="Poly3DCollection_158"> <path d="M 427.41 433.81 L 427.41 433.81 L 434.74 436.13 L 434.74 436.13 z " clip-path="url(#pd2f0a1f612)" style="fill: #6e0a1e; fill-opacity: 0.56"/> <path d="M 423.26 437.84 L 423.26 437.84 L 427.41 433.81 L 427.41 433.81 z " clip-path="url(#pd2f0a1f612)" style="fill: #6e0a1e; fill-opacity: 0.56"/> <path d="M 423.26 437.84 L 430.62 440.19 L 434.74 436.13 L 427.41 433.81 z " clip-path="url(#pd2f0a1f612)" style="fill: #dc143c; fill-opacity: 0.56"/> <path d="M 423.26 437.84 L 427.41 433.81 L 434.74 436.13 L 430.62 440.19 z " clip-path="url(#pd2f0a1f612)" style="fill: #6e0a1e; fill-opacity: 0.56"/> <path d="M 430.62 440.19 L 434.74 436.13 L 434.74 436.13 L 430.62 440.19 z " clip-path="url(#pd2f0a1f612)" style="fill: #6e0a1e; fill-opacity: 0.56"/> <path d="M 423.26 437.84 L 430.62 440.19 L 430.62 440.19 L 423.26 437.84 z " clip-path="url(#pd2f0a1f612)" style="fill: #6e0a1e; fill-opacity: 0.56"/> </g> <g id="Poly3DCollection_159"> <path d="M 404.43 437.22 L 404.43 437.22 L 411.73 439.56 L 411.73 439.56 z " clip-path="url(#pd2f0a1f612)" style="fill: #6e0a1e; fill-opacity: 0.56"/> <path d="M 400.14 441.28 L 400.14 441.28 L 404.43 437.22 L 404.43 437.22 z " clip-path="url(#pd2f0a1f612)" style="fill: #6e0a1e; fill-opacity: 0.56"/> <path d="M 400.14 441.28 L 404.43 437.22 L 411.73 439.56 L 407.46 443.65 z " clip-path="url(#pd2f0a1f612)" style="fill: #6e0a1e; fill-opacity: 0.56"/> <path d="M 400.14 441.28 L 407.46 443.65 L 411.73 439.56 L 404.43 437.22 z " clip-path="url(#pd2f0a1f612)" style="fill: #dc143c; fill-opacity: 0.56"/> <path d="M 407.46 443.65 L 411.73 439.56 L 411.73 439.56 L 407.46 443.65 z " clip-path="url(#pd2f0a1f612)" style="fill: #6e0a1e; fill-opacity: 0.56"/> <path d="M 400.14 441.28 L 407.46 443.65 L 407.46 443.65 L 400.14 441.28 z " clip-path="url(#pd2f0a1f612)" style="fill: #6e0a1e; fill-opacity: 0.56"/> </g> <g id="Poly3DCollection_160"> <path d="M 442.13 438.47 L 442.13 438.47 L 449.55 440.82 L 449.55 440.82 z " clip-path="url(#pd2f0a1f612)" style="fill: #6e0a1e; fill-opacity: 0.56"/> <path d="M 438.03 442.55 L 438.03 442.55 L 442.13 438.47 L 442.13 438.47 z " clip-path="url(#pd2f0a1f612)" style="fill: #6e0a1e; fill-opacity: 0.56"/> <path d="M 438.03 442.55 L 442.13 438.47 L 449.55 440.82 L 445.48 444.92 z " clip-path="url(#pd2f0a1f612)" style="fill: #6e0a1e; fill-opacity: 0.56"/> <path d="M 438.03 442.55 L 445.48 444.92 L 449.55 440.82 L 442.13 438.47 z " clip-path="url(#pd2f0a1f612)" style="fill: #dc143c; fill-opacity: 0.56"/> <path d="M 445.48 444.92 L 449.55 440.82 L 449.55 440.82 L 445.48 444.92 z " clip-path="url(#pd2f0a1f612)" style="fill: #6e0a1e; fill-opacity: 0.56"/> <path d="M 438.03 442.55 L 445.48 444.92 L 445.48 444.92 L 438.03 442.55 z " clip-path="url(#pd2f0a1f612)" style="fill: #6e0a1e; fill-opacity: 0.56"/> </g> <g id="Poly3DCollection_161"> <path d="M 419.07 441.91 L 419.07 441.91 L 426.46 444.29 L 426.46 444.29 z " clip-path="url(#pd2f0a1f612)" style="fill: #6e0a1e; fill-opacity: 0.56"/> <path d="M 414.83 446.03 L 414.83 446.03 L 419.07 441.91 L 419.07 441.91 z " clip-path="url(#pd2f0a1f612)" style="fill: #6e0a1e; fill-opacity: 0.56"/> <path d="M 414.83 446.03 L 419.07 441.91 L 426.46 444.29 L 422.25 448.43 z " clip-path="url(#pd2f0a1f612)" style="fill: #6e0a1e; fill-opacity: 0.56"/> <path d="M 414.83 446.03 L 422.25 448.43 L 426.46 444.29 L 419.07 441.91 z " clip-path="url(#pd2f0a1f612)" style="fill: #dc143c; fill-opacity: 0.56"/> <path d="M 422.25 448.43 L 426.46 444.29 L 426.46 444.29 L 422.25 448.43 z " clip-path="url(#pd2f0a1f612)" style="fill: #6e0a1e; fill-opacity: 0.56"/> <path d="M 414.83 446.03 L 422.25 448.43 L 422.25 448.43 L 414.83 446.03 z " clip-path="url(#pd2f0a1f612)" style="fill: #6e0a1e; fill-opacity: 0.56"/> </g> <g id="Poly3DCollection_162"> <path d="M 433.89 446.67 L 433.89 446.67 L 441.37 449.07 L 441.37 449.07 z " clip-path="url(#pd2f0a1f612)" style="fill: #6e0a1e; fill-opacity: 0.56"/> <path d="M 429.71 450.84 L 429.71 450.84 L 433.89 446.67 L 433.89 446.67 z " clip-path="url(#pd2f0a1f612)" style="fill: #6e0a1e; fill-opacity: 0.56"/> <path d="M 429.71 450.84 L 433.89 446.67 L 441.37 449.07 L 437.22 453.27 z " clip-path="url(#pd2f0a1f612)" style="fill: #6e0a1e; fill-opacity: 0.56"/> <path d="M 429.71 450.84 L 437.22 453.27 L 441.37 449.07 L 433.89 446.67 z " clip-path="url(#pd2f0a1f612)" style="fill: #dc143c; fill-opacity: 0.56"/> <path d="M 437.22 453.27 L 441.37 449.07 L 441.37 449.07 L 437.22 453.27 z " clip-path="url(#pd2f0a1f612)" style="fill: #6e0a1e; fill-opacity: 0.56"/> <path d="M 429.71 450.84 L 437.22 453.27 L 437.22 453.27 L 429.71 450.84 z " clip-path="url(#pd2f0a1f612)" style="fill: #6e0a1e; fill-opacity: 0.56"/> </g> </g> </g> <defs> <clipPath id="p7f9aa840dd"> <rect x="-5.1" y="-9.7" width="220.8" height="220.8"/> </clipPath> <clipPath id="pb21ce0d8b9"> <rect x="300.3" y="-12.9" width="220.8" height="220.8"/> </clipPath> <clipPath id="p75929166d0"> <rect x="-4.1" y="246.4" width="220.8" height="220.8"/> </clipPath> <clipPath id="pd2f0a1f612"> <rect x="300.2" y="255.6" width="220.8" height="220.8"/> </clipPath> </defs> </svg> 
<div class="cap" style="left:124px;top:517.3px">(<b>a</b>)</div>
<div class="cap" style="left:434px;top:517.3px">(<b>b</b>)</div>
</body></html>
